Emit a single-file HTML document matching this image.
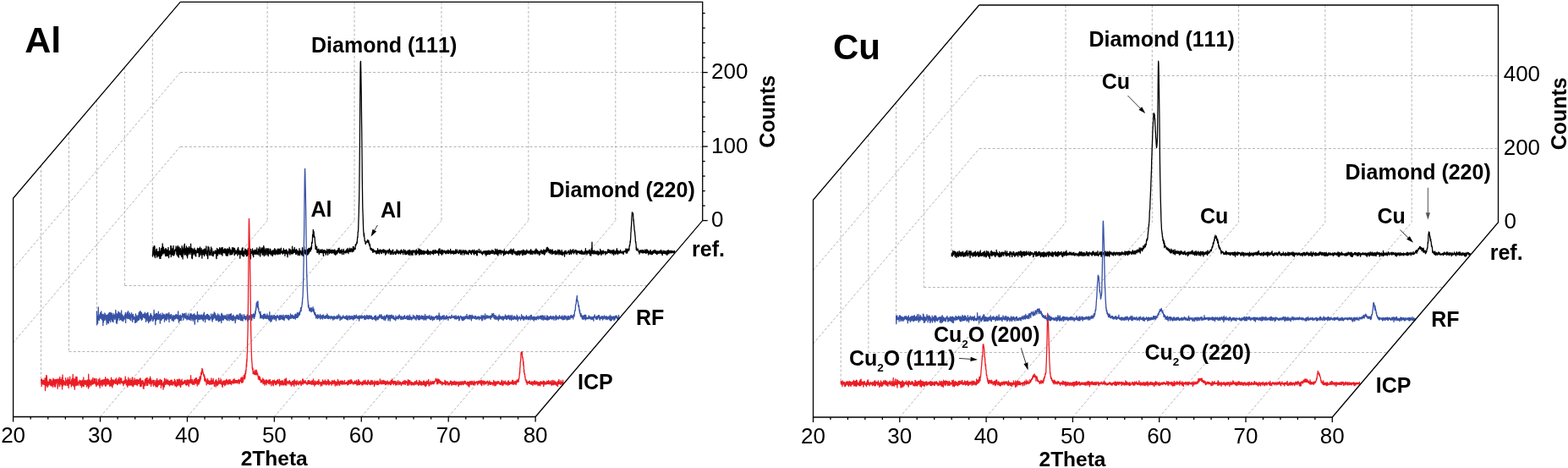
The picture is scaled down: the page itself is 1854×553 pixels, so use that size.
<!DOCTYPE html>
<html><head><meta charset="utf-8"><style>html,body{margin:0;padding:0;background:#fff}svg{display:block}</style></head>
<body><svg width="1854" height="553" viewBox="0 0 1854 553">
<style>.g{stroke:#b4b4b4;stroke-width:1;stroke-dasharray:3 2.3;fill:none} .t{stroke:#000;stroke-width:1.3} text{font-family:"Liberation Sans",Arial,sans-serif;fill:#000;font-kerning:none}</style>
<rect width="100%" height="100%" fill="#fff"/>
<line x1="316.12" y1="2.4" x2="316.12" y2="260.6" class="g"/>
<line x1="118.52" y1="492.5" x2="316.12" y2="260.6" class="g"/>
<line x1="419.04" y1="2.4" x2="419.04" y2="260.6" class="g"/>
<line x1="221.44" y1="492.5" x2="419.04" y2="260.6" class="g"/>
<line x1="521.96" y1="2.4" x2="521.96" y2="260.6" class="g"/>
<line x1="324.36" y1="492.5" x2="521.96" y2="260.6" class="g"/>
<line x1="624.88" y1="2.4" x2="624.88" y2="260.6" class="g"/>
<line x1="427.28" y1="492.5" x2="624.88" y2="260.6" class="g"/>
<line x1="727.8" y1="2.4" x2="727.8" y2="260.6" class="g"/>
<line x1="530.2" y1="492.5" x2="727.8" y2="260.6" class="g"/>
<line x1="213.2" y1="173.5" x2="830.72" y2="173.5" class="g"/>
<line x1="15.6" y1="405" x2="213.2" y2="173.1" class="g"/>
<line x1="213.2" y1="85.5" x2="830.72" y2="85.5" class="g"/>
<line x1="15.6" y1="317.5" x2="213.2" y2="85.6" class="g"/>
<line x1="48.53" y1="195.65" x2="48.53" y2="453.85" class="g"/>
<line x1="81.47" y1="157" x2="81.47" y2="415.2" class="g"/>
<line x1="81.47" y1="415.5" x2="698.99" y2="415.5" class="g"/>
<line x1="114.4" y1="118.35" x2="114.4" y2="376.55" class="g"/>
<line x1="147.33" y1="79.7" x2="147.33" y2="337.9" class="g"/>
<line x1="147.33" y1="337.5" x2="764.85" y2="337.5" class="g"/>
<line x1="180.27" y1="41.05" x2="180.27" y2="299.25" class="g"/>
<line x1="1260" y1="6" x2="1260" y2="262.7" class="g"/>
<line x1="1063.8" y1="493" x2="1260" y2="262.7" class="g"/>
<line x1="1362.3" y1="6" x2="1362.3" y2="262.7" class="g"/>
<line x1="1166.1" y1="493" x2="1362.3" y2="262.7" class="g"/>
<line x1="1464.6" y1="6" x2="1464.6" y2="262.7" class="g"/>
<line x1="1268.4" y1="493" x2="1464.6" y2="262.7" class="g"/>
<line x1="1566.9" y1="6" x2="1566.9" y2="262.7" class="g"/>
<line x1="1370.7" y1="493" x2="1566.9" y2="262.7" class="g"/>
<line x1="1669.2" y1="6" x2="1669.2" y2="262.7" class="g"/>
<line x1="1473" y1="493" x2="1669.2" y2="262.7" class="g"/>
<line x1="1157.7" y1="175.5" x2="1771.5" y2="175.5" class="g"/>
<line x1="961.5" y1="406.2" x2="1157.7" y2="175.9" class="g"/>
<line x1="1157.7" y1="89.5" x2="1771.5" y2="89.5" class="g"/>
<line x1="961.5" y1="319.4" x2="1157.7" y2="89.1" class="g"/>
<line x1="994.2" y1="197.92" x2="994.2" y2="454.62" class="g"/>
<line x1="1026.9" y1="159.53" x2="1026.9" y2="416.23" class="g"/>
<line x1="1026.9" y1="416.5" x2="1640.7" y2="416.5" class="g"/>
<line x1="1059.6" y1="121.15" x2="1059.6" y2="377.85" class="g"/>
<line x1="1092.3" y1="82.77" x2="1092.3" y2="339.47" class="g"/>
<line x1="1092.3" y1="339.5" x2="1706.1" y2="339.5" class="g"/>
<line x1="1125" y1="44.38" x2="1125" y2="301.08" class="g"/>
<path d="M180.3,300.8 180.5,303.0 180.7,298.5 180.9,295.7 181.1,292.7 181.3,297.0 181.5,299.8 181.7,300.7 181.9,294.3 182.1,290.7 182.3,296.3 182.5,302.6 182.7,301.4 182.9,290.8 183.1,296.6 183.4,304.6 183.6,297.8 183.8,302.2 184.0,300.1 184.2,299.5 184.4,300.4 184.6,295.2 184.8,297.7 185.0,299.9 185.2,295.8 185.4,294.1 185.6,304.2 185.8,298.5 186.0,301.5 186.2,298.1 186.4,302.7 186.6,297.4 186.9,297.6 187.1,298.7 187.3,301.7 187.5,299.1 187.7,301.9 187.9,302.9 188.1,296.6 188.3,301.9 188.5,292.7 188.7,294.6 188.9,305.5 189.1,296.4 189.3,301.9 189.5,297.3 189.7,297.3 189.9,305.4 190.1,298.4 190.4,298.5 190.6,293.6 190.8,302.2 191.0,294.5 191.2,301.9 191.4,298.8 191.6,300.8 191.8,291.7 192.0,295.2 192.2,287.8 192.4,294.9 192.6,294.1 192.8,294.2 193.0,299.9 193.2,297.7 193.4,292.2 193.6,299.0 193.9,296.7 194.1,297.6 194.3,295.1 194.5,298.9 194.7,298.1 194.9,296.5 195.1,297.1 195.3,300.9 195.5,294.0 195.7,302.5 195.9,302.2 196.1,302.5 196.3,293.7 196.5,298.9 196.7,301.2 196.9,301.9 197.1,295.9 197.4,301.6 197.6,302.4 197.8,295.1 198.0,302.1 198.2,298.8 198.4,297.5 198.6,299.2 198.8,297.7 199.0,292.3 199.2,299.5 199.4,302.3 199.6,304.5 199.8,298.3 200.0,298.8 200.2,296.5 200.4,299.3 200.6,299.3 200.9,300.2 201.1,299.5 201.3,296.9 201.5,298.9 201.7,297.1 201.9,290.3 202.1,295.7 202.3,303.4 202.5,291.0 202.7,296.2 202.9,301.0 203.1,294.1 203.3,297.5 203.5,299.8 203.7,299.9 203.9,301.2 204.1,297.3 204.3,293.5 204.6,298.7 204.8,295.9 205.0,290.5 205.2,302.0 205.4,296.5 205.6,298.6 205.8,301.4 206.0,301.3 206.2,297.6 206.4,295.9 206.6,299.5 206.8,297.3 207.0,294.9 207.2,296.4 207.4,294.3 207.6,295.8 207.8,295.7 208.1,290.8 208.3,295.2 208.5,297.0 208.7,294.9 208.9,300.9 209.1,298.7 209.3,294.6 209.5,295.2 209.7,291.9 209.9,297.5 210.1,302.8 210.3,290.5 210.5,293.6 210.7,301.3 210.9,292.5 211.1,297.4 211.3,304.1 211.6,299.0 211.8,299.3 212.0,291.8 212.2,300.3 212.4,298.4 212.6,298.5 212.8,298.9 213.0,300.8 213.2,296.8 213.4,293.7 213.6,295.3 213.8,300.8 214.0,301.6 214.2,297.1 214.4,300.0 214.6,299.8 214.8,303.5 215.1,290.6 215.3,294.3 215.5,301.0 215.7,294.3 215.9,292.8 216.1,306.0 216.3,299.5 216.5,298.9 216.7,295.3 216.9,298.0 217.1,298.3 217.3,297.7 217.5,291.0 217.7,290.0 217.9,299.4 218.1,300.8 218.3,288.1 218.6,301.0 218.8,299.5 219.0,297.4 219.2,295.8 219.4,293.9 219.6,296.2 219.8,300.6 220.0,295.8 220.2,296.7 220.4,291.0 220.6,297.6 220.8,302.2 221.0,301.2 221.2,292.5 221.4,299.4 221.6,304.8 221.8,299.5 222.1,297.6 222.3,293.4 222.5,301.0 222.7,295.3 222.9,294.8 223.1,300.0 223.3,298.2 223.5,291.5 223.7,291.6 223.9,294.6 224.1,296.4 224.3,293.7 224.5,298.1 224.7,297.9 224.9,300.5 225.1,297.5 225.3,297.8 225.6,288.1 225.8,298.2 226.0,293.2 226.2,293.1 226.4,298.2 226.6,293.6 226.8,304.9 227.0,297.2 227.2,294.6 227.4,305.7 227.6,301.5 227.8,294.0 228.0,298.4 228.2,301.3 228.4,298.8 228.6,299.4 228.8,295.1 229.1,296.0 229.3,298.5 229.5,299.8 229.7,297.7 229.9,293.1 230.1,296.4 230.3,295.4 230.5,298.1 230.7,301.9 230.9,300.0 231.1,295.4 231.3,297.2 231.5,300.6 231.7,302.9 231.9,297.2 232.1,298.7 232.3,298.7 232.6,298.7 232.8,296.6 233.0,296.6 233.2,294.4 233.4,294.5 233.6,293.2 233.8,294.9 234.0,298.7 234.2,297.7 234.4,295.9 234.6,298.6 234.8,295.8 235.0,293.8 235.2,300.2 235.4,303.4 235.6,293.7 235.8,297.5 236.0,295.3 236.3,301.9 236.5,291.9 236.7,295.2 236.9,298.0 237.1,298.7 237.3,297.2 237.5,298.1 237.7,298.5 237.9,301.2 238.1,293.5 238.3,297.7 238.5,297.4 238.7,297.3 238.9,305.2 239.1,295.9 239.3,298.6 239.5,298.5 239.8,297.3 240.0,300.7 240.2,294.9 240.4,299.8 240.6,300.5 240.8,300.3 241.0,297.1 241.2,295.2 241.4,299.5 241.6,302.4 241.8,294.2 242.0,301.0 242.2,293.8 242.4,297.8 242.6,299.8 242.8,299.6 243.0,296.1 243.3,294.8 243.5,298.2 243.7,294.6 243.9,291.0 244.1,298.2 244.3,301.2 244.5,300.9 244.7,302.0 244.9,299.6 245.1,299.9 245.3,301.7 245.5,295.9 245.7,305.7 245.9,301.7 246.1,291.3 246.3,294.3 246.5,296.0 246.8,296.2 247.0,292.1 247.2,295.9 247.4,297.4 247.6,301.4 247.8,297.8 248.0,299.9 248.2,299.8 248.4,299.8 248.6,297.8 248.8,298.6 249.0,294.9 249.2,301.7 249.4,298.1 249.6,291.9 249.8,297.5 250.0,293.9 250.3,294.1 250.5,293.6 250.7,295.4 250.9,301.8 251.1,298.4 251.3,298.7 251.5,302.3 251.7,299.0 251.9,301.4 252.1,302.7 252.3,297.0 252.5,297.8 252.7,299.7 252.9,300.5 253.1,299.3 253.3,298.8 253.5,298.9 253.8,297.8 254.0,298.9 254.2,296.4 254.4,296.0 254.6,296.5 254.8,299.6 255.0,299.5 255.2,296.3 255.4,298.2 255.6,297.7 255.8,305.0 256.0,305.7 256.2,296.6 256.4,296.6 256.6,293.5 256.8,295.5 257.0,297.0 257.3,297.6 257.5,301.9 257.7,295.0 257.9,299.4 258.1,296.1 258.3,297.0 258.5,296.9 258.7,295.0 258.9,299.1 259.1,298.8 259.3,300.1 259.5,298.7 259.7,292.7 259.9,298.7 260.1,294.2 260.3,295.2 260.5,295.5 260.8,295.3 261.0,300.6 261.2,296.6 261.4,293.0 261.6,299.7 261.8,297.8 262.0,299.6 262.2,296.7 262.4,300.7 262.6,293.0 262.8,298.7 263.0,302.1 263.2,292.5 263.4,294.8 263.6,296.2 263.8,296.1 264.0,298.7 264.2,298.3 264.5,295.6 264.7,295.0 264.9,295.0 265.1,297.0 265.3,298.9 265.5,298.2 265.7,294.5 265.9,293.6 266.1,298.6 266.3,299.0 266.5,294.1 266.7,295.6 266.9,295.7 267.1,301.4 267.3,298.7 267.5,299.1 267.7,297.0 268.0,302.4 268.2,294.1 268.4,296.8 268.6,296.4 268.8,301.0 269.0,297.7 269.2,293.9 269.4,302.0 269.6,296.8 269.8,295.7 270.0,299.6 270.2,295.4 270.4,298.6 270.6,294.3 270.8,296.2 271.0,297.0 271.2,292.1 271.5,295.3 271.7,294.0 271.9,301.0 272.1,299.4 272.3,295.4 272.5,295.2 272.7,297.8 272.9,295.5 273.1,300.6 273.3,297.1 273.5,300.8 273.7,296.7 273.9,299.0 274.1,299.4 274.3,297.5 274.5,292.7 274.7,300.4 275.0,299.3 275.2,294.8 275.4,298.8 275.6,292.9 275.8,297.1 276.0,297.4 276.2,296.7 276.4,293.0 276.6,295.9 276.8,296.3 277.0,297.0 277.2,301.8 277.4,300.0 277.6,293.7 277.8,295.5 278.0,296.3 278.2,296.0 278.5,299.1 278.7,296.7 278.9,300.1 279.1,296.7 279.3,299.6 279.5,298.2 279.7,296.5 279.9,298.5 280.1,296.0 280.3,296.5 280.5,296.7 280.7,294.2 280.9,301.6 281.1,301.8 281.3,296.1 281.5,295.2 281.7,292.4 282.0,295.7 282.2,295.5 282.4,300.0 282.6,295.7 282.8,295.9 283.0,300.4 283.2,300.0 283.4,298.0 283.6,296.9 283.8,305.3 284.0,297.5 284.2,297.1 284.4,298.1 284.6,297.0 284.8,296.5 285.0,300.3 285.2,296.6 285.5,298.4 285.7,300.2 285.9,297.1 286.1,293.9 286.3,301.4 286.5,302.0 286.7,301.9 286.9,292.6 287.1,298.4 287.3,297.8 287.5,299.7 287.7,300.1 287.9,302.9 288.1,297.2 288.3,297.0 288.5,302.7 288.7,300.4 289.0,299.6 289.2,297.7 289.4,297.1 289.6,294.8 289.8,294.2 290.0,295.0 290.2,294.3 290.4,300.7 290.6,299.1 290.8,294.8 291.0,297.0 291.2,297.6 291.4,302.7 291.6,302.4 291.8,295.8 292.0,296.9 292.2,298.4 292.4,298.8 292.7,302.1 292.9,296.8 293.1,295.1 293.3,293.5 293.5,297.6 293.7,298.2 293.9,300.5 294.1,294.6 294.3,293.4 294.5,299.3 294.7,297.0 294.9,297.5 295.1,299.2 295.3,304.0 295.5,298.6 295.7,296.2 295.9,301.3 296.2,299.8 296.4,305.9 296.6,294.5 296.8,296.5 297.0,297.6 297.2,298.4 297.4,299.3 297.6,297.9 297.8,298.5 298.0,298.3 298.2,297.8 298.4,297.4 298.6,293.9 298.8,301.3 299.0,297.1 299.2,299.3 299.4,300.5 299.7,303.6 299.9,296.2 300.1,300.2 300.3,299.6 300.5,296.6 300.7,300.4 300.9,297.7 301.1,297.9 301.3,295.7 301.5,295.2 301.7,299.9 301.9,295.5 302.1,298.0 302.3,297.5 302.5,298.3 302.7,295.9 302.9,300.8 303.2,297.1 303.4,294.9 303.6,298.4 303.8,292.8 304.0,299.6 304.2,297.2 304.4,299.0 304.6,299.3 304.8,300.5 305.0,299.1 305.2,297.8 305.4,299.7 305.6,295.6 305.8,294.1 306.0,301.5 306.2,295.7 306.4,297.3 306.7,297.2 306.9,291.8 307.1,294.8 307.3,297.0 307.5,297.3 307.7,303.0 307.9,295.8 308.1,299.6 308.3,297.3 308.5,297.5 308.7,295.4 308.9,292.8 309.1,295.4 309.3,294.6 309.5,298.3 309.7,296.6 309.9,295.9 310.2,301.2 310.4,292.8 310.6,299.5 310.8,300.8 311.0,293.8 311.2,292.7 311.4,299.4 311.6,299.2 311.8,290.3 312.0,297.5 312.2,302.5 312.4,299.2 312.6,293.0 312.8,296.1 313.0,295.9 313.2,294.8 313.4,296.1 313.7,298.5 313.9,301.6 314.1,296.6 314.3,300.4 314.5,297.9 314.7,293.6 314.9,296.5 315.1,297.6 315.3,297.6 315.5,295.9 315.7,295.6 315.9,300.9 316.1,297.3 316.3,293.7 316.5,295.9 316.7,299.6 316.9,299.4 317.2,302.6 317.4,299.6 317.6,293.9 317.8,297.9 318.0,299.8 318.2,299.1 318.4,298.0 318.6,298.0 318.8,298.6 319.0,299.6 319.2,296.3 319.4,294.1 319.6,299.1 319.8,299.0 320.0,295.0 320.2,301.2 320.4,299.2 320.6,298.6 320.9,297.4 321.1,298.4 321.3,299.8 321.5,297.0 321.7,300.5 321.9,301.8 322.1,302.5 322.3,296.0 322.5,301.8 322.7,296.7 322.9,296.2 323.1,295.9 323.3,298.2 323.5,299.0 323.7,297.6 323.9,299.2 324.1,300.7 324.4,294.9 324.6,299.8 324.8,293.6 325.0,296.6 325.2,298.8 325.4,296.7 325.6,294.9 325.8,301.0 326.0,299.9 326.2,300.1 326.4,297.3 326.6,296.8 326.8,297.7 327.0,299.4 327.2,299.0 327.4,295.1 327.6,295.2 327.9,297.5 328.1,300.8 328.3,296.3 328.5,297.1 328.7,297.2 328.9,293.9 329.1,295.9 329.3,300.0 329.5,300.0 329.7,294.6 329.9,297.3 330.1,295.8 330.3,298.0 330.5,299.9 330.7,297.0 330.9,294.1 331.1,296.9 331.4,300.2 331.6,298.4 331.8,298.7 332.0,297.2 332.2,295.3 332.4,293.1 332.6,297.1 332.8,298.6 333.0,297.4 333.2,297.5 333.4,298.5 333.6,297.5 333.8,297.6 334.0,300.2 334.2,296.3 334.4,298.4 334.6,299.8 334.9,296.4 335.1,298.7 335.3,293.6 335.5,296.4 335.7,297.4 335.9,299.2 336.1,298.5 336.3,295.6 336.5,299.1 336.7,295.9 336.9,302.3 337.1,297.2 337.3,295.8 337.5,296.9 337.7,297.6 337.9,295.3 338.1,299.5 338.4,299.8 338.6,297.4 338.8,294.9 339.0,296.6 339.2,298.1 339.4,297.0 339.6,296.7 339.8,300.3 340.0,303.8 340.2,299.8 340.4,301.0 340.6,298.9 340.8,300.2 341.0,299.4 341.2,296.7 341.4,297.4 341.6,297.6 341.9,294.0 342.1,298.7 342.3,298.4 342.5,294.9 342.7,300.1 342.9,301.1 343.1,294.7 343.3,296.9 343.5,296.2 343.7,296.2 343.9,295.6 344.1,298.6 344.3,297.7 344.5,299.9 344.7,297.2 344.9,297.1 345.1,298.5 345.4,296.0 345.6,291.1 345.8,300.1 346.0,295.8 346.2,295.4 346.4,295.2 346.6,299.3 346.8,294.9 347.0,296.1 347.2,297.8 347.4,298.3 347.6,296.9 347.8,295.4 348.0,295.6 348.2,292.5 348.4,298.1 348.6,296.1 348.8,298.3 349.1,295.7 349.3,297.1 349.5,298.7 349.7,300.3 349.9,299.0 350.1,296.9 350.3,294.3 350.5,295.9 350.7,300.0 350.9,298.4 351.1,297.3 351.3,297.6 351.5,297.3 351.7,295.9 351.9,297.1 352.1,298.9 352.3,301.7 352.6,298.3 352.8,301.2 353.0,298.0 353.2,297.0 353.4,300.5 353.6,297.9 353.8,298.4 354.0,293.7 354.2,296.9 354.4,301.8 354.6,296.9 354.8,296.9 355.0,298.3 355.2,298.5 355.4,296.6 355.6,296.3 355.8,296.9 356.1,300.0 356.3,298.5 356.5,301.1 356.7,301.0 356.9,299.0 357.1,300.1 357.3,298.6 357.5,292.7 357.7,296.9 357.9,299.8 358.1,302.4 358.3,299.6 358.5,300.9 358.7,302.3 358.9,296.3 359.1,298.9 359.3,296.9 359.6,291.5 359.8,297.3 360.0,297.6 360.2,297.2 360.4,298.4 360.6,299.5 360.8,298.2 361.0,295.5 361.2,298.5 361.4,300.6 361.6,300.3 361.8,300.0 362.0,297.6 362.2,296.6 362.4,296.7 362.6,295.1 362.8,297.9 363.1,295.8 363.3,296.8 363.5,296.0 363.7,301.2 363.9,294.7 364.1,300.6 364.3,299.5 364.5,295.8 364.7,297.8 364.9,293.5 365.1,296.4 365.3,299.1 365.5,296.5 365.7,297.9 365.9,293.6 366.1,293.2 366.3,294.9 366.6,296.9 366.8,295.8 367.0,293.5 367.2,296.7 367.4,296.7 367.6,292.5 367.8,291.7 368.0,293.0 368.2,291.5 368.4,294.3 368.6,286.5 368.8,287.1 369.0,287.5 369.2,286.5 369.4,284.4 369.6,277.1 369.8,277.6 370.1,279.3 370.3,271.4 370.5,272.3 370.7,276.8 370.9,280.0 371.1,273.6 371.3,277.8 371.5,278.2 371.7,280.1 371.9,279.5 372.1,280.5 372.3,283.2 372.5,285.8 372.7,288.1 372.9,288.2 373.1,294.4 373.3,289.7 373.6,293.9 373.8,292.8 374.0,294.1 374.2,293.3 374.4,293.1 374.6,291.5 374.8,296.7 375.0,298.3 375.2,296.2 375.4,297.8 375.6,295.0 375.8,298.5 376.0,296.7 376.2,295.3 376.4,295.3 376.6,296.7 376.8,294.2 377.0,294.6 377.3,300.4 377.5,296.5 377.7,296.9 377.9,297.8 378.1,298.4 378.3,297.2 378.5,296.5 378.7,296.9 378.9,294.8 379.1,295.4 379.3,298.7 379.5,298.7 379.7,295.7 379.9,298.7 380.1,297.2 380.3,296.5 380.5,295.5 380.8,296.4 381.0,294.6 381.2,298.4 381.4,296.3 381.6,298.9 381.8,297.3 382.0,297.2 382.2,299.2 382.4,302.4 382.6,295.6 382.8,296.8 383.0,297.2 383.2,298.9 383.4,298.2 383.6,296.6 383.8,297.5 384.0,295.4 384.3,297.4 384.5,298.9 384.7,296.5 384.9,298.8 385.1,297.2 385.3,301.0 385.5,298.2 385.7,296.6 385.9,298.8 386.1,297.6 386.3,296.5 386.5,297.5 386.7,294.3 386.9,298.1 387.1,298.0 387.3,297.9 387.5,301.3 387.8,300.5 388.0,296.7 388.2,298.3 388.4,295.0 388.6,297.7 388.8,297.9 389.0,295.7 389.2,297.0 389.4,294.6 389.6,299.6 389.8,296.7 390.0,296.4 390.2,296.5 390.4,295.4 390.6,295.6 390.8,297.4 391.0,298.7 391.3,295.9 391.5,297.5 391.7,295.8 391.9,295.1 392.1,297.2 392.3,299.3 392.5,298.0 392.7,296.1 392.9,297.9 393.1,295.3 393.3,297.5 393.5,297.2 393.7,298.6 393.9,297.7 394.1,295.5 394.3,298.2 394.5,298.0 394.8,299.0 395.0,296.0 395.2,300.2 395.4,298.6 395.6,296.0 395.8,294.9 396.0,298.1 396.2,295.8 396.4,301.2 396.6,296.3 396.8,296.8 397.0,299.8 397.2,300.9 397.4,298.5 397.6,297.0 397.8,296.8 398.0,297.3 398.3,296.2 398.5,296.1 398.7,299.9 398.9,298.0 399.1,298.3 399.3,295.6 399.5,298.2 399.7,295.7 399.9,297.2 400.1,293.4 400.3,297.7 400.5,297.5 400.7,297.6 400.9,297.2 401.1,293.2 401.3,298.4 401.5,299.0 401.8,297.7 402.0,296.1 402.2,299.1 402.4,296.0 402.6,296.0 402.8,297.6 403.0,297.9 403.2,298.8 403.4,297.8 403.6,298.7 403.8,295.2 404.0,294.6 404.2,297.9 404.4,297.3 404.6,300.6 404.8,298.4 405.0,296.9 405.2,296.8 405.5,296.9 405.7,295.8 405.9,297.2 406.1,297.8 406.3,294.5 406.5,300.6 406.7,299.2 406.9,298.5 407.1,298.4 407.3,298.4 407.5,297.6 407.7,298.4 407.9,297.2 408.1,296.4 408.3,297.1 408.5,296.9 408.7,298.6 409.0,299.1 409.2,297.4 409.4,295.5 409.6,296.3 409.8,295.0 410.0,295.2 410.2,295.1 410.4,298.3 410.6,294.7 410.8,295.3 411.0,293.3 411.2,295.7 411.4,296.0 411.6,296.8 411.8,296.5 412.0,299.6 412.2,296.9 412.5,296.4 412.7,294.8 412.9,297.4 413.1,296.2 413.3,293.2 413.5,297.0 413.7,294.9 413.9,297.0 414.1,296.4 414.3,295.5 414.5,294.6 414.7,296.9 414.9,297.6 415.1,293.3 415.3,295.5 415.5,294.4 415.7,294.2 416.0,294.2 416.2,296.1 416.4,295.9 416.6,297.6 416.8,295.3 417.0,295.9 417.2,295.0 417.4,291.5 417.6,293.6 417.8,294.5 418.0,297.0 418.2,292.7 418.4,291.8 418.6,295.1 418.8,293.1 419.0,293.9 419.2,293.6 419.5,293.8 419.7,294.7 419.9,293.2 420.1,294.4 420.3,289.0 420.5,289.8 420.7,290.1 420.9,289.9 421.1,289.3 421.3,288.2 421.5,287.7 421.7,287.9 421.9,286.0 422.1,287.7 422.3,286.1 422.5,282.8 422.7,279.9 423.0,280.6 423.2,273.8 423.4,274.4 423.6,273.3 423.8,266.7 424.0,259.6 424.2,253.9 424.4,245.6 424.6,237.4 424.8,226.5 425.0,209.4 425.2,190.3 425.4,167.4 425.6,139.1 425.8,109.6 426.0,88.0 426.2,73.6 426.5,72.3 426.7,80.8 426.9,91.9 427.1,102.9 427.3,114.6 427.5,136.3 427.7,150.7 427.9,169.9 428.1,188.2 428.3,210.2 428.5,224.3 428.7,238.4 428.9,248.9 429.1,252.8 429.3,258.9 429.5,265.9 429.7,272.3 430.0,274.9 430.2,278.9 430.4,275.7 430.6,276.7 430.8,280.9 431.0,281.1 431.2,284.8 431.4,284.6 431.6,284.4 431.8,284.6 432.0,286.3 432.2,288.4 432.4,288.3 432.6,286.4 432.8,286.9 433.0,286.1 433.2,286.7 433.4,285.6 433.7,285.6 433.9,285.0 434.1,285.1 434.3,285.9 434.5,285.1 434.7,283.5 434.9,285.3 435.1,286.1 435.3,286.8 435.5,285.1 435.7,285.5 435.9,284.2 436.1,287.3 436.3,286.1 436.5,289.2 436.7,288.6 436.9,290.3 437.2,288.7 437.4,288.4 437.6,291.3 437.8,292.5 438.0,294.4 438.2,292.9 438.4,294.3 438.6,293.5 438.8,295.2 439.0,295.7 439.2,295.0 439.4,294.3 439.6,293.6 439.8,295.4 440.0,295.4 440.2,296.2 440.4,296.1 440.7,298.2 440.9,294.7 441.1,295.3 441.3,294.4 441.5,297.2 441.7,296.3 441.9,297.9 442.1,296.1 442.3,297.1 442.5,295.8 442.7,296.8 442.9,296.0 443.1,297.3 443.3,296.4 443.5,297.1 443.7,297.4 443.9,296.8 444.2,296.4 444.4,299.1 444.6,298.9 444.8,296.7 445.0,297.0 445.2,300.0 445.4,299.7 445.6,298.4 445.8,296.6 446.0,296.7 446.2,295.6 446.4,295.5 446.6,293.7 446.8,299.3 447.0,297.1 447.2,295.6 447.4,299.0 447.7,299.1 447.9,297.1 448.1,295.8 448.3,295.5 448.5,300.0 448.7,299.2 448.9,297.4 449.1,298.1 449.3,297.1 449.5,297.2 449.7,294.9 449.9,297.7 450.1,297.1 450.3,297.3 450.5,295.8 450.7,299.1 450.9,296.9 451.2,298.6 451.4,299.5 451.6,295.8 451.8,296.7 452.0,295.5 452.2,297.0 452.4,296.5 452.6,297.4 452.8,296.8 453.0,298.1 453.2,294.9 453.4,298.8 453.6,294.9 453.8,297.8 454.0,296.2 454.2,297.5 454.4,296.9 454.7,295.4 454.9,297.3 455.1,298.9 455.3,297.2 455.5,296.8 455.7,301.1 455.9,296.1 456.1,296.0 456.3,300.2 456.5,297.9 456.7,296.3 456.9,299.3 457.1,298.1 457.3,298.1 457.5,296.9 457.7,296.1 457.9,297.6 458.2,297.6 458.4,296.2 458.6,296.8 458.8,297.8 459.0,295.6 459.2,299.7 459.4,297.5 459.6,298.3 459.8,298.4 460.0,297.3 460.2,297.7 460.4,294.1 460.6,296.6 460.8,297.2 461.0,295.3 461.2,296.2 461.4,300.4 461.6,297.4 461.9,296.5 462.1,298.6 462.3,297.1 462.5,298.4 462.7,297.1 462.9,300.0 463.1,300.7 463.3,298.6 463.5,297.5 463.7,295.8 463.9,298.1 464.1,298.7 464.3,296.3 464.5,297.6 464.7,295.1 464.9,297.9 465.1,300.7 465.4,298.9 465.6,299.2 465.8,299.9 466.0,298.9 466.2,298.8 466.4,298.2 466.6,298.5 466.8,297.2 467.0,297.2 467.2,297.5 467.4,297.6 467.6,300.5 467.8,300.3 468.0,299.1 468.2,297.5 468.4,299.9 468.6,298.4 468.9,297.6 469.1,294.9 469.3,297.4 469.5,298.5 469.7,296.3 469.9,297.5 470.1,298.2 470.3,296.1 470.5,299.2 470.7,297.5 470.9,297.7 471.1,296.5 471.3,299.6 471.5,299.9 471.7,298.5 471.9,298.3 472.1,297.8 472.4,298.4 472.6,297.2 472.8,296.9 473.0,297.6 473.2,299.4 473.4,296.2 473.6,300.1 473.8,298.3 474.0,296.7 474.2,298.9 474.4,295.8 474.6,295.1 474.8,295.6 475.0,297.2 475.2,296.4 475.4,298.7 475.6,297.5 475.9,297.2 476.1,297.8 476.3,297.6 476.5,298.2 476.7,300.8 476.9,297.4 477.1,297.5 477.3,294.9 477.5,296.9 477.7,297.8 477.9,296.6 478.1,297.0 478.3,297.9 478.5,298.4 478.7,300.1 478.9,297.7 479.1,295.5 479.4,300.7 479.6,299.3 479.8,296.8 480.0,297.7 480.2,297.3 480.4,300.6 480.6,298.8 480.8,297.2 481.0,297.1 481.2,297.5 481.4,299.2 481.6,297.2 481.8,299.8 482.0,299.3 482.2,299.6 482.4,295.8 482.6,298.6 482.9,297.9 483.1,301.2 483.3,296.4 483.5,297.2 483.7,300.3 483.9,300.3 484.1,295.5 484.3,299.3 484.5,295.2 484.7,298.6 484.9,301.6 485.1,296.3 485.3,297.2 485.5,296.9 485.7,298.7 485.9,298.3 486.1,296.5 486.4,299.1 486.6,300.9 486.8,296.6 487.0,298.8 487.2,296.2 487.4,298.7 487.6,298.6 487.8,298.3 488.0,301.4 488.2,296.2 488.4,298.9 488.6,298.3 488.8,295.8 489.0,297.8 489.2,296.7 489.4,297.4 489.6,296.8 489.9,297.6 490.1,296.2 490.3,298.3 490.5,297.3 490.7,299.1 490.9,296.2 491.1,301.1 491.3,297.7 491.5,297.4 491.7,297.4 491.9,297.9 492.1,296.0 492.3,294.9 492.5,298.9 492.7,300.8 492.9,299.6 493.1,299.2 493.3,298.2 493.6,298.0 493.8,296.4 494.0,298.6 494.2,298.0 494.4,297.8 494.6,299.2 494.8,298.5 495.0,293.9 495.2,298.1 495.4,299.4 495.6,301.2 495.8,296.4 496.0,298.4 496.2,298.9 496.4,294.3 496.6,295.8 496.8,300.5 497.1,298.5 497.3,296.5 497.5,296.8 497.7,299.6 497.9,295.3 498.1,295.3 498.3,299.6 498.5,300.6 498.7,300.1 498.9,297.0 499.1,296.4 499.3,297.7 499.5,298.9 499.7,298.1 499.9,297.2 500.1,299.8 500.3,300.5 500.6,298.2 500.8,296.2 501.0,297.7 501.2,297.7 501.4,299.0 501.6,296.7 501.8,300.5 502.0,298.1 502.2,298.9 502.4,298.3 502.6,299.4 502.8,297.0 503.0,298.1 503.2,298.9 503.4,297.3 503.6,298.2 503.8,298.8 504.1,298.9 504.3,296.9 504.5,299.5 504.7,298.4 504.9,298.4 505.1,297.6 505.3,298.3 505.5,294.8 505.7,300.7 505.9,297.1 506.1,298.1 506.3,296.4 506.5,300.5 506.7,296.2 506.9,300.1 507.1,297.0 507.3,297.3 507.6,298.0 507.8,299.1 508.0,299.2 508.2,297.9 508.4,299.1 508.6,300.9 508.8,300.7 509.0,296.8 509.2,296.8 509.4,297.3 509.6,298.0 509.8,297.5 510.0,297.3 510.2,297.7 510.4,299.2 510.6,299.1 510.8,299.7 511.1,297.8 511.3,299.5 511.5,298.3 511.7,296.1 511.9,298.6 512.1,296.6 512.3,295.7 512.5,300.7 512.7,300.1 512.9,297.3 513.1,299.1 513.3,297.2 513.5,297.1 513.7,298.8 513.9,296.8 514.1,295.5 514.3,296.6 514.6,299.3 514.8,298.2 515.0,298.8 515.2,295.7 515.4,298.3 515.6,299.0 515.8,297.9 516.0,297.2 516.2,298.5 516.4,297.9 516.6,298.0 516.8,297.0 517.0,296.6 517.2,297.6 517.4,298.6 517.6,297.4 517.8,299.3 518.1,296.4 518.3,297.5 518.5,297.6 518.7,301.6 518.9,294.5 519.1,295.8 519.3,296.1 519.5,297.8 519.7,297.0 519.9,293.7 520.1,299.0 520.3,296.9 520.5,297.0 520.7,297.8 520.9,297.5 521.1,299.4 521.3,297.0 521.5,299.9 521.8,295.2 522.0,296.7 522.2,299.1 522.4,301.1 522.6,297.8 522.8,297.1 523.0,299.4 523.2,295.5 523.4,297.5 523.6,298.6 523.8,300.0 524.0,298.0 524.2,298.2 524.4,296.9 524.6,296.3 524.8,297.8 525.0,297.2 525.3,295.8 525.5,297.0 525.7,298.3 525.9,296.9 526.1,298.7 526.3,297.2 526.5,297.8 526.7,299.5 526.9,297.0 527.1,297.8 527.3,296.8 527.5,299.9 527.7,296.3 527.9,296.2 528.1,298.4 528.3,298.1 528.5,297.8 528.8,297.9 529.0,296.6 529.2,299.0 529.4,299.6 529.6,298.3 529.8,295.1 530.0,298.5 530.2,299.5 530.4,299.3 530.6,297.7 530.8,296.3 531.0,299.1 531.2,297.7 531.4,297.6 531.6,297.3 531.8,297.8 532.0,296.4 532.3,297.0 532.5,298.8 532.7,294.4 532.9,300.0 533.1,299.9 533.3,296.4 533.5,297.7 533.7,298.4 533.9,297.7 534.1,296.9 534.3,298.6 534.5,298.9 534.7,299.5 534.9,299.3 535.1,299.2 535.3,296.3 535.5,297.6 535.8,297.2 536.0,298.8 536.2,296.5 536.4,300.3 536.6,297.3 536.8,297.0 537.0,298.8 537.2,299.5 537.4,297.2 537.6,299.1 537.8,299.3 538.0,298.0 538.2,299.6 538.4,298.2 538.6,295.0 538.8,298.6 539.0,296.7 539.3,299.6 539.5,297.9 539.7,298.4 539.9,298.2 540.1,296.9 540.3,294.8 540.5,298.2 540.7,296.1 540.9,297.5 541.1,296.9 541.3,298.7 541.5,299.1 541.7,298.3 541.9,299.1 542.1,298.0 542.3,299.5 542.5,298.0 542.8,297.7 543.0,295.3 543.2,295.5 543.4,297.2 543.6,298.7 543.8,297.1 544.0,296.8 544.2,298.3 544.4,299.3 544.6,300.6 544.8,298.1 545.0,295.2 545.2,298.3 545.4,297.4 545.6,297.5 545.8,297.3 546.0,296.9 546.3,301.0 546.5,298.2 546.7,297.4 546.9,298.2 547.1,296.2 547.3,298.6 547.5,296.7 547.7,295.4 547.9,298.4 548.1,297.9 548.3,298.4 548.5,296.9 548.7,301.2 548.9,300.2 549.1,298.4 549.3,296.7 549.5,297.1 549.7,299.2 550.0,295.6 550.2,297.8 550.4,298.9 550.6,297.2 550.8,296.1 551.0,298.1 551.2,300.2 551.4,298.8 551.6,297.9 551.8,296.6 552.0,299.5 552.2,297.6 552.4,299.7 552.6,297.8 552.8,299.9 553.0,298.7 553.2,300.2 553.5,299.4 553.7,300.3 553.9,300.9 554.1,296.2 554.3,296.2 554.5,297.2 554.7,298.5 554.9,295.8 555.1,298.4 555.3,297.3 555.5,296.3 555.7,297.6 555.9,295.8 556.1,298.1 556.3,298.2 556.5,297.8 556.7,299.6 557.0,299.5 557.2,296.8 557.4,300.5 557.6,296.3 557.8,297.6 558.0,296.2 558.2,296.8 558.4,297.1 558.6,295.4 558.8,298.1 559.0,298.1 559.2,296.3 559.4,298.9 559.6,296.3 559.8,297.0 560.0,298.7 560.2,299.8 560.5,300.9 560.7,295.2 560.9,300.2 561.1,299.7 561.3,296.7 561.5,297.3 561.7,297.6 561.9,297.9 562.1,298.6 562.3,299.4 562.5,299.1 562.7,297.1 562.9,296.4 563.1,296.3 563.3,298.1 563.5,301.3 563.7,297.2 564.0,298.2 564.2,301.9 564.4,296.0 564.6,297.7 564.8,298.0 565.0,297.7 565.2,297.8 565.4,297.6 565.6,297.8 565.8,298.0 566.0,297.1 566.2,297.5 566.4,294.4 566.6,297.8 566.8,298.7 567.0,298.8 567.2,297.4 567.5,297.8 567.7,297.6 567.9,298.2 568.1,298.2 568.3,296.8 568.5,295.9 568.7,297.4 568.9,298.1 569.1,299.6 569.3,299.7 569.5,297.9 569.7,298.3 569.9,298.1 570.1,299.6 570.3,298.2 570.5,300.9 570.7,299.7 571.0,299.2 571.2,297.2 571.4,298.9 571.6,299.4 571.8,297.6 572.0,298.2 572.2,296.6 572.4,297.6 572.6,297.7 572.8,298.3 573.0,297.1 573.2,299.2 573.4,300.3 573.6,296.7 573.8,298.7 574.0,298.0 574.2,297.1 574.5,296.6 574.7,302.3 574.9,299.6 575.1,296.3 575.3,300.6 575.5,297.4 575.7,298.6 575.9,299.4 576.1,298.3 576.3,300.6 576.5,297.5 576.7,296.4 576.9,300.2 577.1,299.1 577.3,296.3 577.5,297.5 577.7,298.5 577.9,296.0 578.2,300.5 578.4,298.5 578.6,297.9 578.8,298.5 579.0,296.9 579.2,300.5 579.4,298.0 579.6,299.3 579.8,296.3 580.0,296.5 580.2,299.2 580.4,299.7 580.6,298.2 580.8,299.4 581.0,298.9 581.2,297.4 581.4,298.7 581.7,295.4 581.9,298.0 582.1,298.8 582.3,299.7 582.5,298.8 582.7,296.4 582.9,297.3 583.1,296.0 583.3,296.2 583.5,297.3 583.7,299.1 583.9,298.3 584.1,298.0 584.3,300.5 584.5,297.6 584.7,299.6 584.9,298.2 585.2,298.9 585.4,297.2 585.6,294.2 585.8,299.8 586.0,298.1 586.2,295.1 586.4,299.4 586.6,298.4 586.8,298.3 587.0,297.6 587.2,300.4 587.4,297.7 587.6,297.2 587.8,294.4 588.0,298.2 588.2,298.9 588.4,297.9 588.7,301.9 588.9,297.6 589.1,295.8 589.3,298.1 589.5,298.1 589.7,298.5 589.9,297.8 590.1,299.9 590.3,295.8 590.5,298.8 590.7,298.8 590.9,295.6 591.1,298.0 591.3,298.7 591.5,295.6 591.7,297.7 591.9,296.7 592.2,298.9 592.4,300.6 592.6,297.8 592.8,296.0 593.0,298.7 593.2,297.5 593.4,297.0 593.6,297.7 593.8,297.9 594.0,296.9 594.2,297.7 594.4,298.8 594.6,296.5 594.8,296.8 595.0,297.5 595.2,297.0 595.4,301.9 595.7,297.6 595.9,298.0 596.1,300.9 596.3,295.0 596.5,297.5 596.7,298.7 596.9,298.6 597.1,297.7 597.3,298.1 597.5,300.4 597.7,298.6 597.9,297.4 598.1,297.2 598.3,296.7 598.5,299.6 598.7,299.0 598.9,297.5 599.2,298.9 599.4,297.7 599.6,299.2 599.8,297.1 600.0,297.9 600.2,297.1 600.4,298.0 600.6,299.2 600.8,299.8 601.0,297.9 601.2,298.9 601.4,300.2 601.6,298.8 601.8,296.8 602.0,296.2 602.2,296.9 602.4,296.0 602.7,298.5 602.9,298.2 603.1,299.4 603.3,299.1 603.5,295.7 603.7,297.3 603.9,297.0 604.1,294.2 604.3,295.2 604.5,299.2 604.7,296.5 604.9,299.1 605.1,296.5 605.3,300.7 605.5,299.4 605.7,299.3 605.9,295.1 606.1,300.6 606.4,296.3 606.6,296.4 606.8,297.8 607.0,296.7 607.2,294.2 607.4,297.6 607.6,298.3 607.8,296.0 608.0,296.8 608.2,299.7 608.4,297.7 608.6,297.6 608.8,299.6 609.0,299.4 609.2,298.9 609.4,299.7 609.6,297.2 609.9,297.5 610.1,301.2 610.3,298.6 610.5,297.8 610.7,300.0 610.9,298.4 611.1,297.6 611.3,300.5 611.5,298.5 611.7,301.5 611.9,296.9 612.1,299.1 612.3,300.1 612.5,300.7 612.7,300.4 612.9,296.1 613.1,299.3 613.4,298.9 613.6,298.6 613.8,300.2 614.0,296.9 614.2,301.7 614.4,296.7 614.6,299.2 614.8,298.0 615.0,297.7 615.2,296.8 615.4,299.9 615.6,297.2 615.8,298.2 616.0,298.3 616.2,298.5 616.4,296.4 616.6,297.4 616.9,296.2 617.1,296.8 617.3,301.0 617.5,298.2 617.7,296.6 617.9,299.4 618.1,300.6 618.3,301.5 618.5,295.2 618.7,299.5 618.9,297.9 619.1,299.7 619.3,297.5 619.5,295.6 619.7,300.3 619.9,298.2 620.1,299.2 620.4,300.9 620.6,299.4 620.8,298.1 621.0,296.3 621.2,296.3 621.4,298.1 621.6,300.5 621.8,297.1 622.0,298.1 622.2,298.2 622.4,299.8 622.6,298.3 622.8,295.2 623.0,295.9 623.2,296.2 623.4,297.1 623.6,298.7 623.9,298.1 624.1,297.9 624.3,297.5 624.5,298.6 624.7,299.4 624.9,296.4 625.1,298.7 625.3,296.8 625.5,298.4 625.7,297.1 625.9,297.4 626.1,297.0 626.3,297.1 626.5,299.5 626.7,300.1 626.9,298.2 627.1,295.6 627.4,299.3 627.6,299.5 627.8,294.7 628.0,300.4 628.2,299.0 628.4,298.7 628.6,299.1 628.8,299.1 629.0,296.5 629.2,297.8 629.4,297.9 629.6,300.5 629.8,296.9 630.0,297.9 630.2,297.9 630.4,296.9 630.6,297.7 630.9,298.1 631.1,297.5 631.3,299.1 631.5,299.4 631.7,300.1 631.9,296.7 632.1,299.0 632.3,297.8 632.5,296.5 632.7,295.4 632.9,298.6 633.1,297.9 633.3,298.0 633.5,300.0 633.7,298.8 633.9,294.0 634.1,298.2 634.3,295.5 634.6,297.0 634.8,295.5 635.0,296.2 635.2,297.7 635.4,299.9 635.6,296.0 635.8,297.0 636.0,297.3 636.2,296.8 636.4,299.2 636.6,297.9 636.8,298.0 637.0,300.2 637.2,299.9 637.4,298.2 637.6,301.4 637.8,297.0 638.1,296.9 638.3,298.1 638.5,297.7 638.7,300.7 638.9,297.8 639.1,296.9 639.3,297.3 639.5,296.7 639.7,298.1 639.9,295.1 640.1,297.4 640.3,296.9 640.5,296.5 640.7,299.2 640.9,299.6 641.1,296.9 641.3,299.9 641.6,298.9 641.8,296.5 642.0,299.6 642.2,299.4 642.4,299.7 642.6,299.5 642.8,295.0 643.0,296.9 643.2,296.2 643.4,300.4 643.6,301.1 643.8,299.2 644.0,295.7 644.2,295.7 644.4,300.1 644.6,299.3 644.8,296.1 645.1,296.3 645.3,295.9 645.5,295.1 645.7,297.6 645.9,295.5 646.1,295.9 646.3,293.0 646.5,295.1 646.7,297.9 646.9,293.1 647.1,292.1 647.3,293.3 647.5,295.2 647.7,296.1 647.9,293.1 648.1,295.3 648.3,294.5 648.6,293.8 648.8,295.4 649.0,298.6 649.2,294.9 649.4,297.4 649.6,298.3 649.8,296.3 650.0,296.5 650.2,296.8 650.4,295.8 650.6,299.8 650.8,296.7 651.0,294.7 651.2,297.5 651.4,298.1 651.6,297.9 651.8,295.9 652.1,297.9 652.3,298.9 652.5,300.4 652.7,295.8 652.9,295.9 653.1,297.9 653.3,294.9 653.5,298.6 653.7,297.0 653.9,299.9 654.1,299.5 654.3,298.0 654.5,297.4 654.7,297.2 654.9,299.4 655.1,298.8 655.3,298.3 655.6,298.5 655.8,298.4 656.0,296.8 656.2,296.3 656.4,300.8 656.6,296.1 656.8,297.8 657.0,297.6 657.2,297.6 657.4,296.7 657.6,297.0 657.8,300.4 658.0,296.8 658.2,299.8 658.4,297.5 658.6,297.8 658.8,300.4 659.1,298.1 659.3,298.4 659.5,299.1 659.7,295.2 659.9,297.8 660.1,298.7 660.3,295.6 660.5,298.1 660.7,298.3 660.9,301.0 661.1,297.2 661.3,296.6 661.5,295.3 661.7,299.6 661.9,296.6 662.1,296.1 662.3,297.1 662.5,298.1 662.8,300.6 663.0,297.9 663.2,298.9 663.4,300.7 663.6,297.3 663.8,298.3 664.0,298.5 664.2,295.3 664.4,298.9 664.6,301.1 664.8,301.4 665.0,297.4 665.2,298.5 665.4,299.2 665.6,301.2 665.8,299.4 666.0,299.8 666.3,298.3 666.5,299.4 666.7,299.4 666.9,298.2 667.1,299.3 667.3,297.7 667.5,303.1 667.7,300.0 667.9,296.4 668.1,297.9 668.3,299.8 668.5,298.4 668.7,299.1 668.9,298.7 669.1,296.1 669.3,298.7 669.5,297.9 669.8,299.4 670.0,299.3 670.2,300.4 670.4,299.2 670.6,298.8 670.8,298.6 671.0,298.1 671.2,298.1 671.4,297.2 671.6,298.5 671.8,296.3 672.0,297.3 672.2,296.2 672.4,298.3 672.6,296.4 672.8,298.0 673.0,300.6 673.3,298.2 673.5,298.4 673.7,300.3 673.9,299.6 674.1,299.1 674.3,294.8 674.5,297.7 674.7,295.5 674.9,296.8 675.1,296.6 675.3,297.0 675.5,300.3 675.7,296.4 675.9,299.7 676.1,297.5 676.3,298.3 676.5,295.8 676.8,296.4 677.0,295.5 677.2,297.5 677.4,298.1 677.6,297.1 677.8,294.7 678.0,297.4 678.2,298.1 678.4,299.9 678.6,299.2 678.8,298.3 679.0,297.2 679.2,297.3 679.4,298.3 679.6,297.9 679.8,295.9 680.0,295.5 680.3,296.4 680.5,296.0 680.7,296.4 680.9,295.5 681.1,299.9 681.3,298.9 681.5,297.8 681.7,297.6 681.9,296.2 682.1,300.8 682.3,297.9 682.5,297.8 682.7,299.1 682.9,298.4 683.1,296.7 683.3,297.5 683.5,298.3 683.8,297.8 684.0,298.4 684.2,296.8 684.4,298.3 684.6,296.7 684.8,298.9 685.0,298.2 685.2,299.7 685.4,298.4 685.6,296.9 685.8,299.6 686.0,298.6 686.2,298.0 686.4,298.6 686.6,297.0 686.8,299.9 687.0,296.9 687.3,296.2 687.5,295.7 687.7,298.2 687.9,299.3 688.1,300.4 688.3,297.1 688.5,296.9 688.7,297.7 688.9,297.6 689.1,297.1 689.3,298.6 689.5,300.2 689.7,300.1 689.9,299.3 690.1,299.4 690.3,300.4 690.5,298.7 690.7,299.6 691.0,297.1 691.2,298.2 691.4,297.0 691.6,300.0 691.8,299.7 692.0,300.4 692.2,297.7 692.4,293.7 692.6,297.8 692.8,298.7 693.0,297.8 693.2,298.2 693.4,296.7 693.6,298.1 693.8,299.4 694.0,300.8 694.2,297.6 694.5,296.7 694.7,297.9 694.9,299.4 695.1,298.6 695.3,298.6 695.5,297.3 695.7,298.2 695.9,296.4 696.1,298.4 696.3,299.1 696.5,295.5 696.7,299.5 696.9,299.3 697.1,295.1 697.3,297.7 697.5,295.5 697.7,301.7 698.0,296.3 698.2,298.1 698.4,297.9 698.6,297.4 698.8,302.0 699.0,299.4 699.2,297.4 699.4,293.4 699.6,299.2 699.8,294.7 700.0,286.2 700.2,296.6 700.4,299.5 700.6,297.3 700.8,299.4 701.0,299.8 701.2,296.2 701.5,299.1 701.7,298.8 701.9,297.1 702.1,299.3 702.3,300.0 702.5,297.7 702.7,297.7 702.9,295.9 703.1,299.7 703.3,297.0 703.5,297.1 703.7,298.8 703.9,298.3 704.1,298.1 704.3,299.6 704.5,300.1 704.7,297.1 705.0,299.7 705.2,299.6 705.4,297.0 705.6,298.9 705.8,298.7 706.0,300.1 706.2,299.9 706.4,300.1 706.6,300.1 706.8,296.4 707.0,299.6 707.2,301.5 707.4,299.8 707.6,297.2 707.8,299.8 708.0,298.3 708.2,299.6 708.5,300.7 708.7,299.0 708.9,299.6 709.1,297.9 709.3,297.2 709.5,298.3 709.7,294.4 709.9,299.7 710.1,296.3 710.3,297.5 710.5,296.2 710.7,297.4 710.9,301.4 711.1,298.7 711.3,296.7 711.5,298.1 711.7,300.1 712.0,299.0 712.2,297.7 712.4,296.5 712.6,299.1 712.8,298.0 713.0,299.6 713.2,300.0 713.4,299.0 713.6,296.2 713.8,297.2 714.0,298.5 714.2,298.2 714.4,297.5 714.6,298.4 714.8,298.8 715.0,298.6 715.2,297.3 715.5,298.8 715.7,297.1 715.9,301.0 716.1,299.3 716.3,298.9 716.5,297.4 716.7,299.5 716.9,299.0 717.1,297.8 717.3,298.3 717.5,299.2 717.7,298.7 717.9,299.7 718.1,297.1 718.3,297.6 718.5,297.0 718.7,295.0 718.9,296.4 719.2,297.5 719.4,298.4 719.6,295.0 719.8,297.8 720.0,298.5 720.2,296.3 720.4,297.5 720.6,298.4 720.8,297.4 721.0,295.3 721.2,297.9 721.4,297.5 721.6,299.3 721.8,298.6 722.0,296.7 722.2,298.1 722.4,297.7 722.7,296.4 722.9,298.5 723.1,295.7 723.3,298.8 723.5,299.0 723.7,299.1 723.9,300.1 724.1,297.1 724.3,297.9 724.5,296.0 724.7,299.0 724.9,296.9 725.1,296.0 725.3,298.3 725.5,298.2 725.7,301.4 725.9,295.2 726.2,298.1 726.4,296.9 726.6,298.7 726.8,297.5 727.0,299.6 727.2,297.0 727.4,297.8 727.6,298.5 727.8,297.3 728.0,300.4 728.2,297.7 728.4,298.6 728.6,296.0 728.8,296.8 729.0,298.2 729.2,298.3 729.4,293.7 729.7,299.4 729.9,295.3 730.1,296.5 730.3,296.8 730.5,300.6 730.7,296.7 730.9,298.7 731.1,299.2 731.3,297.0 731.5,298.9 731.7,297.0 731.9,299.2 732.1,297.0 732.3,297.1 732.5,299.2 732.7,299.2 732.9,298.8 733.2,298.6 733.4,298.7 733.6,295.3 733.8,297.2 734.0,298.3 734.2,298.3 734.4,298.9 734.6,297.3 734.8,298.1 735.0,298.6 735.2,298.9 735.4,298.1 735.6,299.2 735.8,297.6 736.0,299.0 736.2,297.0 736.4,298.1 736.7,297.1 736.9,298.5 737.1,300.5 737.3,299.5 737.5,298.0 737.7,297.1 737.9,297.1 738.1,296.8 738.3,296.5 738.5,296.9 738.7,296.8 738.9,297.7 739.1,296.6 739.3,297.3 739.5,297.4 739.7,296.9 739.9,293.8 740.2,299.0 740.4,297.9 740.6,297.4 740.8,296.4 741.0,296.7 741.2,294.4 741.4,299.1 741.6,294.1 741.8,298.3 742.0,297.1 742.2,295.8 742.4,295.8 742.6,295.9 742.8,295.7 743.0,294.8 743.2,294.0 743.4,293.8 743.7,296.2 743.9,295.2 744.1,291.2 744.3,290.0 744.5,290.8 744.7,289.3 744.9,288.8 745.1,284.8 745.3,286.4 745.5,283.7 745.7,281.3 745.9,275.2 746.1,273.4 746.3,268.9 746.5,267.1 746.7,264.0 746.9,257.3 747.2,253.9 747.4,250.9 747.6,250.9 747.8,253.2 748.0,251.7 748.2,252.3 748.4,252.6 748.6,252.0 748.8,257.6 749.0,261.0 749.2,259.5 749.4,263.0 749.6,266.5 749.8,266.9 750.0,269.9 750.2,272.9 750.4,272.8 750.6,274.1 750.9,278.9 751.1,278.8 751.3,284.3 751.5,286.4 751.7,285.4 751.9,288.2 752.1,288.5 752.3,295.0 752.5,291.8 752.7,293.3 752.9,294.3 753.1,296.1 753.3,295.5 753.5,294.5 753.7,294.4 753.9,294.9 754.1,294.1 754.4,294.3 754.6,295.7 754.8,296.8 755.0,297.3 755.2,297.0 755.4,298.0 755.6,298.0 755.8,296.9 756.0,300.2 756.2,298.6 756.4,297.7 756.6,296.7 756.8,295.6 757.0,296.6 757.2,297.4 757.4,298.1 757.6,295.9 757.9,296.4 758.1,298.5 758.3,297.7 758.5,297.0 758.7,296.2 758.9,298.0 759.1,295.3 759.3,295.9 759.5,298.3 759.7,298.0 759.9,299.0 760.1,298.8 760.3,297.2 760.5,295.7 760.7,295.6 760.9,297.4 761.1,298.3 761.4,298.7 761.6,297.1 761.8,298.4 762.0,296.7 762.2,298.0 762.4,297.2 762.6,298.5 762.8,294.8 763.0,296.1 763.2,297.7 763.4,299.1 763.6,297.0 763.8,296.8 764.0,299.3 764.2,297.8 764.4,295.0 764.6,297.6 764.9,298.4 765.1,297.0 765.3,295.1 765.5,298.6 765.7,298.5 765.9,298.1 766.1,297.8 766.3,296.2 766.5,297.2 766.7,301.0 766.9,297.3 767.1,297.4 767.3,297.0 767.5,297.5 767.7,298.0 767.9,297.2 768.1,298.9 768.4,300.2 768.6,298.3 768.8,299.5 769.0,295.5 769.2,298.1 769.4,295.8 769.6,299.9 769.8,299.7 770.0,297.4 770.2,300.4 770.4,298.9 770.6,300.7 770.8,297.3 771.0,300.4 771.2,298.2 771.4,300.4 771.6,297.4 771.9,296.6 772.1,298.0 772.3,299.4 772.5,297.6 772.7,296.7 772.9,297.0 773.1,296.2 773.3,295.5 773.5,297.8 773.7,298.5 773.9,298.9 774.1,298.0 774.3,298.4 774.5,298.9 774.7,297.7 774.9,295.3 775.1,299.2 775.4,298.7 775.6,298.6 775.8,299.5 776.0,296.7 776.2,298.3 776.4,297.2 776.6,300.4 776.8,297.4 777.0,298.3 777.2,300.2 777.4,297.0 777.6,296.9 777.8,297.8 778.0,297.4 778.2,299.5 778.4,296.8 778.6,298.5 778.8,297.4 779.1,297.3 779.3,297.5 779.5,299.2 779.7,297.8 779.9,297.9 780.1,296.5 780.3,299.2 780.5,296.8 780.7,297.5 780.9,298.0 781.1,295.5 781.3,297.0 781.5,298.9 781.7,297.7 781.9,299.1 782.1,299.8 782.3,298.8 782.6,298.8 782.8,295.8 783.0,297.0 783.2,301.6 783.4,298.4 783.6,299.1 783.8,298.3 784.0,297.9 784.2,298.1 784.4,297.6 784.6,299.3 784.8,296.2 785.0,298.4 785.2,296.5 785.4,298.3 785.6,297.6 785.8,299.5 786.1,296.6 786.3,297.8 786.5,298.7 786.7,297.7 786.9,297.5 787.1,300.3 787.3,299.3 787.5,299.6 787.7,297.0 787.9,297.9 788.1,299.0 788.3,299.2 788.5,298.2 788.7,301.4 788.9,298.4 789.1,296.0 789.3,300.1 789.6,299.9 789.8,299.7 790.0,297.6 790.2,299.2 790.4,295.6 790.6,298.5 790.8,298.9 791.0,299.8 791.2,297.3 791.4,296.7 791.6,298.0 791.8,296.4 792.0,296.5 792.2,297.7 792.4,298.1 792.6,298.9 792.8,297.8 793.1,298.7 793.3,296.1 793.5,297.1 793.7,298.4 793.9,298.7 794.1,297.6 794.3,296.7 794.5,297.8 794.7,296.7 794.9,298.8 795.1,297.8 795.3,297.3 795.5,297.9 795.7,297.6 795.9,296.7 796.1,298.2 796.3,296.8 796.6,298.9 796.8,297.5 797.0,298.7 797.2,298.7 797.4,297.3 797.6,296.4 797.8,298.3" fill="none" stroke="#000000" stroke-width="1.3" stroke-linejoin="round"/>
<path d="M114.4,367.4 114.6,383.9 114.8,373.2 115.0,376.8 115.2,376.4 115.4,375.5 115.6,382.0 115.8,375.6 116.0,377.8 116.3,362.9 116.5,373.9 116.7,376.0 116.9,375.8 117.1,377.1 117.3,378.5 117.5,376.1 117.7,373.0 117.9,375.6 118.1,371.4 118.3,375.5 118.5,374.7 118.7,369.3 118.9,372.8 119.1,376.5 119.3,375.4 119.5,372.9 119.8,367.9 120.0,375.7 120.2,375.6 120.4,371.2 120.6,377.9 120.8,375.8 121.0,371.7 121.2,372.7 121.4,374.4 121.6,372.4 121.8,384.7 122.0,371.2 122.2,378.1 122.4,380.6 122.6,373.8 122.8,372.3 123.0,376.3 123.3,378.5 123.5,374.7 123.7,374.9 123.9,369.9 124.1,372.2 124.3,374.1 124.5,370.9 124.7,375.5 124.9,378.0 125.1,372.7 125.3,372.8 125.5,375.5 125.7,377.5 125.9,374.0 126.1,383.4 126.3,372.4 126.5,373.1 126.8,380.4 127.0,374.6 127.2,378.1 127.4,372.2 127.6,381.7 127.8,377.9 128.0,372.3 128.2,370.8 128.4,382.1 128.6,376.5 128.8,373.7 129.0,376.9 129.2,369.3 129.4,378.8 129.6,373.6 129.8,378.3 130.0,370.0 130.2,374.8 130.5,376.0 130.7,380.6 130.9,369.1 131.1,372.2 131.3,372.2 131.5,370.9 131.7,373.6 131.9,376.9 132.1,377.5 132.3,377.5 132.5,370.2 132.7,379.7 132.9,376.8 133.1,375.9 133.3,374.0 133.5,372.9 133.7,379.0 134.0,380.6 134.2,374.8 134.4,370.7 134.6,372.3 134.8,374.1 135.0,375.8 135.2,373.8 135.4,375.6 135.6,372.1 135.8,377.4 136.0,374.3 136.2,375.2 136.4,373.0 136.6,374.0 136.8,366.3 137.0,369.8 137.2,369.9 137.5,381.5 137.7,375.9 137.9,376.8 138.1,373.0 138.3,382.3 138.5,370.9 138.7,371.3 138.9,379.1 139.1,378.0 139.3,377.4 139.5,374.7 139.7,372.7 139.9,368.1 140.1,375.4 140.3,372.3 140.5,374.3 140.7,369.1 141.0,372.4 141.2,370.3 141.4,378.3 141.6,375.4 141.8,377.4 142.0,369.9 142.2,372.7 142.4,375.8 142.6,376.3 142.8,373.2 143.0,377.1 143.2,377.8 143.4,373.3 143.6,366.9 143.8,375.6 144.0,376.6 144.2,378.6 144.5,379.1 144.7,373.1 144.9,372.1 145.1,374.8 145.3,373.7 145.5,374.4 145.7,374.4 145.9,379.7 146.1,376.3 146.3,374.4 146.5,377.3 146.7,376.3 146.9,377.4 147.1,375.9 147.3,372.1 147.5,376.1 147.7,375.3 148.0,372.2 148.2,372.8 148.4,369.4 148.6,381.4 148.8,372.1 149.0,376.3 149.2,374.4 149.4,372.1 149.6,371.4 149.8,371.5 150.0,374.3 150.2,369.7 150.4,375.7 150.6,375.3 150.8,372.3 151.0,376.6 151.2,368.0 151.5,371.6 151.7,368.0 151.9,374.9 152.1,376.0 152.3,374.3 152.5,372.5 152.7,376.6 152.9,373.6 153.1,374.9 153.3,369.8 153.5,376.9 153.7,371.5 153.9,376.8 154.1,377.8 154.3,377.0 154.5,378.5 154.7,374.4 155.0,371.6 155.2,374.3 155.4,372.9 155.6,369.7 155.8,374.0 156.0,374.2 156.2,375.7 156.4,379.8 156.6,372.5 156.8,380.3 157.0,372.8 157.2,374.9 157.4,371.3 157.6,375.0 157.8,377.4 158.0,373.7 158.2,376.6 158.4,375.4 158.7,374.7 158.9,375.3 159.1,375.4 159.3,377.4 159.5,375.4 159.7,381.4 159.9,375.3 160.1,378.5 160.3,371.4 160.5,370.9 160.7,380.8 160.9,374.4 161.1,375.2 161.3,378.0 161.5,373.2 161.7,376.3 161.9,380.2 162.2,375.7 162.4,375.3 162.6,374.5 162.8,378.6 163.0,373.0 163.2,372.6 163.4,378.3 163.6,376.8 163.8,375.1 164.0,376.6 164.2,369.5 164.4,374.2 164.6,377.9 164.8,377.2 165.0,375.0 165.2,367.9 165.4,375.4 165.7,374.5 165.9,373.3 166.1,375.0 166.3,367.9 166.5,376.4 166.7,372.6 166.9,374.4 167.1,373.0 167.3,378.4 167.5,369.5 167.7,375.2 167.9,374.7 168.1,377.6 168.3,377.0 168.5,373.1 168.7,371.9 168.9,372.6 169.2,371.2 169.4,372.7 169.6,374.8 169.8,372.3 170.0,373.1 170.2,375.1 170.4,372.7 170.6,371.0 170.8,374.2 171.0,375.9 171.2,372.7 171.4,369.2 171.6,375.5 171.8,375.1 172.0,375.3 172.2,371.2 172.4,380.3 172.7,373.8 172.9,371.3 173.1,377.3 173.3,370.5 173.5,373.3 173.7,376.5 173.9,374.2 174.1,379.4 174.3,376.5 174.5,369.5 174.7,377.5 174.9,369.4 175.1,375.1 175.3,371.9 175.5,374.7 175.7,381.5 175.9,376.6 176.2,374.3 176.4,378.3 176.6,378.8 176.8,373.8 177.0,376.8 177.2,379.8 177.4,376.9 177.6,372.3 177.8,376.2 178.0,372.1 178.2,370.4 178.4,374.8 178.6,378.2 178.8,378.7 179.0,375.0 179.2,372.3 179.4,374.1 179.7,373.3 179.9,376.1 180.1,374.0 180.3,376.3 180.5,375.8 180.7,378.6 180.9,379.5 181.1,376.3 181.3,378.1 181.5,377.7 181.7,372.9 181.9,375.2 182.1,366.4 182.3,372.2 182.5,376.7 182.7,372.6 182.9,373.8 183.2,376.8 183.4,371.7 183.6,377.1 183.8,383.7 184.0,372.6 184.2,376.7 184.4,370.6 184.6,376.8 184.8,378.3 185.0,370.4 185.2,378.0 185.4,374.3 185.6,370.7 185.8,374.5 186.0,375.1 186.2,374.6 186.4,372.5 186.6,377.2 186.9,373.1 187.1,373.2 187.3,368.2 187.5,375.8 187.7,377.5 187.9,372.8 188.1,376.0 188.3,374.0 188.5,374.5 188.7,371.6 188.9,376.7 189.1,375.1 189.3,382.1 189.5,377.4 189.7,370.6 189.9,376.8 190.1,376.9 190.4,378.3 190.6,373.2 190.8,374.4 191.0,378.2 191.2,373.0 191.4,374.2 191.6,372.7 191.8,376.7 192.0,370.0 192.2,373.7 192.4,375.2 192.6,376.3 192.8,375.6 193.0,372.5 193.2,375.6 193.4,371.9 193.6,373.3 193.9,371.1 194.1,372.6 194.3,375.1 194.5,380.2 194.7,374.1 194.9,372.7 195.1,374.4 195.3,373.4 195.5,376.2 195.7,376.0 195.9,377.5 196.1,371.1 196.3,374.4 196.5,376.3 196.7,378.6 196.9,375.3 197.1,370.9 197.4,373.7 197.6,376.9 197.8,371.0 198.0,370.9 198.2,372.2 198.4,372.8 198.6,371.7 198.8,373.4 199.0,372.8 199.2,377.1 199.4,370.8 199.6,374.3 199.8,369.3 200.0,380.5 200.2,373.0 200.4,372.2 200.6,375.9 200.9,373.7 201.1,372.9 201.3,373.3 201.5,376.4 201.7,375.3 201.9,372.1 202.1,371.4 202.3,374.7 202.5,374.7 202.7,374.4 202.9,372.1 203.1,377.8 203.3,378.5 203.5,374.6 203.7,377.9 203.9,376.5 204.1,374.7 204.4,373.6 204.6,377.8 204.8,372.7 205.0,379.7 205.2,373.4 205.4,379.2 205.6,378.4 205.8,373.2 206.0,376.0 206.2,377.0 206.4,376.1 206.6,373.7 206.8,375.1 207.0,375.0 207.2,372.1 207.4,376.9 207.6,376.2 207.9,376.3 208.1,371.8 208.3,372.2 208.5,371.5 208.7,375.0 208.9,375.3 209.1,372.7 209.3,376.0 209.5,372.7 209.7,373.0 209.9,376.8 210.1,375.1 210.3,375.2 210.5,370.3 210.7,368.0 210.9,375.2 211.1,374.9 211.4,381.0 211.6,374.4 211.8,374.9 212.0,377.8 212.2,372.8 212.4,379.0 212.6,375.5 212.8,374.6 213.0,378.2 213.2,372.7 213.4,372.1 213.6,378.6 213.8,378.6 214.0,373.3 214.2,375.0 214.4,378.1 214.6,375.7 214.8,375.2 215.1,375.3 215.3,372.8 215.5,373.9 215.7,370.3 215.9,371.4 216.1,373.2 216.3,372.1 216.5,371.5 216.7,373.1 216.9,378.1 217.1,372.7 217.3,374.7 217.5,370.7 217.7,374.7 217.9,373.6 218.1,374.1 218.3,370.6 218.6,374.5 218.8,375.6 219.0,374.1 219.2,376.1 219.4,374.5 219.6,374.9 219.8,374.2 220.0,370.0 220.2,376.0 220.4,374.9 220.6,375.5 220.8,373.2 221.0,378.0 221.2,376.7 221.4,375.0 221.6,373.5 221.8,375.1 222.1,376.2 222.3,377.2 222.5,373.7 222.7,371.2 222.9,374.1 223.1,374.5 223.3,373.8 223.5,377.3 223.7,375.7 223.9,375.6 224.1,374.2 224.3,375.0 224.5,378.0 224.7,372.1 224.9,370.6 225.1,375.6 225.3,373.9 225.6,374.3 225.8,372.9 226.0,378.7 226.2,370.8 226.4,376.2 226.6,371.7 226.8,374.8 227.0,375.9 227.2,375.3 227.4,372.7 227.6,377.1 227.8,375.9 228.0,376.2 228.2,379.3 228.4,371.7 228.6,373.5 228.8,375.0 229.1,372.0 229.3,377.4 229.5,375.1 229.7,370.6 229.9,372.5 230.1,380.5 230.3,383.3 230.5,377.6 230.7,372.3 230.9,376.2 231.1,375.5 231.3,373.4 231.5,377.2 231.7,374.4 231.9,373.0 232.1,373.8 232.3,374.0 232.6,376.5 232.8,373.7 233.0,376.1 233.2,371.7 233.4,368.5 233.6,376.8 233.8,380.4 234.0,376.0 234.2,374.0 234.4,372.3 234.6,372.3 234.8,376.9 235.0,376.9 235.2,371.8 235.4,377.7 235.6,372.3 235.8,375.5 236.1,373.1 236.3,373.2 236.5,373.0 236.7,373.0 236.9,377.4 237.1,374.2 237.3,374.9 237.5,374.2 237.7,372.0 237.9,375.6 238.1,376.7 238.3,376.7 238.5,375.7 238.7,373.1 238.9,377.0 239.1,372.2 239.3,374.3 239.6,375.5 239.8,378.2 240.0,374.4 240.2,373.3 240.4,379.3 240.6,372.0 240.8,370.9 241.0,374.1 241.2,373.8 241.4,369.1 241.6,372.0 241.8,377.1 242.0,375.0 242.2,375.4 242.4,375.3 242.6,380.7 242.8,373.1 243.0,376.6 243.3,374.6 243.5,375.3 243.7,372.9 243.9,375.7 244.1,376.9 244.3,373.7 244.5,371.6 244.7,375.7 244.9,371.7 245.1,374.4 245.3,376.3 245.5,371.3 245.7,376.9 245.9,372.6 246.1,376.2 246.3,373.9 246.5,378.0 246.8,377.0 247.0,372.4 247.2,374.5 247.4,374.9 247.6,376.1 247.8,373.9 248.0,378.3 248.2,377.7 248.4,375.4 248.6,377.0 248.8,376.7 249.0,375.2 249.2,375.3 249.4,375.5 249.6,371.0 249.8,372.6 250.0,372.1 250.3,375.0 250.5,376.2 250.7,378.5 250.9,375.8 251.1,380.0 251.3,376.4 251.5,373.2 251.7,371.1 251.9,372.8 252.1,377.1 252.3,373.8 252.5,376.8 252.7,373.0 252.9,375.2 253.1,373.0 253.3,368.9 253.5,372.8 253.8,369.5 254.0,374.5 254.2,375.8 254.4,371.9 254.6,370.9 254.8,376.3 255.0,374.8 255.2,378.4 255.4,375.4 255.6,372.9 255.8,375.2 256.0,376.3 256.2,378.3 256.4,374.1 256.6,373.1 256.8,373.6 257.0,374.4 257.3,378.0 257.5,370.9 257.7,375.1 257.9,375.3 258.1,373.3 258.3,380.0 258.5,375.2 258.7,375.3 258.9,374.1 259.1,371.9 259.3,373.9 259.5,379.3 259.7,375.8 259.9,374.5 260.1,374.7 260.3,377.9 260.5,378.9 260.8,373.7 261.0,374.2 261.2,375.1 261.4,379.0 261.6,370.9 261.8,381.6 262.0,375.8 262.2,370.2 262.4,375.4 262.6,374.5 262.8,377.7 263.0,371.9 263.2,378.0 263.4,374.4 263.6,374.7 263.8,377.4 264.0,373.0 264.3,378.2 264.5,376.6 264.7,375.0 264.9,375.9 265.1,373.9 265.3,372.9 265.5,375.7 265.7,376.3 265.9,376.2 266.1,375.8 266.3,373.2 266.5,375.5 266.7,374.1 266.9,375.2 267.1,376.9 267.3,373.1 267.5,377.4 267.8,375.0 268.0,371.7 268.2,377.5 268.4,375.1 268.6,378.6 268.8,376.2 269.0,378.4 269.2,375.9 269.4,376.2 269.6,374.8 269.8,371.5 270.0,374.3 270.2,373.5 270.4,375.1 270.6,375.6 270.8,376.8 271.0,379.0 271.3,374.9 271.5,371.4 271.7,373.9 271.9,376.2 272.1,371.3 272.3,376.0 272.5,376.4 272.7,377.7 272.9,377.2 273.1,375.6 273.3,370.6 273.5,375.4 273.7,377.3 273.9,376.4 274.1,375.5 274.3,378.8 274.5,374.8 274.7,373.5 275.0,374.3 275.2,373.7 275.4,377.8 275.6,378.7 275.8,372.2 276.0,372.6 276.2,378.4 276.4,374.6 276.6,374.9 276.8,373.8 277.0,374.6 277.2,376.2 277.4,374.6 277.6,374.7 277.8,375.1 278.0,379.1 278.2,381.6 278.5,376.8 278.7,378.6 278.9,374.4 279.1,373.4 279.3,374.4 279.5,375.7 279.7,374.8 279.9,372.5 280.1,376.6 280.3,373.0 280.5,373.4 280.7,374.4 280.9,371.8 281.1,376.6 281.3,373.0 281.5,377.0 281.7,376.6 282.0,377.3 282.2,374.1 282.4,377.1 282.6,374.9 282.8,377.5 283.0,372.7 283.2,371.1 283.4,374.5 283.6,371.5 283.8,373.8 284.0,370.3 284.2,374.8 284.4,378.4 284.6,371.8 284.8,375.3 285.0,377.2 285.2,376.3 285.5,378.5 285.7,375.4 285.9,377.3 286.1,371.9 286.3,373.5 286.5,378.5 286.7,378.2 286.9,376.2 287.1,379.1 287.3,375.3 287.5,375.0 287.7,376.6 287.9,376.1 288.1,373.9 288.3,371.9 288.5,371.8 288.7,374.9 289.0,373.2 289.2,376.5 289.4,374.0 289.6,377.0 289.8,373.6 290.0,377.6 290.2,377.0 290.4,374.9 290.6,373.8 290.8,378.0 291.0,376.1 291.2,374.7 291.4,374.5 291.6,376.6 291.8,374.7 292.0,375.5 292.2,371.9 292.5,373.6 292.7,377.7 292.9,379.5 293.1,374.7 293.3,372.5 293.5,374.6 293.7,373.1 293.9,375.9 294.1,377.7 294.3,373.3 294.5,374.7 294.7,373.4 294.9,377.8 295.1,374.5 295.3,376.0 295.5,373.0 295.7,375.9 296.0,375.9 296.2,375.9 296.4,372.2 296.6,374.7 296.8,376.3 297.0,376.8 297.2,376.9 297.4,371.7 297.6,378.4 297.8,376.5 298.0,373.0 298.2,372.0 298.4,375.0 298.6,372.8 298.8,372.9 299.0,372.6 299.2,374.3 299.5,370.8 299.7,373.7 299.9,370.8 300.1,376.3 300.3,371.8 300.5,376.0 300.7,376.2 300.9,371.8 301.1,374.1 301.3,370.8 301.5,373.8 301.7,367.8 301.9,369.2 302.1,370.9 302.3,366.9 302.5,364.5 302.7,366.8 302.9,362.9 303.2,358.2 303.4,359.5 303.6,359.9 303.8,360.1 304.0,356.7 304.2,360.6 304.4,363.2 304.6,360.0 304.8,361.1 305.0,355.8 305.2,360.5 305.4,365.2 305.6,365.6 305.8,363.8 306.0,367.9 306.2,368.6 306.4,368.8 306.7,368.9 306.9,369.9 307.1,370.7 307.3,368.8 307.5,368.6 307.7,376.1 307.9,368.1 308.1,373.2 308.3,370.9 308.5,375.2 308.7,373.0 308.9,373.5 309.1,373.9 309.3,372.6 309.5,373.0 309.7,376.0 309.9,374.6 310.2,373.0 310.4,373.0 310.6,374.9 310.8,375.0 311.0,374.9 311.2,376.7 311.4,377.0 311.6,371.4 311.8,375.2 312.0,374.2 312.2,375.9 312.4,372.0 312.6,371.2 312.8,375.1 313.0,373.6 313.2,376.0 313.4,371.2 313.7,372.9 313.9,376.3 314.1,372.3 314.3,374.0 314.5,373.9 314.7,374.0 314.9,376.0 315.1,375.7 315.3,373.5 315.5,374.8 315.7,376.5 315.9,370.8 316.1,375.1 316.3,375.9 316.5,376.0 316.7,373.4 316.9,373.0 317.2,374.3 317.4,373.2 317.6,377.7 317.8,375.5 318.0,375.6 318.2,374.9 318.4,373.8 318.6,378.7 318.8,368.7 319.0,376.5 319.2,374.1 319.4,373.2 319.6,373.3 319.8,374.4 320.0,380.4 320.2,376.9 320.4,373.4 320.7,376.6 320.9,376.8 321.1,379.3 321.3,372.6 321.5,373.9 321.7,376.6 321.9,375.2 322.1,375.2 322.3,377.0 322.5,375.4 322.7,374.5 322.9,373.9 323.1,372.6 323.3,374.9 323.5,375.8 323.7,374.2 323.9,376.1 324.2,377.3 324.4,372.7 324.6,375.7 324.8,374.8 325.0,373.7 325.2,376.9 325.4,373.7 325.6,374.0 325.8,375.1 326.0,374.2 326.2,376.2 326.4,379.0 326.6,375.5 326.8,376.6 327.0,373.3 327.2,374.4 327.4,375.8 327.7,375.0 327.9,372.4 328.1,372.7 328.3,374.2 328.5,374.2 328.7,375.3 328.9,375.0 329.1,373.8 329.3,375.2 329.5,374.4 329.7,376.9 329.9,377.9 330.1,377.9 330.3,375.6 330.5,372.6 330.7,372.7 330.9,376.7 331.1,377.6 331.4,373.5 331.6,374.1 331.8,377.4 332.0,372.9 332.2,374.7 332.4,372.4 332.6,374.2 332.8,373.2 333.0,374.2 333.2,376.5 333.4,375.2 333.6,375.9 333.8,373.4 334.0,376.6 334.2,377.5 334.4,373.6 334.6,372.8 334.9,372.2 335.1,372.9 335.3,377.5 335.5,376.3 335.7,375.8 335.9,374.7 336.1,378.6 336.3,374.7 336.5,374.3 336.7,376.5 336.9,374.5 337.1,372.6 337.3,374.7 337.5,372.9 337.7,373.0 337.9,374.0 338.1,374.0 338.4,375.3 338.6,372.5 338.8,375.5 339.0,375.9 339.2,373.6 339.4,376.1 339.6,373.9 339.8,372.9 340.0,374.5 340.2,374.6 340.4,373.1 340.6,373.4 340.8,377.4 341.0,376.9 341.2,372.3 341.4,373.9 341.6,378.2 341.9,376.9 342.1,374.4 342.3,376.2 342.5,373.8 342.7,374.4 342.9,373.7 343.1,376.5 343.3,373.4 343.5,370.8 343.7,375.7 343.9,372.1 344.1,372.6 344.3,373.2 344.5,374.3 344.7,376.1 344.9,375.9 345.1,372.7 345.4,372.7 345.6,372.1 345.8,372.7 346.0,372.8 346.2,375.1 346.4,375.9 346.6,373.6 346.8,373.3 347.0,374.0 347.2,376.4 347.4,375.0 347.6,376.4 347.8,373.4 348.0,375.5 348.2,373.9 348.4,373.2 348.6,373.7 348.9,371.5 349.1,375.7 349.3,377.2 349.5,372.1 349.7,371.1 349.9,371.1 350.1,373.0 350.3,372.3 350.5,373.0 350.7,375.4 350.9,373.8 351.1,372.1 351.3,374.1 351.5,369.3 351.7,375.4 351.9,373.2 352.1,370.4 352.4,373.3 352.6,374.1 352.8,374.2 353.0,373.0 353.2,369.4 353.4,370.5 353.6,370.5 353.8,372.0 354.0,368.9 354.2,370.4 354.4,372.0 354.6,370.5 354.8,369.0 355.0,367.0 355.2,367.9 355.4,367.4 355.6,363.7 355.9,367.7 356.1,367.5 356.3,363.7 356.5,363.7 356.7,363.4 356.9,361.4 357.1,360.5 357.3,357.0 357.5,358.2 357.7,352.3 357.9,352.8 358.1,348.7 358.3,343.3 358.5,337.3 358.7,329.7 358.9,318.5 359.1,309.3 359.3,292.2 359.6,275.2 359.8,255.3 360.0,235.2 360.2,214.2 360.4,203.0 360.6,199.3 360.8,204.7 361.0,214.4 361.2,223.5 361.4,232.9 361.6,245.3 361.8,259.1 362.0,276.1 362.2,294.0 362.4,305.8 362.6,318.8 362.8,326.4 363.1,333.9 363.3,340.9 363.5,345.7 363.7,349.9 363.9,353.4 364.1,356.3 364.3,357.0 364.5,363.1 364.7,360.7 364.9,360.0 365.1,362.4 365.3,364.2 365.5,363.7 365.7,366.7 365.9,367.1 366.1,366.2 366.3,366.4 366.6,364.2 366.8,367.1 367.0,363.9 367.2,367.9 367.4,367.1 367.6,365.5 367.8,364.2 368.0,366.1 368.2,368.7 368.4,364.0 368.6,365.4 368.8,366.7 369.0,367.1 369.2,366.1 369.4,365.1 369.6,365.1 369.8,367.5 370.1,362.7 370.3,367.3 370.5,368.1 370.7,367.3 370.9,368.6 371.1,365.1 371.3,368.1 371.5,370.0 371.7,371.1 371.9,371.3 372.1,370.9 372.3,370.3 372.5,372.5 372.7,369.2 372.9,372.4 373.1,372.5 373.3,371.4 373.6,375.9 373.8,374.4 374.0,372.3 374.2,373.4 374.4,373.4 374.6,372.9 374.8,374.4 375.0,374.0 375.2,376.0 375.4,376.6 375.6,371.9 375.8,375.5 376.0,375.4 376.2,372.0 376.4,372.4 376.6,374.8 376.8,375.1 377.1,374.1 377.3,375.8 377.5,373.3 377.7,374.1 377.9,374.0 378.1,373.1 378.3,373.3 378.5,371.5 378.7,372.2 378.9,377.0 379.1,373.1 379.3,376.2 379.5,376.5 379.7,373.3 379.9,375.5 380.1,375.1 380.3,372.9 380.6,375.5 380.8,375.8 381.0,374.1 381.2,372.8 381.4,373.7 381.6,377.0 381.8,375.6 382.0,375.0 382.2,371.8 382.4,373.4 382.6,373.4 382.8,372.8 383.0,375.2 383.2,373.9 383.4,374.0 383.6,376.2 383.8,374.9 384.1,373.9 384.3,376.3 384.5,373.6 384.7,373.7 384.9,373.4 385.1,376.0 385.3,374.7 385.5,372.6 385.7,373.6 385.9,375.9 386.1,374.5 386.3,372.8 386.5,374.9 386.7,374.3 386.9,370.9 387.1,374.9 387.3,374.9 387.5,376.3 387.8,375.9 388.0,372.8 388.2,375.1 388.4,376.6 388.6,376.3 388.8,374.9 389.0,373.7 389.2,376.1 389.4,373.8 389.6,375.7 389.8,374.4 390.0,374.1 390.2,374.1 390.4,375.6 390.6,375.2 390.8,374.1 391.0,376.9 391.3,374.7 391.5,374.1 391.7,373.4 391.9,375.1 392.1,375.2 392.3,374.9 392.5,376.2 392.7,375.4 392.9,374.4 393.1,374.7 393.3,376.4 393.5,375.6 393.7,378.1 393.9,373.8 394.1,375.7 394.3,374.7 394.5,376.6 394.8,375.2 395.0,374.4 395.2,373.6 395.4,377.1 395.6,373.8 395.8,375.2 396.0,376.1 396.2,374.3 396.4,375.6 396.6,375.6 396.8,376.1 397.0,374.7 397.2,375.0 397.4,375.4 397.6,376.6 397.8,375.8 398.0,374.5 398.3,373.1 398.5,375.2 398.7,373.0 398.9,375.0 399.1,376.6 399.3,374.1 399.5,376.6 399.7,374.6 399.9,373.5 400.1,375.6 400.3,375.4 400.5,371.4 400.7,374.7 400.9,374.7 401.1,374.0 401.3,375.2 401.5,375.2 401.8,374.6 402.0,378.6 402.2,373.1 402.4,376.7 402.6,376.8 402.8,374.3 403.0,375.1 403.2,377.0 403.4,374.9 403.6,376.8 403.8,376.1 404.0,377.3 404.2,376.4 404.4,374.6 404.6,374.8 404.8,374.7 405.0,373.8 405.3,375.2 405.5,376.1 405.7,375.5 405.9,372.7 406.1,375.1 406.3,374.7 406.5,375.3 406.7,374.8 406.9,374.5 407.1,375.1 407.3,375.4 407.5,376.3 407.7,376.4 407.9,374.5 408.1,374.1 408.3,373.8 408.5,375.1 408.8,376.4 409.0,374.1 409.2,374.2 409.4,377.3 409.6,374.0 409.8,374.3 410.0,372.7 410.2,376.8 410.4,377.1 410.6,374.0 410.8,377.9 411.0,376.2 411.2,376.8 411.4,376.7 411.6,377.9 411.8,375.5 412.0,373.7 412.3,374.6 412.5,374.5 412.7,375.7 412.9,373.0 413.1,374.4 413.3,373.6 413.5,377.5 413.7,374.7 413.9,376.8 414.1,374.6 414.3,374.9 414.5,376.8 414.7,375.0 414.9,373.5 415.1,374.4 415.3,374.3 415.5,376.5 415.7,376.2 416.0,376.8 416.2,375.0 416.4,373.4 416.6,374.5 416.8,375.2 417.0,376.8 417.2,374.5 417.4,375.5 417.6,378.0 417.8,377.7 418.0,375.6 418.2,376.5 418.4,372.7 418.6,375.2 418.8,376.7 419.0,375.9 419.2,372.8 419.5,376.6 419.7,374.0 419.9,374.6 420.1,373.0 420.3,374.4 420.5,375.8 420.7,374.4 420.9,375.1 421.1,373.8 421.3,375.3 421.5,372.2 421.7,375.3 421.9,374.5 422.1,376.2 422.3,375.0 422.5,375.2 422.7,374.9 423.0,373.9 423.2,376.0 423.4,376.4 423.6,373.6 423.8,375.6 424.0,376.2 424.2,373.5 424.4,374.0 424.6,379.0 424.8,375.7 425.0,374.0 425.2,374.0 425.4,375.9 425.6,372.9 425.8,376.3 426.0,375.5 426.2,375.0 426.5,375.2 426.7,373.9 426.9,373.7 427.1,375.2 427.3,373.1 427.5,376.2 427.7,375.5 427.9,372.6 428.1,375.0 428.3,373.6 428.5,375.8 428.7,375.5 428.9,375.3 429.1,374.9 429.3,375.7 429.5,375.1 429.7,374.2 430.0,373.4 430.2,375.0 430.4,374.2 430.6,373.8 430.8,376.7 431.0,377.5 431.2,372.8 431.4,373.3 431.6,375.1 431.8,374.6 432.0,376.5 432.2,377.2 432.4,374.7 432.6,377.3 432.8,373.8 433.0,376.2 433.2,374.7 433.5,372.4 433.7,372.5 433.9,375.6 434.1,373.6 434.3,376.6 434.5,376.0 434.7,374.6 434.9,373.2 435.1,376.0 435.3,374.4 435.5,375.0 435.7,377.0 435.9,375.4 436.1,373.0 436.3,375.3 436.5,374.4 436.7,373.9 437.0,376.3 437.2,373.4 437.4,373.0 437.6,372.9 437.8,373.3 438.0,375.8 438.2,376.1 438.4,376.3 438.6,376.5 438.8,376.4 439.0,373.7 439.2,373.1 439.4,376.1 439.6,374.0 439.8,377.0 440.0,375.7 440.2,376.6 440.5,377.6 440.7,375.1 440.9,375.1 441.1,375.8 441.3,376.0 441.5,376.7 441.7,375.4 441.9,376.1 442.1,374.8 442.3,377.0 442.5,374.9 442.7,374.4 442.9,373.4 443.1,373.7 443.3,375.0 443.5,376.3 443.7,377.9 443.9,375.2 444.2,373.1 444.4,372.8 444.6,378.9 444.8,376.3 445.0,375.7 445.2,376.8 445.4,374.9 445.6,375.1 445.8,376.0 446.0,375.3 446.2,377.5 446.4,376.6 446.6,376.5 446.8,373.9 447.0,377.6 447.2,375.5 447.4,374.1 447.7,375.3 447.9,374.1 448.1,376.2 448.3,374.6 448.5,373.9 448.7,372.0 448.9,374.2 449.1,373.2 449.3,375.2 449.5,375.1 449.7,372.9 449.9,374.4 450.1,373.2 450.3,374.1 450.5,372.1 450.7,371.7 450.9,376.4 451.2,372.6 451.4,374.6 451.6,374.5 451.8,375.4 452.0,374.2 452.2,376.9 452.4,376.3 452.6,376.4 452.8,374.8 453.0,373.9 453.2,374.2 453.4,374.7 453.6,376.1 453.8,377.8 454.0,374.7 454.2,375.0 454.4,374.7 454.7,373.1 454.9,375.5 455.1,375.5 455.3,378.6 455.5,374.4 455.7,375.3 455.9,376.3 456.1,374.6 456.3,376.8 456.5,376.0 456.7,372.4 456.9,374.1 457.1,373.9 457.3,374.1 457.5,374.3 457.7,374.9 457.9,371.9 458.2,375.3 458.4,374.1 458.6,375.5 458.8,375.7 459.0,378.8 459.2,378.0 459.4,372.9 459.6,373.0 459.8,375.8 460.0,375.3 460.2,374.4 460.4,376.7 460.6,372.6 460.8,376.7 461.0,376.3 461.2,379.3 461.4,373.0 461.7,375.2 461.9,372.9 462.1,376.7 462.3,374.7 462.5,375.1 462.7,375.0 462.9,372.3 463.1,372.0 463.3,373.3 463.5,375.8 463.7,374.0 463.9,373.3 464.1,374.5 464.3,374.4 464.5,374.6 464.7,376.6 464.9,374.9 465.2,372.9 465.4,376.7 465.6,375.1 465.8,374.1 466.0,377.2 466.2,375.4 466.4,377.7 466.6,376.2 466.8,377.3 467.0,376.6 467.2,375.9 467.4,375.7 467.6,375.5 467.8,378.8 468.0,373.0 468.2,375.7 468.4,376.9 468.7,376.2 468.9,374.9 469.1,376.7 469.3,375.9 469.5,375.9 469.7,374.5 469.9,376.4 470.1,374.6 470.3,374.8 470.5,375.5 470.7,373.5 470.9,375.3 471.1,377.0 471.3,374.8 471.5,375.1 471.7,375.3 471.9,375.0 472.1,371.9 472.4,374.9 472.6,374.6 472.8,375.7 473.0,373.4 473.2,375.4 473.4,376.4 473.6,377.1 473.8,374.5 474.0,374.2 474.2,377.6 474.4,376.3 474.6,374.3 474.8,373.8 475.0,377.2 475.2,375.9 475.4,374.1 475.6,376.0 475.9,375.9 476.1,376.1 476.3,377.1 476.5,375.2 476.7,374.8 476.9,377.3 477.1,375.1 477.3,373.7 477.5,375.0 477.7,374.0 477.9,376.1 478.1,373.3 478.3,376.4 478.5,372.6 478.7,375.9 478.9,376.3 479.1,376.6 479.4,375.9 479.6,376.0 479.8,376.3 480.0,375.8 480.2,374.3 480.4,374.0 480.6,375.8 480.8,373.5 481.0,376.7 481.2,376.8 481.4,376.9 481.6,374.4 481.8,377.5 482.0,377.3 482.2,373.4 482.4,372.8 482.6,373.4 482.9,377.5 483.1,375.3 483.3,374.1 483.5,375.2 483.7,377.6 483.9,375.8 484.1,377.7 484.3,377.1 484.5,372.2 484.7,374.3 484.9,377.4 485.1,377.5 485.3,374.6 485.5,376.2 485.7,374.5 485.9,376.2 486.1,375.6 486.4,374.9 486.6,376.8 486.8,378.1 487.0,377.0 487.2,376.3 487.4,375.6 487.6,375.4 487.8,375.4 488.0,374.6 488.2,376.6 488.4,373.3 488.6,372.5 488.8,374.8 489.0,375.1 489.2,373.5 489.4,374.4 489.6,375.1 489.9,375.5 490.1,376.4 490.3,377.0 490.5,374.4 490.7,373.6 490.9,376.9 491.1,375.4 491.3,375.0 491.5,375.9 491.7,376.4 491.9,375.9 492.1,378.1 492.3,375.4 492.5,375.7 492.7,372.3 492.9,374.0 493.1,375.8 493.4,375.3 493.6,372.9 493.8,373.0 494.0,375.1 494.2,375.5 494.4,377.4 494.6,375.8 494.8,375.6 495.0,376.4 495.2,372.9 495.4,378.0 495.6,375.5 495.8,374.7 496.0,374.7 496.2,372.9 496.4,377.3 496.6,376.4 496.9,375.2 497.1,375.1 497.3,375.9 497.5,376.4 497.7,373.8 497.9,376.8 498.1,376.2 498.3,373.3 498.5,372.9 498.7,374.1 498.9,376.6 499.1,376.5 499.3,376.6 499.5,377.0 499.7,375.9 499.9,373.5 500.1,375.0 500.3,376.4 500.6,376.4 500.8,377.0 501.0,373.6 501.2,378.2 501.4,374.9 501.6,377.4 501.8,376.8 502.0,377.5 502.2,374.0 502.4,375.5 502.6,371.4 502.8,376.8 503.0,376.9 503.2,374.5 503.4,374.6 503.6,375.8 503.8,378.2 504.1,373.3 504.3,374.6 504.5,374.8 504.7,376.2 504.9,374.5 505.1,376.2 505.3,375.3 505.5,375.7 505.7,373.6 505.9,376.1 506.1,375.9 506.3,373.8 506.5,375.1 506.7,375.4 506.9,375.7 507.1,374.0 507.3,376.3 507.6,374.7 507.8,372.5 508.0,374.8 508.2,376.5 508.4,377.1 508.6,375.2 508.8,377.2 509.0,377.7 509.2,376.5 509.4,377.0 509.6,374.2 509.8,377.5 510.0,373.2 510.2,376.5 510.4,375.2 510.6,374.4 510.8,375.1 511.1,374.4 511.3,376.8 511.5,378.6 511.7,375.7 511.9,377.8 512.1,376.2 512.3,374.1 512.5,375.7 512.7,376.3 512.9,377.1 513.1,375.8 513.3,375.7 513.5,377.7 513.7,375.0 513.9,377.0 514.1,375.1 514.3,376.1 514.6,374.1 514.8,374.3 515.0,375.4 515.2,375.6 515.4,374.8 515.6,373.5 515.8,373.9 516.0,375.2 516.2,375.0 516.4,373.2 516.6,377.7 516.8,374.7 517.0,376.7 517.2,373.5 517.4,376.1 517.6,375.5 517.8,376.9 518.1,375.4 518.3,374.3 518.5,373.0 518.7,377.2 518.9,376.0 519.1,369.8 519.3,374.0 519.5,375.4 519.7,374.6 519.9,379.1 520.1,373.1 520.3,375.1 520.5,377.4 520.7,373.7 520.9,376.2 521.1,376.8 521.3,374.6 521.6,374.8 521.8,376.0 522.0,375.5 522.2,377.2 522.4,377.4 522.6,374.0 522.8,373.5 523.0,374.7 523.2,374.8 523.4,375.9 523.6,375.5 523.8,376.7 524.0,372.8 524.2,376.1 524.4,374.8 524.6,375.3 524.8,377.3 525.1,372.6 525.3,375.8 525.5,376.4 525.7,375.2 525.9,376.6 526.1,375.3 526.3,376.7 526.5,374.6 526.7,375.2 526.9,377.3 527.1,373.9 527.3,375.1 527.5,376.9 527.7,374.8 527.9,374.7 528.1,372.7 528.3,376.6 528.6,374.1 528.8,375.5 529.0,374.5 529.2,375.7 529.4,375.4 529.6,374.6 529.8,377.0 530.0,378.3 530.2,375.3 530.4,375.9 530.6,375.2 530.8,374.4 531.0,375.6 531.2,373.6 531.4,375.4 531.6,375.2 531.8,374.1 532.0,374.5 532.3,375.4 532.5,375.1 532.7,376.4 532.9,376.2 533.1,375.2 533.3,374.2 533.5,375.9 533.7,374.1 533.9,372.6 534.1,372.2 534.3,375.3 534.5,373.8 534.7,374.4 534.9,374.2 535.1,374.1 535.3,374.5 535.5,374.1 535.8,375.0 536.0,375.6 536.2,374.9 536.4,374.6 536.6,373.6 536.8,374.8 537.0,374.2 537.2,373.3 537.4,376.6 537.6,375.6 537.8,374.5 538.0,375.2 538.2,376.7 538.4,373.9 538.6,375.4 538.8,376.7 539.0,372.6 539.3,377.1 539.5,375.3 539.7,376.2 539.9,375.1 540.1,374.5 540.3,376.4 540.5,375.4 540.7,375.5 540.9,376.7 541.1,373.7 541.3,375.0 541.5,375.7 541.7,376.2 541.9,375.8 542.1,375.1 542.3,376.0 542.5,373.5 542.8,378.9 543.0,378.3 543.2,375.6 543.4,377.9 543.6,375.4 543.8,376.2 544.0,374.5 544.2,374.7 544.4,373.5 544.6,374.0 544.8,373.5 545.0,374.6 545.2,373.8 545.4,374.6 545.6,376.1 545.8,377.1 546.0,377.0 546.3,374.6 546.5,378.7 546.7,375.0 546.9,376.4 547.1,374.3 547.3,375.0 547.5,376.3 547.7,375.3 547.9,378.5 548.1,374.9 548.3,374.7 548.5,377.9 548.7,374.1 548.9,375.5 549.1,375.1 549.3,377.3 549.5,374.5 549.8,374.5 550.0,375.3 550.2,376.7 550.4,374.2 550.6,373.5 550.8,374.7 551.0,373.9 551.2,376.1 551.4,375.1 551.6,374.7 551.8,375.1 552.0,371.3 552.2,374.7 552.4,376.0 552.6,374.1 552.8,376.8 553.0,374.7 553.3,374.2 553.5,375.9 553.7,375.7 553.9,376.6 554.1,375.1 554.3,376.2 554.5,372.8 554.7,374.3 554.9,375.6 555.1,377.2 555.3,372.4 555.5,373.4 555.7,374.6 555.9,375.0 556.1,375.0 556.3,375.9 556.5,372.6 556.8,374.9 557.0,377.2 557.2,376.1 557.4,378.8 557.6,374.3 557.8,374.2 558.0,372.7 558.2,372.3 558.4,376.3 558.6,374.6 558.8,373.8 559.0,374.1 559.2,375.9 559.4,374.1 559.6,374.5 559.8,373.3 560.0,375.3 560.2,375.6 560.5,376.0 560.7,375.7 560.9,376.3 561.1,375.7 561.3,374.5 561.5,374.6 561.7,373.4 561.9,373.7 562.1,374.4 562.3,376.9 562.5,374.5 562.7,373.6 562.9,377.1 563.1,376.8 563.3,376.6 563.5,376.7 563.7,375.7 564.0,376.6 564.2,374.7 564.4,376.9 564.6,375.5 564.8,376.0 565.0,376.6 565.2,373.8 565.4,375.3 565.6,374.5 565.8,375.8 566.0,374.3 566.2,374.4 566.4,375.5 566.6,377.8 566.8,374.1 567.0,374.3 567.2,375.0 567.5,374.9 567.7,375.1 567.9,375.1 568.1,376.7 568.3,375.4 568.5,374.8 568.7,376.2 568.9,376.6 569.1,372.7 569.3,374.4 569.5,375.7 569.7,375.9 569.9,378.9 570.1,377.2 570.3,375.6 570.5,373.5 570.7,378.1 571.0,376.2 571.2,372.6 571.4,374.4 571.6,374.7 571.8,373.6 572.0,375.4 572.2,375.5 572.4,374.3 572.6,374.1 572.8,376.7 573.0,373.1 573.2,377.7 573.4,376.2 573.6,371.0 573.8,376.0 574.0,374.3 574.2,376.7 574.5,375.7 574.7,376.2 574.9,375.7 575.1,374.3 575.3,372.7 575.5,374.0 575.7,373.1 575.9,375.9 576.1,373.1 576.3,374.5 576.5,373.3 576.7,375.7 576.9,375.5 577.1,373.2 577.3,374.2 577.5,374.9 577.7,375.8 578.0,375.2 578.2,374.3 578.4,373.7 578.6,375.4 578.8,374.9 579.0,373.9 579.2,375.8 579.4,373.3 579.6,374.0 579.8,374.2 580.0,377.3 580.2,375.9 580.4,374.6 580.6,373.7 580.8,374.6 581.0,372.4 581.2,372.3 581.5,373.1 581.7,375.2 581.9,370.4 582.1,372.5 582.3,371.7 582.5,374.0 582.7,372.6 582.9,371.5 583.1,372.5 583.3,371.6 583.5,373.4 583.7,370.3 583.9,375.9 584.1,374.2 584.3,372.3 584.5,374.0 584.7,374.5 585.0,376.6 585.2,372.8 585.4,377.1 585.6,373.9 585.8,374.2 586.0,373.5 586.2,372.9 586.4,375.8 586.6,376.1 586.8,375.5 587.0,377.5 587.2,374.1 587.4,375.7 587.6,374.9 587.8,376.8 588.0,375.2 588.2,376.1 588.4,375.4 588.7,376.9 588.9,373.9 589.1,376.3 589.3,378.9 589.5,374.4 589.7,375.7 589.9,376.6 590.1,372.0 590.3,375.5 590.5,377.2 590.7,376.2 590.9,374.9 591.1,375.7 591.3,373.7 591.5,373.9 591.7,376.5 591.9,375.4 592.2,374.5 592.4,376.0 592.6,376.0 592.8,374.2 593.0,374.8 593.2,377.4 593.4,376.2 593.6,376.0 593.8,375.6 594.0,376.4 594.2,373.6 594.4,376.8 594.6,376.9 594.8,375.2 595.0,378.5 595.2,376.9 595.4,374.6 595.7,377.3 595.9,376.6 596.1,373.9 596.3,374.8 596.5,375.3 596.7,375.2 596.9,376.4 597.1,375.0 597.3,375.7 597.5,372.0 597.7,374.7 597.9,375.9 598.1,375.5 598.3,375.4 598.5,377.3 598.7,376.6 598.9,373.3 599.2,377.4 599.4,376.2 599.6,374.0 599.8,373.4 600.0,376.8 600.2,373.4 600.4,375.9 600.6,373.2 600.8,374.8 601.0,375.9 601.2,374.4 601.4,374.7 601.6,376.5 601.8,372.5 602.0,375.9 602.2,373.8 602.4,376.1 602.7,377.9 602.9,377.0 603.1,375.6 603.3,374.5 603.5,373.0 603.7,375.3 603.9,375.8 604.1,377.1 604.3,375.5 604.5,375.0 604.7,378.5 604.9,373.6 605.1,373.9 605.3,372.3 605.5,376.7 605.7,375.4 605.9,375.4 606.2,377.3 606.4,376.6 606.6,376.8 606.8,374.8 607.0,374.9 607.2,373.6 607.4,376.0 607.6,377.3 607.8,374.8 608.0,374.9 608.2,374.5 608.4,373.7 608.6,376.3 608.8,374.4 609.0,376.8 609.2,375.2 609.4,374.5 609.7,375.6 609.9,375.1 610.1,377.4 610.3,376.3 610.5,375.2 610.7,377.1 610.9,376.6 611.1,372.1 611.3,375.1 611.5,376.6 611.7,376.9 611.9,373.6 612.1,379.3 612.3,376.0 612.5,374.7 612.7,376.3 612.9,374.9 613.2,377.0 613.4,375.6 613.6,375.5 613.8,375.6 614.0,375.4 614.2,375.5 614.4,374.0 614.6,375.9 614.8,376.4 615.0,376.0 615.2,376.0 615.4,377.7 615.6,378.2 615.8,377.5 616.0,375.2 616.2,376.5 616.4,376.2 616.6,371.7 616.9,374.1 617.1,375.9 617.3,376.5 617.5,373.8 617.7,376.7 617.9,373.9 618.1,374.8 618.3,373.7 618.5,376.6 618.7,374.4 618.9,378.1 619.1,375.9 619.3,374.1 619.5,374.7 619.7,378.1 619.9,374.7 620.1,375.0 620.4,375.7 620.6,376.6 620.8,376.0 621.0,376.4 621.2,374.3 621.4,375.0 621.6,374.1 621.8,374.7 622.0,377.3 622.2,375.4 622.4,372.7 622.6,377.1 622.8,375.2 623.0,376.7 623.2,376.8 623.4,375.3 623.6,374.4 623.9,374.6 624.1,375.0 624.3,374.3 624.5,377.8 624.7,374.5 624.9,375.1 625.1,375.9 625.3,375.6 625.5,376.8 625.7,374.0 625.9,376.6 626.1,377.6 626.3,375.6 626.5,376.4 626.7,375.7 626.9,373.6 627.1,375.8 627.4,375.5 627.6,372.5 627.8,377.5 628.0,375.1 628.2,374.0 628.4,373.6 628.6,372.6 628.8,376.5 629.0,374.8 629.2,375.8 629.4,376.2 629.6,376.6 629.8,377.6 630.0,375.1 630.2,374.6 630.4,377.1 630.6,374.6 630.9,376.4 631.1,377.0 631.3,379.2 631.5,374.1 631.7,374.6 631.9,376.0 632.1,376.1 632.3,377.4 632.5,374.9 632.7,375.7 632.9,374.8 633.1,375.4 633.3,377.5 633.5,377.7 633.7,375.0 633.9,377.9 634.1,375.2 634.4,374.4 634.6,377.3 634.8,374.7 635.0,375.5 635.2,374.8 635.4,376.4 635.6,375.6 635.8,375.0 636.0,373.1 636.2,374.5 636.4,374.8 636.6,377.3 636.8,375.1 637.0,376.5 637.2,375.6 637.4,375.2 637.6,374.2 637.9,374.7 638.1,375.3 638.3,375.6 638.5,373.7 638.7,376.7 638.9,375.4 639.1,373.6 639.3,375.8 639.5,374.3 639.7,374.3 639.9,372.8 640.1,373.9 640.3,377.7 640.5,375.5 640.7,375.1 640.9,374.4 641.1,375.0 641.4,372.9 641.6,374.0 641.8,377.1 642.0,376.4 642.2,378.3 642.4,373.2 642.6,375.8 642.8,375.7 643.0,377.7 643.2,376.2 643.4,375.0 643.6,376.2 643.8,376.1 644.0,376.4 644.2,372.9 644.4,376.4 644.6,377.6 644.8,376.3 645.1,376.1 645.3,375.8 645.5,376.0 645.7,377.2 645.9,375.9 646.1,375.2 646.3,377.6 646.5,373.0 646.7,373.4 646.9,378.2 647.1,376.2 647.3,374.3 647.5,373.9 647.7,373.3 647.9,378.2 648.1,377.2 648.3,376.4 648.6,375.0 648.8,377.1 649.0,375.1 649.2,375.1 649.4,374.7 649.6,377.4 649.8,375.4 650.0,375.6 650.2,376.2 650.4,373.9 650.6,376.1 650.8,373.6 651.0,376.4 651.2,373.3 651.4,373.4 651.6,376.7 651.8,375.1 652.1,375.1 652.3,377.0 652.5,374.5 652.7,374.8 652.9,376.8 653.1,375.4 653.3,374.3 653.5,375.8 653.7,376.5 653.9,373.3 654.1,376.8 654.3,375.0 654.5,374.0 654.7,374.5 654.9,378.1 655.1,376.0 655.3,375.6 655.6,375.8 655.8,374.7 656.0,374.8 656.2,375.3 656.4,375.1 656.6,374.1 656.8,373.8 657.0,378.1 657.2,372.5 657.4,376.2 657.6,374.4 657.8,377.7 658.0,376.2 658.2,377.1 658.4,373.9 658.6,374.2 658.8,375.5 659.1,375.7 659.3,375.0 659.5,376.7 659.7,376.2 659.9,376.5 660.1,374.3 660.3,375.4 660.5,377.2 660.7,375.0 660.9,374.7 661.1,373.6 661.3,376.2 661.5,374.8 661.7,372.7 661.9,375.8 662.1,375.9 662.3,374.7 662.6,376.1 662.8,375.4 663.0,376.1 663.2,376.4 663.4,374.2 663.6,375.9 663.8,376.8 664.0,375.8 664.2,375.6 664.4,375.1 664.6,374.2 664.8,373.0 665.0,377.1 665.2,375.7 665.4,377.9 665.6,375.1 665.8,374.7 666.1,376.3 666.3,376.5 666.5,376.8 666.7,377.5 666.9,374.6 667.1,372.8 667.3,376.9 667.5,373.1 667.7,375.6 667.9,377.3 668.1,374.7 668.3,374.4 668.5,374.8 668.7,375.8 668.9,373.1 669.1,375.8 669.3,374.5 669.6,374.5 669.8,376.7 670.0,377.9 670.2,377.8 670.4,376.0 670.6,374.9 670.8,377.8 671.0,376.4 671.2,373.3 671.4,377.7 671.6,374.7 671.8,374.8 672.0,374.1 672.2,377.3 672.4,374.6 672.6,377.1 672.8,373.4 673.0,376.5 673.3,374.7 673.5,376.3 673.7,375.0 673.9,377.2 674.1,374.7 674.3,374.4 674.5,375.2 674.7,372.9 674.9,374.6 675.1,374.1 675.3,374.3 675.5,372.5 675.7,375.7 675.9,375.3 676.1,375.1 676.3,374.1 676.5,374.3 676.8,373.3 677.0,374.1 677.2,375.0 677.4,374.4 677.6,373.6 677.8,377.0 678.0,371.9 678.2,374.3 678.4,373.9 678.6,372.7 678.8,373.5 679.0,373.9 679.2,371.8 679.4,368.7 679.6,367.7 679.8,366.4 680.0,367.4 680.3,365.9 680.5,361.9 680.7,359.8 680.9,359.8 681.1,359.5 681.3,358.1 681.5,353.8 681.7,356.0 681.9,352.9 682.1,351.8 682.3,349.3 682.5,354.7 682.7,355.5 682.9,354.8 683.1,355.8 683.3,356.3 683.5,357.6 683.8,360.5 684.0,362.5 684.2,361.1 684.4,362.6 684.6,360.9 684.8,366.6 685.0,364.8 685.2,368.2 685.4,369.5 685.6,366.7 685.8,370.1 686.0,371.2 686.2,370.9 686.4,373.3 686.6,373.1 686.8,374.2 687.0,370.5 687.3,373.1 687.5,373.0 687.7,372.4 687.9,374.3 688.1,374.6 688.3,376.6 688.5,373.8 688.7,374.3 688.9,375.1 689.1,373.2 689.3,377.5 689.5,374.2 689.7,376.7 689.9,376.2 690.1,375.2 690.3,373.0 690.5,376.7 690.8,376.5 691.0,376.7 691.2,372.3 691.4,374.4 691.6,374.4 691.8,372.2 692.0,374.9 692.2,378.1 692.4,375.7 692.6,376.7 692.8,372.5 693.0,377.2 693.2,374.6 693.4,376.0 693.6,375.7 693.8,375.3 694.0,375.4 694.3,376.3 694.5,376.9 694.7,376.1 694.9,376.7 695.1,376.5 695.3,375.1 695.5,375.4 695.7,374.6 695.9,375.8 696.1,372.8 696.3,376.3 696.5,376.7 696.7,373.9 696.9,376.3 697.1,375.2 697.3,374.1 697.5,375.6 697.8,375.9 698.0,374.1 698.2,375.0 698.4,376.1 698.6,377.0 698.8,375.9 699.0,377.7 699.2,376.6 699.4,377.0 699.6,375.0 699.8,374.4 700.0,376.4 700.2,376.0 700.4,376.9 700.6,377.3 700.8,376.1 701.0,374.6 701.2,374.8 701.5,374.7 701.7,375.8 701.9,379.2 702.1,374.2 702.3,373.6 702.5,374.2 702.7,374.2 702.9,374.0 703.1,371.8 703.3,375.0 703.5,373.4 703.7,374.3 703.9,374.6 704.1,375.7 704.3,375.9 704.5,377.0 704.7,374.7 705.0,375.9 705.2,377.0 705.4,376.5 705.6,377.1 705.8,373.3 706.0,375.8 706.2,375.3 706.4,377.1 706.6,377.0 706.8,374.0 707.0,375.8 707.2,375.2 707.4,373.0 707.6,372.6 707.8,374.5 708.0,374.8 708.2,375.2 708.5,375.8 708.7,372.7 708.9,377.1 709.1,375.6 709.3,378.1 709.5,377.2 709.7,374.9 709.9,374.9 710.1,375.0 710.3,375.9 710.5,376.5 710.7,376.2 710.9,376.0 711.1,374.0 711.3,373.6 711.5,374.9 711.7,376.2 712.0,376.8 712.2,375.1 712.4,375.8 712.6,378.0 712.8,373.6 713.0,375.5 713.2,375.9 713.4,376.7 713.6,376.7 713.8,374.3 714.0,376.8 714.2,375.4 714.4,374.7 714.6,373.0 714.8,374.7 715.0,375.6 715.2,376.1 715.5,374.3 715.7,374.1 715.9,376.0 716.1,374.7 716.3,375.7 716.5,377.7 716.7,376.9 716.9,374.4 717.1,373.5 717.3,374.6 717.5,375.8 717.7,376.5 717.9,374.8 718.1,375.1 718.3,377.7 718.5,374.6 718.7,376.5 719.0,374.6 719.2,374.8 719.4,374.6 719.6,374.1 719.8,374.5 720.0,376.9 720.2,376.9 720.4,374.1 720.6,374.9 720.8,377.6 721.0,378.2 721.2,374.3 721.4,372.5 721.6,374.4 721.8,375.8 722.0,375.2 722.2,379.2 722.5,376.9 722.7,374.2 722.9,374.3 723.1,378.4 723.3,373.9 723.5,374.8 723.7,374.2 723.9,375.8 724.1,375.6 724.3,377.0 724.5,375.1 724.7,374.3 724.9,376.8 725.1,375.0 725.3,376.3 725.5,374.0 725.7,374.2 726.0,378.7 726.2,374.9 726.4,374.1 726.6,376.3 726.8,375.8 727.0,375.7 727.2,377.1 727.4,375.7 727.6,373.4 727.8,374.9 728.0,373.4 728.2,374.2 728.4,373.9 728.6,375.4 728.8,374.5 729.0,372.8 729.2,373.6 729.4,375.1 729.7,376.5 729.9,376.7 730.1,375.2 730.3,375.0 730.5,378.0 730.7,375.2 730.9,375.1 731.1,375.1 731.3,376.3 731.5,372.4 731.7,374.3 731.9,377.4" fill="none" stroke="#3852a6" stroke-width="1.3" stroke-linejoin="round"/>
<path d="M48.5,450.1 48.7,448.3 48.9,450.2 49.2,456.4 49.4,448.0 49.6,449.8 49.8,453.5 50.0,449.3 50.2,450.1 50.4,450.3 50.6,451.3 50.8,449.4 51.0,454.2 51.2,452.1 51.4,453.2 51.6,449.2 51.8,451.3 52.0,452.6 52.2,454.4 52.4,452.4 52.7,451.4 52.9,452.5 53.1,446.6 53.3,447.7 53.5,461.6 53.7,458.5 53.9,452.1 54.1,453.0 54.3,450.7 54.5,450.7 54.7,443.6 54.9,455.6 55.1,452.9 55.3,443.9 55.5,449.1 55.7,449.0 55.9,453.4 56.1,457.5 56.4,450.9 56.6,451.1 56.8,456.0 57.0,454.0 57.2,451.7 57.4,454.9 57.6,451.8 57.8,451.1 58.0,451.4 58.2,453.3 58.4,449.3 58.6,448.2 58.8,450.3 59.0,454.5 59.2,448.8 59.4,453.3 59.6,448.3 59.9,455.4 60.1,448.2 60.3,451.5 60.5,456.0 60.7,452.6 60.9,451.3 61.1,450.5 61.3,455.0 61.5,455.5 61.7,450.8 61.9,453.2 62.1,450.7 62.3,448.8 62.5,457.4 62.7,450.6 62.9,447.1 63.1,452.6 63.4,454.4 63.6,448.8 63.8,450.6 64.0,448.3 64.2,452.7 64.4,456.7 64.6,451.9 64.8,453.1 65.0,448.8 65.2,450.8 65.4,457.2 65.6,455.7 65.8,448.4 66.0,449.1 66.2,453.7 66.4,451.5 66.6,449.9 66.9,449.9 67.1,448.4 67.3,450.6 67.5,451.8 67.7,452.4 67.9,447.8 68.1,459.3 68.3,452.0 68.5,451.4 68.7,456.5 68.9,450.3 69.1,453.8 69.3,448.5 69.5,452.0 69.7,449.2 69.9,447.3 70.1,450.2 70.4,454.5 70.6,456.7 70.8,445.5 71.0,451.9 71.2,453.9 71.4,451.0 71.6,452.2 71.8,448.6 72.0,451.4 72.2,451.5 72.4,453.9 72.6,449.9 72.8,455.0 73.0,449.3 73.2,446.3 73.4,456.7 73.6,459.9 73.9,449.4 74.1,442.9 74.3,454.9 74.5,455.8 74.7,449.5 74.9,454.4 75.1,453.2 75.3,452.7 75.5,449.7 75.7,452.9 75.9,450.6 76.1,452.1 76.3,454.4 76.5,452.6 76.7,454.7 76.9,451.5 77.1,455.3 77.4,455.2 77.6,446.7 77.8,451.7 78.0,451.7 78.2,449.8 78.4,452.9 78.6,452.3 78.8,450.1 79.0,450.6 79.2,455.4 79.4,448.8 79.6,453.5 79.8,455.0 80.0,454.5 80.2,452.8 80.4,446.2 80.6,455.4 80.9,451.0 81.1,458.6 81.3,451.5 81.5,448.6 81.7,452.3 81.9,453.6 82.1,450.8 82.3,449.3 82.5,449.4 82.7,445.1 82.9,450.8 83.1,453.5 83.3,452.0 83.5,451.8 83.7,451.2 83.9,451.7 84.1,451.0 84.3,457.0 84.6,448.9 84.8,453.4 85.0,455.4 85.2,449.5 85.4,447.3 85.6,450.0 85.8,451.0 86.0,454.6 86.2,442.3 86.4,448.7 86.6,455.2 86.8,454.1 87.0,451.3 87.2,456.6 87.4,451.0 87.6,453.0 87.8,447.6 88.1,448.5 88.3,460.3 88.5,451.4 88.7,456.8 88.9,448.0 89.1,451.0 89.3,449.8 89.5,455.0 89.7,445.7 89.9,445.1 90.1,455.0 90.3,450.4 90.5,453.7 90.7,451.6 90.9,455.6 91.1,445.6 91.3,454.6 91.6,452.5 91.8,450.0 92.0,453.6 92.2,452.3 92.4,453.3 92.6,452.0 92.8,455.3 93.0,453.0 93.2,452.2 93.4,452.6 93.6,451.4 93.8,452.5 94.0,449.2 94.2,452.6 94.4,452.0 94.6,453.7 94.8,453.2 95.1,455.6 95.3,450.0 95.5,455.2 95.7,453.9 95.9,450.5 96.1,450.3 96.3,452.8 96.5,457.9 96.7,450.3 96.9,450.8 97.1,456.0 97.3,449.2 97.5,453.8 97.7,455.1 97.9,451.3 98.1,452.1 98.3,450.9 98.6,456.6 98.8,445.9 99.0,453.5 99.2,456.4 99.4,449.7 99.6,452.7 99.8,450.6 100.0,452.7 100.2,451.8 100.4,450.8 100.6,453.9 100.8,449.5 101.0,453.0 101.2,454.3 101.4,451.4 101.6,450.2 101.8,452.3 102.1,454.3 102.3,449.7 102.5,457.0 102.7,454.8 102.9,451.5 103.1,455.8 103.3,451.5 103.5,451.8 103.7,448.9 103.9,454.4 104.1,453.5 104.3,450.6 104.5,459.1 104.7,442.1 104.9,453.7 105.1,453.8 105.3,449.0 105.6,451.7 105.8,457.0 106.0,449.7 106.2,449.0 106.4,453.0 106.6,452.5 106.8,450.1 107.0,454.4 107.2,450.3 107.4,451.0 107.6,453.7 107.8,455.8 108.0,452.3 108.2,454.3 108.4,448.6 108.6,451.2 108.8,449.2 109.1,451.2 109.3,450.9 109.5,454.0 109.7,449.6 109.9,446.3 110.1,452.5 110.3,453.4 110.5,452.1 110.7,453.0 110.9,453.7 111.1,451.2 111.3,452.5 111.5,447.3 111.7,451.6 111.9,450.7 112.1,448.8 112.3,452.5 112.5,447.4 112.8,453.5 113.0,454.0 113.2,452.7 113.4,452.0 113.6,455.8 113.8,451.7 114.0,456.6 114.2,447.5 114.4,451.8 114.6,453.5 114.8,454.3 115.0,452.8 115.2,452.3 115.4,454.7 115.6,454.3 115.8,452.2 116.0,453.2 116.3,448.9 116.5,448.3 116.7,451.6 116.9,450.2 117.1,455.6 117.3,449.8 117.5,451.7 117.7,450.2 117.9,447.0 118.1,458.3 118.3,450.9 118.5,454.9 118.7,449.9 118.9,455.5 119.1,453.1 119.3,451.0 119.5,449.9 119.8,451.4 120.0,453.9 120.2,453.2 120.4,449.1 120.6,451.7 120.8,456.5 121.0,449.2 121.2,450.4 121.4,449.1 121.6,452.6 121.8,449.2 122.0,454.7 122.2,450.0 122.4,453.0 122.6,449.7 122.8,448.7 123.0,453.7 123.3,451.8 123.5,451.5 123.7,448.3 123.9,449.7 124.1,455.2 124.3,450.3 124.5,449.5 124.7,445.6 124.9,456.5 125.1,453.2 125.3,447.8 125.5,455.5 125.7,455.1 125.9,450.2 126.1,448.8 126.3,453.6 126.5,450.2 126.8,451.3 127.0,447.3 127.2,451.7 127.4,448.9 127.6,454.2 127.8,452.2 128.0,451.9 128.2,448.5 128.4,450.0 128.6,453.8 128.8,449.8 129.0,449.5 129.2,452.0 129.4,452.4 129.6,452.2 129.8,456.5 130.0,451.1 130.3,451.0 130.5,454.1 130.7,449.6 130.9,455.5 131.1,453.2 131.3,453.0 131.5,446.1 131.7,456.1 131.9,450.1 132.1,449.1 132.3,450.6 132.5,448.4 132.7,454.5 132.9,458.0 133.1,449.5 133.3,455.0 133.5,452.6 133.8,454.9 134.0,448.8 134.2,449.3 134.4,453.7 134.6,449.2 134.8,451.3 135.0,452.1 135.2,451.5 135.4,452.3 135.6,450.0 135.8,450.8 136.0,452.6 136.2,448.9 136.4,453.3 136.6,450.9 136.8,450.5 137.0,447.6 137.3,453.1 137.5,446.9 137.7,451.2 137.9,452.2 138.1,453.5 138.3,450.1 138.5,451.6 138.7,454.7 138.9,454.8 139.1,453.2 139.3,453.6 139.5,448.7 139.7,448.0 139.9,449.4 140.1,450.7 140.3,452.9 140.5,451.6 140.7,449.3 141.0,446.0 141.2,449.2 141.4,452.5 141.6,451.6 141.8,453.0 142.0,453.8 142.2,452.2 142.4,451.2 142.6,446.8 142.8,451.6 143.0,448.1 143.2,447.0 143.4,451.5 143.6,447.4 143.8,449.8 144.0,452.8 144.2,451.0 144.5,451.6 144.7,452.3 144.9,452.3 145.1,451.3 145.3,450.6 145.5,454.1 145.7,451.8 145.9,455.8 146.1,451.0 146.3,450.1 146.5,451.3 146.7,451.0 146.9,450.1 147.1,453.5 147.3,452.4 147.5,450.4 147.7,449.1 148.0,450.7 148.2,445.0 148.4,452.0 148.6,449.1 148.8,448.4 149.0,452.1 149.2,453.9 149.4,454.8 149.6,451.3 149.8,448.8 150.0,451.0 150.2,451.3 150.4,452.7 150.6,450.3 150.8,457.3 151.0,451.1 151.2,451.7 151.5,455.3 151.7,446.1 151.9,455.3 152.1,454.5 152.3,454.8 152.5,448.9 152.7,454.0 152.9,450.0 153.1,450.3 153.3,451.0 153.5,455.1 153.7,453.3 153.9,447.4 154.1,455.1 154.3,453.9 154.5,452.2 154.7,449.7 155.0,451.1 155.2,449.8 155.4,454.5 155.6,449.3 155.8,450.3 156.0,455.8 156.2,447.8 156.4,445.9 156.6,453.8 156.8,451.6 157.0,448.2 157.2,455.5 157.4,456.9 157.6,455.1 157.8,453.2 158.0,453.3 158.2,450.2 158.5,451.0 158.7,454.9 158.9,450.3 159.1,447.0 159.3,448.7 159.5,449.3 159.7,451.7 159.9,449.3 160.1,454.2 160.3,449.8 160.5,452.0 160.7,448.9 160.9,450.6 161.1,454.5 161.3,451.4 161.5,448.6 161.7,454.7 162.0,453.2 162.2,453.7 162.4,455.6 162.6,449.3 162.8,448.4 163.0,449.8 163.2,451.1 163.4,451.9 163.6,451.1 163.8,453.6 164.0,449.5 164.2,449.1 164.4,449.4 164.6,453.1 164.8,451.6 165.0,452.2 165.2,447.3 165.5,451.3 165.7,456.5 165.9,450.8 166.1,447.0 166.3,450.1 166.5,449.6 166.7,451.7 166.9,456.7 167.1,456.3 167.3,454.9 167.5,452.1 167.7,451.0 167.9,450.1 168.1,452.7 168.3,449.4 168.5,452.5 168.7,453.6 168.9,449.7 169.2,454.1 169.4,458.6 169.6,454.4 169.8,451.5 170.0,459.4 170.2,452.7 170.4,452.6 170.6,455.3 170.8,455.5 171.0,452.9 171.2,453.1 171.4,448.7 171.6,450.9 171.8,455.7 172.0,453.9 172.2,450.0 172.4,447.1 172.7,450.8 172.9,451.0 173.1,447.1 173.3,451.9 173.5,452.6 173.7,455.3 173.9,453.1 174.1,446.4 174.3,455.3 174.5,451.7 174.7,455.3 174.9,451.5 175.1,449.6 175.3,452.4 175.5,450.0 175.7,450.0 175.9,450.7 176.2,447.6 176.4,449.9 176.6,452.5 176.8,453.4 177.0,453.9 177.2,450.6 177.4,452.6 177.6,445.1 177.8,447.3 178.0,452.3 178.2,452.6 178.4,447.7 178.6,456.4 178.8,452.9 179.0,449.5 179.2,454.0 179.4,452.9 179.7,452.7 179.9,450.2 180.1,451.5 180.3,450.8 180.5,450.4 180.7,451.7 180.9,449.1 181.1,453.6 181.3,455.3 181.5,456.1 181.7,455.7 181.9,453.1 182.1,449.3 182.3,451.4 182.5,453.3 182.7,454.4 182.9,453.1 183.2,452.7 183.4,453.2 183.6,455.3 183.8,453.0 184.0,449.4 184.2,457.0 184.4,452.4 184.6,456.9 184.8,451.4 185.0,453.6 185.2,456.8 185.4,451.6 185.6,447.5 185.8,451.6 186.0,449.0 186.2,452.0 186.4,457.0 186.7,450.7 186.9,452.8 187.1,455.3 187.3,449.9 187.5,451.1 187.7,453.2 187.9,449.8 188.1,453.9 188.3,450.2 188.5,454.1 188.7,450.6 188.9,454.4 189.1,448.3 189.3,451.2 189.5,448.4 189.7,453.8 189.9,453.0 190.2,449.8 190.4,458.4 190.6,454.3 190.8,449.4 191.0,450.7 191.2,449.5 191.4,452.6 191.6,450.5 191.8,453.6 192.0,455.1 192.2,455.8 192.4,453.2 192.6,453.1 192.8,453.3 193.0,460.2 193.2,456.5 193.4,453.0 193.7,451.2 193.9,453.2 194.1,453.9 194.3,457.3 194.5,447.1 194.7,454.4 194.9,447.9 195.1,448.1 195.3,451.2 195.5,453.2 195.7,451.5 195.9,454.5 196.1,451.2 196.3,451.9 196.5,450.6 196.7,449.6 196.9,447.8 197.1,452.8 197.4,449.4 197.6,453.7 197.8,453.9 198.0,453.3 198.2,454.2 198.4,449.5 198.6,449.7 198.8,448.9 199.0,452.0 199.2,451.2 199.4,453.2 199.6,454.5 199.8,450.8 200.0,451.2 200.2,454.4 200.4,450.5 200.6,455.9 200.9,452.3 201.1,453.3 201.3,453.1 201.5,454.3 201.7,449.7 201.9,450.5 202.1,449.1 202.3,451.5 202.5,454.8 202.7,452.7 202.9,454.6 203.1,450.8 203.3,449.1 203.5,451.1 203.7,453.3 203.9,452.7 204.1,451.4 204.4,455.2 204.6,451.5 204.8,451.5 205.0,453.1 205.2,452.9 205.4,451.5 205.6,453.7 205.8,453.8 206.0,450.1 206.2,451.4 206.4,448.1 206.6,454.1 206.8,455.9 207.0,449.8 207.2,449.7 207.4,453.6 207.6,455.2 207.9,452.0 208.1,455.9 208.3,452.7 208.5,456.9 208.7,452.5 208.9,456.7 209.1,452.4 209.3,448.5 209.5,452.6 209.7,450.2 209.9,453.4 210.1,454.0 210.3,455.4 210.5,449.7 210.7,452.1 210.9,448.3 211.1,454.6 211.4,452.4 211.6,451.8 211.8,448.8 212.0,447.9 212.2,453.5 212.4,454.6 212.6,455.9 212.8,449.0 213.0,452.2 213.2,453.5 213.4,452.1 213.6,457.7 213.8,455.8 214.0,449.9 214.2,451.1 214.4,451.6 214.6,454.2 214.9,450.7 215.1,448.1 215.3,454.7 215.5,451.9 215.7,452.9 215.9,451.2 216.1,451.9 216.3,452.3 216.5,453.9 216.7,452.0 216.9,453.4 217.1,452.3 217.3,452.2 217.5,450.5 217.7,453.3 217.9,452.7 218.1,449.5 218.4,452.4 218.6,452.5 218.8,450.0 219.0,451.3 219.2,451.8 219.4,451.5 219.6,454.7 219.8,450.8 220.0,449.1 220.2,450.7 220.4,455.3 220.6,451.3 220.8,454.0 221.0,452.4 221.2,451.6 221.4,454.5 221.6,449.0 221.9,452.0 222.1,450.2 222.3,450.5 222.5,449.0 222.7,449.3 222.9,455.1 223.1,451.8 223.3,456.6 223.5,452.9 223.7,450.3 223.9,449.9 224.1,449.2 224.3,452.7 224.5,451.1 224.7,451.8 224.9,449.2 225.1,448.4 225.3,452.7 225.6,443.7 225.8,451.9 226.0,452.6 226.2,450.6 226.4,450.2 226.6,450.7 226.8,453.2 227.0,448.7 227.2,451.8 227.4,448.5 227.6,448.9 227.8,454.6 228.0,453.9 228.2,453.9 228.4,451.1 228.6,451.6 228.8,451.3 229.1,453.5 229.3,450.7 229.5,448.7 229.7,454.6 229.9,452.0 230.1,451.2 230.3,451.9 230.5,452.1 230.7,447.8 230.9,448.9 231.1,449.7 231.3,453.1 231.5,446.7 231.7,450.9 231.9,452.8 232.1,452.4 232.3,452.7 232.6,447.0 232.8,451.0 233.0,451.1 233.2,456.0 233.4,449.5 233.6,453.5 233.8,453.5 234.0,449.9 234.2,453.0 234.4,449.0 234.6,448.5 234.8,454.3 235.0,450.8 235.2,453.5 235.4,450.2 235.6,447.9 235.8,452.3 236.1,445.0 236.3,449.4 236.5,450.7 236.7,447.3 236.9,445.2 237.1,448.7 237.3,445.5 237.5,447.1 237.7,440.3 237.9,442.0 238.1,442.3 238.3,438.6 238.5,442.5 238.7,440.8 238.9,435.5 239.1,438.2 239.3,436.0 239.6,436.9 239.8,439.2 240.0,439.6 240.2,439.9 240.4,441.7 240.6,442.0 240.8,443.0 241.0,444.7 241.2,442.7 241.4,442.6 241.6,443.0 241.8,449.7 242.0,444.8 242.2,447.4 242.4,450.8 242.6,448.2 242.8,447.2 243.1,447.9 243.3,448.2 243.5,448.2 243.7,448.5 243.9,450.6 244.1,455.0 244.3,452.4 244.5,450.2 244.7,451.8 244.9,449.6 245.1,449.7 245.3,451.0 245.5,447.3 245.7,453.4 245.9,449.6 246.1,452.4 246.3,453.1 246.6,450.3 246.8,452.9 247.0,449.6 247.2,454.0 247.4,451.5 247.6,453.4 247.8,452.1 248.0,452.6 248.2,454.1 248.4,450.5 248.6,454.1 248.8,453.8 249.0,450.0 249.2,449.6 249.4,450.4 249.6,451.0 249.8,447.0 250.1,454.2 250.3,453.2 250.5,453.7 250.7,450.1 250.9,451.1 251.1,449.4 251.3,449.7 251.5,452.4 251.7,453.5 251.9,453.8 252.1,447.2 252.3,449.8 252.5,450.5 252.7,452.5 252.9,452.2 253.1,452.6 253.3,452.5 253.5,456.5 253.8,452.0 254.0,452.7 254.2,451.2 254.4,451.3 254.6,450.0 254.8,451.8 255.0,450.2 255.2,457.1 255.4,454.0 255.6,448.4 255.8,454.2 256.0,452.4 256.2,450.4 256.4,453.5 256.6,450.4 256.8,454.7 257.0,455.6 257.3,454.4 257.5,455.1 257.7,451.9 257.9,452.4 258.1,451.2 258.3,453.9 258.5,446.8 258.7,452.1 258.9,451.9 259.1,450.8 259.3,452.3 259.5,453.1 259.7,451.7 259.9,449.9 260.1,450.5 260.3,450.1 260.5,452.9 260.8,453.4 261.0,448.0 261.2,452.3 261.4,450.9 261.6,450.3 261.8,449.1 262.0,454.5 262.2,452.8 262.4,452.7 262.6,452.4 262.8,456.6 263.0,452.0 263.2,457.5 263.4,451.2 263.6,450.8 263.8,450.5 264.0,454.0 264.3,450.0 264.5,453.4 264.7,454.1 264.9,453.7 265.1,453.4 265.3,451.4 265.5,450.2 265.7,455.8 265.9,452.8 266.1,450.0 266.3,451.4 266.5,450.8 266.7,454.6 266.9,449.9 267.1,454.7 267.3,451.4 267.5,449.2 267.8,448.1 268.0,450.7 268.2,450.1 268.4,452.8 268.6,452.4 268.8,449.4 269.0,451.8 269.2,451.8 269.4,454.3 269.6,451.5 269.8,450.4 270.0,453.2 270.2,452.5 270.4,448.8 270.6,451.2 270.8,452.2 271.0,453.7 271.3,452.7 271.5,452.2 271.7,449.0 271.9,452.7 272.1,448.3 272.3,453.5 272.5,452.2 272.7,450.1 272.9,451.9 273.1,453.2 273.3,451.7 273.5,450.7 273.7,454.5 273.9,452.1 274.1,451.6 274.3,452.3 274.5,450.2 274.8,452.4 275.0,452.1 275.2,451.3 275.4,450.3 275.6,452.0 275.8,448.6 276.0,453.2 276.2,448.9 276.4,452.8 276.6,451.7 276.8,450.7 277.0,447.6 277.2,449.7 277.4,452.1 277.6,449.0 277.8,451.6 278.0,452.7 278.3,450.5 278.5,451.1 278.7,449.5 278.9,452.2 279.1,450.4 279.3,449.7 279.5,450.8 279.7,451.3 279.9,452.3 280.1,449.4 280.3,450.8 280.5,449.8 280.7,451.8 280.9,450.9 281.1,452.9 281.3,450.7 281.5,449.3 281.8,450.8 282.0,449.0 282.2,450.2 282.4,448.3 282.6,451.2 282.8,453.5 283.0,449.8 283.2,450.6 283.4,452.3 283.6,449.1 283.8,449.6 284.0,449.4 284.2,450.5 284.4,449.8 284.6,449.4 284.8,446.7 285.0,450.5 285.2,449.7 285.5,448.9 285.7,452.3 285.9,452.2 286.1,445.4 286.3,452.0 286.5,447.6 286.7,450.3 286.9,449.8 287.1,451.8 287.3,449.5 287.5,446.3 287.7,449.9 287.9,446.2 288.1,446.0 288.3,443.5 288.5,446.7 288.7,443.6 289.0,444.5 289.2,445.5 289.4,447.9 289.6,441.4 289.8,446.4 290.0,443.0 290.2,440.5 290.4,438.0 290.6,441.4 290.8,438.3 291.0,437.9 291.2,433.1 291.4,428.7 291.6,433.3 291.8,424.3 292.0,427.5 292.2,418.5 292.5,415.5 292.7,402.8 292.9,396.6 293.1,386.7 293.3,369.9 293.5,352.4 293.7,328.9 293.9,306.6 294.1,282.1 294.3,262.6 294.5,258.4 294.7,263.6 294.9,274.4 295.1,282.3 295.3,290.1 295.5,303.5 295.7,319.1 296.0,335.9 296.2,355.3 296.4,371.5 296.6,384.7 296.8,396.1 297.0,404.7 297.2,412.7 297.4,418.5 297.6,423.8 297.8,427.5 298.0,428.6 298.2,432.7 298.4,435.9 298.6,437.2 298.8,436.8 299.0,435.0 299.2,441.7 299.5,438.5 299.7,440.9 299.9,439.3 300.1,440.2 300.3,439.3 300.5,440.8 300.7,442.4 300.9,442.5 301.1,440.2 301.3,440.2 301.5,437.1 301.7,437.6 301.9,442.5 302.1,439.5 302.3,442.3 302.5,442.8 302.7,439.1 303.0,439.3 303.2,441.6 303.4,437.2 303.6,442.8 303.8,442.6 304.0,439.6 304.2,441.1 304.4,442.6 304.6,442.9 304.8,441.9 305.0,444.4 305.2,444.5 305.4,447.5 305.6,448.2 305.8,444.7 306.0,448.0 306.2,445.8 306.5,444.7 306.7,448.8 306.9,447.8 307.1,445.2 307.3,447.9 307.5,446.1 307.7,447.2 307.9,448.6 308.1,450.2 308.3,451.4 308.5,451.9 308.7,449.4 308.9,449.7 309.1,451.0 309.3,449.3 309.5,451.7 309.7,449.0 310.0,450.7 310.2,450.9 310.4,450.9 310.6,451.1 310.8,447.0 311.0,453.7 311.2,450.7 311.4,449.1 311.6,450.0 311.8,451.8 312.0,448.5 312.2,453.0 312.4,453.3 312.6,450.6 312.8,453.5 313.0,455.1 313.2,450.0 313.4,450.3 313.7,450.2 313.9,452.2 314.1,451.4 314.3,453.1 314.5,448.8 314.7,450.2 314.9,450.4 315.1,454.6 315.3,450.3 315.5,449.2 315.7,449.5 315.9,450.3 316.1,451.6 316.3,452.1 316.5,450.8 316.7,451.2 316.9,451.3 317.2,452.2 317.4,449.1 317.6,453.4 317.8,451.6 318.0,452.6 318.2,450.1 318.4,449.4 318.6,449.8 318.8,450.4 319.0,454.1 319.2,448.4 319.4,450.9 319.6,452.0 319.8,451.7 320.0,452.3 320.2,450.9 320.4,451.2 320.7,452.4 320.9,455.9 321.1,451.9 321.3,451.1 321.5,451.0 321.7,452.2 321.9,451.0 322.1,450.1 322.3,452.6 322.5,449.5 322.7,454.8 322.9,453.8 323.1,453.2 323.3,455.8 323.5,453.5 323.7,449.8 323.9,450.0 324.2,451.7 324.4,449.2 324.6,451.5 324.8,452.7 325.0,451.5 325.2,452.0 325.4,450.7 325.6,454.3 325.8,450.3 326.0,452.7 326.2,450.6 326.4,454.6 326.6,452.5 326.8,451.8 327.0,450.6 327.2,453.8 327.4,449.4 327.7,451.2 327.9,452.9 328.1,450.1 328.3,451.8 328.5,450.1 328.7,448.3 328.9,450.8 329.1,452.8 329.3,452.7 329.5,451.1 329.7,451.7 329.9,453.3 330.1,453.1 330.3,451.0 330.5,448.2 330.7,456.1 330.9,450.9 331.2,452.4 331.4,450.9 331.6,450.5 331.8,451.9 332.0,453.6 332.2,454.2 332.4,454.9 332.6,450.1 332.8,452.3 333.0,452.8 333.2,452.4 333.4,454.2 333.6,451.6 333.8,449.8 334.0,450.2 334.2,454.5 334.4,450.0 334.7,453.2 334.9,455.1 335.1,454.0 335.3,453.5 335.5,452.1 335.7,453.7 335.9,454.4 336.1,452.5 336.3,449.0 336.5,453.1 336.7,451.4 336.9,452.0 337.1,447.9 337.3,455.0 337.5,450.4 337.7,454.1 337.9,453.0 338.2,452.3 338.4,447.0 338.6,453.3 338.8,455.1 339.0,450.0 339.2,453.4 339.4,452.5 339.6,452.1 339.8,452.0 340.0,452.3 340.2,451.7 340.4,451.5 340.6,450.7 340.8,452.8 341.0,453.3 341.2,453.8 341.4,451.2 341.6,452.3 341.9,451.3 342.1,451.3 342.3,449.4 342.5,451.8 342.7,451.0 342.9,454.0 343.1,453.8 343.3,452.6 343.5,454.0 343.7,451.1 343.9,454.2 344.1,452.0 344.3,456.0 344.5,453.8 344.7,452.7 344.9,452.6 345.1,455.0 345.4,451.9 345.6,450.6 345.8,451.1 346.0,453.2 346.2,453.1 346.4,454.0 346.6,451.1 346.8,449.8 347.0,452.9 347.2,454.8 347.4,451.9 347.6,451.0 347.8,456.4 348.0,451.9 348.2,448.7 348.4,450.8 348.6,451.3 348.9,451.5 349.1,450.5 349.3,453.7 349.5,453.5 349.7,451.5 349.9,453.2 350.1,451.7 350.3,455.2 350.5,450.9 350.7,450.8 350.9,452.1 351.1,451.8 351.3,449.6 351.5,453.9 351.7,453.6 351.9,453.8 352.1,452.8 352.4,453.8 352.6,452.1 352.8,453.2 353.0,454.4 353.2,454.7 353.4,450.3 353.6,452.3 353.8,452.6 354.0,452.1 354.2,452.3 354.4,451.0 354.6,451.3 354.8,453.1 355.0,453.4 355.2,453.8 355.4,454.1 355.6,450.0 355.9,453.6 356.1,455.4 356.3,453.5 356.5,453.4 356.7,451.6 356.9,453.6 357.1,451.3 357.3,451.6 357.5,450.2 357.7,448.8 357.9,447.7 358.1,450.1 358.3,454.0 358.5,452.8 358.7,451.8 358.9,449.0 359.1,451.2 359.4,450.3 359.6,452.5 359.8,451.2 360.0,451.1 360.2,452.9 360.4,451.0 360.6,450.5 360.8,452.3 361.0,450.6 361.2,449.6 361.4,452.2 361.6,452.2 361.8,452.7 362.0,453.2 362.2,451.9 362.4,452.9 362.6,452.7 362.9,453.4 363.1,454.6 363.3,453.7 363.5,451.7 363.7,454.1 363.9,453.2 364.1,449.6 364.3,450.4 364.5,453.3 364.7,451.2 364.9,453.3 365.1,449.6 365.3,453.1 365.5,452.1 365.7,450.1 365.9,453.5 366.1,450.1 366.4,453.5 366.6,451.9 366.8,452.6 367.0,452.3 367.2,451.9 367.4,452.3 367.6,453.8 367.8,450.9 368.0,451.1 368.2,450.2 368.4,450.1 368.6,454.3 368.8,450.3 369.0,450.2 369.2,453.1 369.4,450.6 369.6,449.9 369.8,453.1 370.1,454.4 370.3,452.8 370.5,447.9 370.7,451.8 370.9,454.1 371.1,452.6 371.3,453.8 371.5,452.9 371.7,452.1 371.9,456.2 372.1,451.7 372.3,450.0 372.5,452.6 372.7,452.8 372.9,450.6 373.1,454.2 373.3,454.2 373.6,454.4 373.8,452.5 374.0,451.6 374.2,452.4 374.4,451.4 374.6,450.9 374.8,451.5 375.0,453.5 375.2,452.6 375.4,450.3 375.6,453.9 375.8,452.7 376.0,452.9 376.2,452.6 376.4,454.0 376.6,454.4 376.8,448.3 377.1,450.8 377.3,453.4 377.5,452.4 377.7,451.2 377.9,452.8 378.1,451.3 378.3,453.2 378.5,452.9 378.7,452.4 378.9,452.9 379.1,456.1 379.3,452.2 379.5,451.9 379.7,451.5 379.9,453.8 380.1,451.8 380.3,451.9 380.6,455.0 380.8,455.7 381.0,451.5 381.2,453.8 381.4,450.7 381.6,448.9 381.8,453.2 382.0,453.3 382.2,452.2 382.4,451.2 382.6,454.0 382.8,450.3 383.0,450.7 383.2,451.2 383.4,453.1 383.6,450.8 383.8,450.9 384.1,454.1 384.3,449.0 384.5,452.7 384.7,451.7 384.9,453.1 385.1,451.6 385.3,450.4 385.5,453.5 385.7,454.8 385.9,453.0 386.1,454.3 386.3,453.5 386.5,452.5 386.7,452.4 386.9,450.3 387.1,453.9 387.3,451.7 387.6,453.1 387.8,450.2 388.0,448.4 388.2,451.8 388.4,449.7 388.6,453.2 388.8,454.8 389.0,454.3 389.2,454.8 389.4,453.8 389.6,452.6 389.8,450.5 390.0,451.2 390.2,451.5 390.4,452.9 390.6,453.4 390.8,452.2 391.1,452.1 391.3,451.9 391.5,451.8 391.7,452.5 391.9,455.3 392.1,454.0 392.3,453.6 392.5,449.6 392.7,452.9 392.9,451.3 393.1,450.0 393.3,451.8 393.5,452.9 393.7,452.8 393.9,453.9 394.1,451.8 394.3,450.5 394.6,451.4 394.8,451.1 395.0,451.2 395.2,449.2 395.4,453.3 395.6,452.1 395.8,451.2 396.0,450.4 396.2,456.1 396.4,453.1 396.6,452.6 396.8,453.9 397.0,451.0 397.2,452.0 397.4,452.9 397.6,454.8 397.8,454.4 398.0,453.8 398.3,451.5 398.5,454.2 398.7,455.5 398.9,454.5 399.1,453.2 399.3,449.7 399.5,448.5 399.7,453.1 399.9,450.9 400.1,450.1 400.3,450.3 400.5,452.5 400.7,454.3 400.9,453.1 401.1,455.2 401.3,452.0 401.5,451.1 401.8,455.3 402.0,452.4 402.2,451.9 402.4,450.4 402.6,450.2 402.8,451.1 403.0,453.4 403.2,452.9 403.4,450.4 403.6,453.3 403.8,452.4 404.0,449.9 404.2,452.1 404.4,454.4 404.6,452.7 404.8,451.3 405.0,452.6 405.3,450.5 405.5,450.3 405.7,453.3 405.9,453.1 406.1,452.5 406.3,454.2 406.5,451.7 406.7,452.6 406.9,451.1 407.1,453.3 407.3,453.7 407.5,449.5 407.7,453.7 407.9,453.3 408.1,453.5 408.3,452.8 408.5,453.8 408.8,452.4 409.0,453.4 409.2,453.0 409.4,451.8 409.6,451.3 409.8,451.6 410.0,453.5 410.2,451.7 410.4,452.5 410.6,452.5 410.8,455.0 411.0,451.3 411.2,452.5 411.4,449.7 411.6,451.4 411.8,454.1 412.0,454.5 412.3,450.6 412.5,453.7 412.7,451.3 412.9,452.8 413.1,449.1 413.3,452.2 413.5,450.0 413.7,450.3 413.9,453.1 414.1,452.9 414.3,450.0 414.5,452.3 414.7,453.7 414.9,450.5 415.1,448.3 415.3,452.4 415.5,450.1 415.8,452.6 416.0,450.2 416.2,452.7 416.4,450.2 416.6,451.5 416.8,452.6 417.0,451.9 417.2,453.1 417.4,454.0 417.6,453.9 417.8,452.3 418.0,453.9 418.2,451.6 418.4,451.4 418.6,451.5 418.8,453.1 419.0,452.2 419.3,452.3 419.5,450.2 419.7,453.5 419.9,452.9 420.1,452.6 420.3,452.5 420.5,453.4 420.7,453.2 420.9,450.7 421.1,453.2 421.3,450.8 421.5,449.1 421.7,450.3 421.9,455.0 422.1,451.1 422.3,451.5 422.5,451.4 422.8,454.8 423.0,451.1 423.2,453.9 423.4,450.3 423.6,450.6 423.8,448.4 424.0,452.9 424.2,454.6 424.4,450.6 424.6,450.9 424.8,452.9 425.0,450.2 425.2,451.2 425.4,454.3 425.6,452.8 425.8,453.0 426.0,452.4 426.2,452.0 426.5,453.3 426.7,452.6 426.9,451.4 427.1,452.4 427.3,452.7 427.5,452.8 427.7,452.4 427.9,455.2 428.1,452.0 428.3,453.9 428.5,452.1 428.7,454.5 428.9,450.9 429.1,451.9 429.3,454.4 429.5,451.9 429.7,453.5 430.0,449.6 430.2,451.6 430.4,453.5 430.6,451.9 430.8,452.3 431.0,450.4 431.2,451.7 431.4,451.5 431.6,454.0 431.8,451.1 432.0,449.1 432.2,451.3 432.4,452.4 432.6,452.0 432.8,453.7 433.0,452.0 433.2,453.9 433.5,452.2 433.7,452.9 433.9,453.6 434.1,451.4 434.3,454.6 434.5,452.3 434.7,454.3 434.9,449.5 435.1,449.3 435.3,451.0 435.5,449.4 435.7,451.4 435.9,451.5 436.1,452.9 436.3,453.7 436.5,452.1 436.7,453.1 437.0,453.0 437.2,451.2 437.4,452.5 437.6,454.7 437.8,452.6 438.0,453.5 438.2,452.7 438.4,454.0 438.6,450.5 438.8,449.4 439.0,454.0 439.2,451.3 439.4,451.4 439.6,453.9 439.8,452.2 440.0,450.1 440.2,451.0 440.5,449.8 440.7,454.1 440.9,453.4 441.1,451.9 441.3,451.8 441.5,452.3 441.7,452.9 441.9,452.9 442.1,453.3 442.3,451.6 442.5,456.5 442.7,449.9 442.9,453.1 443.1,454.5 443.3,451.5 443.5,454.5 443.7,451.8 444.0,452.9 444.2,451.4 444.4,451.1 444.6,450.4 444.8,453.1 445.0,452.8 445.2,452.4 445.4,454.5 445.6,451.5 445.8,452.1 446.0,454.4 446.2,450.5 446.4,450.3 446.6,454.3 446.8,451.5 447.0,450.5 447.2,451.1 447.5,453.8 447.7,454.5 447.9,452.5 448.1,453.1 448.3,452.4 448.5,452.5 448.7,451.6 448.9,453.2 449.1,452.6 449.3,447.9 449.5,452.6 449.7,451.2 449.9,452.0 450.1,452.0 450.3,453.8 450.5,451.6 450.7,452.5 451.0,451.1 451.2,449.3 451.4,452.1 451.6,451.2 451.8,453.9 452.0,452.2 452.2,450.0 452.4,452.5 452.6,453.4 452.8,452.1 453.0,452.7 453.2,452.8 453.4,453.0 453.6,449.4 453.8,453.7 454.0,453.0 454.2,453.2 454.4,450.5 454.7,452.8 454.9,450.4 455.1,452.2 455.3,452.4 455.5,454.6 455.7,450.5 455.9,451.6 456.1,451.8 456.3,452.6 456.5,453.0 456.7,454.3 456.9,451.0 457.1,452.0 457.3,452.9 457.5,453.3 457.7,452.2 457.9,452.5 458.2,449.9 458.4,451.2 458.6,453.3 458.8,454.1 459.0,452.8 459.2,453.8 459.4,452.3 459.6,451.8 459.8,451.4 460.0,451.8 460.2,452.7 460.4,451.5 460.6,453.7 460.8,452.5 461.0,451.2 461.2,452.0 461.4,454.3 461.7,454.1 461.9,454.8 462.1,449.7 462.3,454.7 462.5,452.6 462.7,449.6 462.9,450.7 463.1,450.4 463.3,453.2 463.5,451.3 463.7,447.8 463.9,452.4 464.1,451.8 464.3,452.9 464.5,452.5 464.7,451.8 464.9,450.3 465.2,453.8 465.4,454.5 465.6,452.3 465.8,452.1 466.0,450.3 466.2,451.3 466.4,453.3 466.6,451.5 466.8,450.7 467.0,452.0 467.2,452.9 467.4,451.4 467.6,452.9 467.8,455.2 468.0,450.4 468.2,454.4 468.4,452.9 468.7,452.9 468.9,452.9 469.1,452.8 469.3,454.6 469.5,451.6 469.7,452.4 469.9,452.3 470.1,450.8 470.3,450.8 470.5,450.4 470.7,449.6 470.9,451.7 471.1,454.7 471.3,452.1 471.5,452.4 471.7,452.3 471.9,453.3 472.2,453.8 472.4,451.2 472.6,451.0 472.8,454.1 473.0,451.6 473.2,452.7 473.4,453.0 473.6,451.4 473.8,452.5 474.0,453.2 474.2,452.4 474.4,455.4 474.6,453.3 474.8,453.1 475.0,454.5 475.2,452.2 475.4,452.0 475.7,453.4 475.9,452.7 476.1,451.4 476.3,450.9 476.5,453.6 476.7,451.9 476.9,450.9 477.1,452.5 477.3,453.6 477.5,453.6 477.7,453.0 477.9,454.0 478.1,449.5 478.3,453.3 478.5,451.9 478.7,452.2 478.9,451.5 479.2,453.1 479.4,454.4 479.6,450.0 479.8,452.6 480.0,452.3 480.2,452.2 480.4,450.6 480.6,451.3 480.8,450.7 481.0,451.2 481.2,452.3 481.4,452.1 481.6,453.6 481.8,455.4 482.0,452.8 482.2,454.1 482.4,448.6 482.6,450.1 482.9,450.7 483.1,453.3 483.3,449.4 483.5,455.0 483.7,454.3 483.9,453.6 484.1,453.9 484.3,452.3 484.5,452.2 484.7,449.6 484.9,451.0 485.1,450.6 485.3,451.9 485.5,452.7 485.7,453.5 485.9,454.7 486.1,453.8 486.4,453.1 486.6,451.3 486.8,455.0 487.0,454.5 487.2,452.1 487.4,454.1 487.6,452.0 487.8,453.1 488.0,453.6 488.2,454.5 488.4,452.6 488.6,453.6 488.8,453.4 489.0,453.4 489.2,452.2 489.4,452.3 489.6,455.1 489.9,452.7 490.1,451.9 490.3,450.9 490.5,451.3 490.7,452.2 490.9,454.2 491.1,453.7 491.3,451.1 491.5,453.6 491.7,451.0 491.9,450.6 492.1,454.1 492.3,451.8 492.5,452.7 492.7,449.4 492.9,451.3 493.1,453.2 493.4,451.9 493.6,453.9 493.8,452.8 494.0,452.2 494.2,452.3 494.4,452.1 494.6,453.9 494.8,455.3 495.0,453.0 495.2,453.8 495.4,453.5 495.6,449.3 495.8,450.7 496.0,452.8 496.2,454.6 496.4,454.4 496.6,452.0 496.9,450.9 497.1,453.0 497.3,452.3 497.5,452.1 497.7,450.9 497.9,455.3 498.1,452.2 498.3,451.9 498.5,451.1 498.7,451.9 498.9,454.1 499.1,453.4 499.3,454.8 499.5,452.2 499.7,452.2 499.9,451.7 500.1,453.9 500.4,454.2 500.6,450.2 500.8,452.2 501.0,449.9 501.2,451.8 501.4,454.7 501.6,451.3 501.8,450.7 502.0,453.2 502.2,455.4 502.4,451.5 502.6,452.7 502.8,452.1 503.0,456.5 503.2,451.8 503.4,456.6 503.6,453.8 503.9,451.1 504.1,455.2 504.3,455.2 504.5,453.1 504.7,450.1 504.9,450.2 505.1,453.4 505.3,451.0 505.5,451.6 505.7,452.1 505.9,452.0 506.1,453.6 506.3,451.3 506.5,450.9 506.7,448.5 506.9,451.1 507.1,456.1 507.4,454.3 507.6,452.0 507.8,452.4 508.0,455.2 508.2,452.7 508.4,453.0 508.6,452.6 508.8,452.6 509.0,451.1 509.2,450.3 509.4,451.4 509.6,454.2 509.8,453.8 510.0,453.4 510.2,452.4 510.4,453.0 510.6,453.0 510.8,453.8 511.1,450.9 511.3,451.1 511.5,450.7 511.7,452.3 511.9,451.6 512.1,453.4 512.3,453.7 512.5,452.9 512.7,450.9 512.9,452.2 513.1,453.5 513.3,451.2 513.5,450.9 513.7,450.8 513.9,452.0 514.1,450.9 514.3,451.2 514.6,450.8 514.8,450.3 515.0,449.2 515.2,447.1 515.4,448.0 515.6,448.9 515.8,450.2 516.0,449.8 516.2,449.6 516.4,448.2 516.6,453.8 516.8,449.3 517.0,452.8 517.2,449.8 517.4,447.9 517.6,451.3 517.8,453.7 518.1,447.9 518.3,448.6 518.5,450.1 518.7,448.8 518.9,452.2 519.1,449.4 519.3,448.7 519.5,450.6 519.7,451.3 519.9,449.8 520.1,450.1 520.3,453.2 520.5,450.1 520.7,451.0 520.9,451.9 521.1,450.4 521.3,450.9 521.6,451.3 521.8,453.1 522.0,451.1 522.2,454.0 522.4,452.7 522.6,454.9 522.8,455.0 523.0,451.8 523.2,452.5 523.4,452.4 523.6,451.6 523.8,452.0 524.0,453.8 524.2,452.4 524.4,452.5 524.6,453.3 524.8,452.7 525.1,453.0 525.3,453.5 525.5,453.0 525.7,452.2 525.9,449.5 526.1,453.7 526.3,451.8 526.5,454.6 526.7,450.2 526.9,453.1 527.1,452.3 527.3,450.6 527.5,451.1 527.7,454.7 527.9,451.7 528.1,452.8 528.3,451.6 528.6,452.3 528.8,451.4 529.0,452.1 529.2,452.8 529.4,450.8 529.6,454.8 529.8,453.2 530.0,453.9 530.2,452.8 530.4,453.2 530.6,452.8 530.8,453.3 531.0,453.3 531.2,455.0 531.4,452.6 531.6,452.1 531.8,453.4 532.1,453.5 532.3,453.5 532.5,450.1 532.7,452.3 532.9,452.0 533.1,453.0 533.3,453.3 533.5,453.9 533.7,450.3 533.9,455.1 534.1,452.1 534.3,452.6 534.5,452.9 534.7,454.9 534.9,454.4 535.1,451.1 535.3,453.6 535.6,451.3 535.8,451.5 536.0,451.7 536.2,451.4 536.4,454.3 536.6,453.3 536.8,451.6 537.0,454.4 537.2,450.2 537.4,453.4 537.6,452.7 537.8,454.1 538.0,452.0 538.2,453.6 538.4,452.9 538.6,454.2 538.8,450.8 539.1,455.0 539.3,451.9 539.5,452.2 539.7,451.9 539.9,454.1 540.1,451.1 540.3,451.1 540.5,452.4 540.7,452.1 540.9,452.8 541.1,451.6 541.3,453.8 541.5,451.8 541.7,452.0 541.9,454.7 542.1,456.5 542.3,452.8 542.5,452.8 542.8,450.8 543.0,452.5 543.2,453.3 543.4,454.6 543.6,452.7 543.8,453.4 544.0,454.2 544.2,452.8 544.4,451.0 544.6,452.5 544.8,454.1 545.0,452.1 545.2,454.2 545.4,454.9 545.6,451.9 545.8,453.4 546.0,451.0 546.3,452.1 546.5,453.8 546.7,452.3 546.9,450.7 547.1,452.9 547.3,454.2 547.5,453.6 547.7,453.8 547.9,454.3 548.1,454.5 548.3,452.0 548.5,451.0 548.7,453.2 548.9,451.5 549.1,451.2 549.3,450.1 549.5,452.9 549.8,453.1 550.0,452.0 550.2,452.5 550.4,452.2 550.6,450.7 550.8,453.2 551.0,452.3 551.2,454.1 551.4,452.8 551.6,453.6 551.8,453.7 552.0,452.9 552.2,453.3 552.4,452.1 552.6,451.4 552.8,454.8 553.0,451.2 553.3,455.9 553.5,452.3 553.7,451.6 553.9,453.6 554.1,452.9 554.3,453.7 554.5,451.3 554.7,457.2 554.9,454.0 555.1,455.4 555.3,452.3 555.5,450.7 555.7,450.9 555.9,451.6 556.1,452.3 556.3,453.8 556.5,450.8 556.8,451.7 557.0,453.8 557.2,454.5 557.4,453.5 557.6,451.0 557.8,450.8 558.0,450.3 558.2,453.7 558.4,453.2 558.6,450.6 558.8,452.3 559.0,451.5 559.2,454.6 559.4,453.2 559.6,452.6 559.8,453.2 560.0,453.2 560.3,455.0 560.5,450.2 560.7,452.4 560.9,454.7 561.1,451.0 561.3,452.6 561.5,451.5 561.7,452.9 561.9,453.7 562.1,453.7 562.3,452.1 562.5,451.5 562.7,451.9 562.9,451.6 563.1,450.8 563.3,452.2 563.5,451.1 563.8,451.0 564.0,452.2 564.2,452.7 564.4,453.2 564.6,454.3 564.8,454.9 565.0,450.7 565.2,452.6 565.4,453.4 565.6,450.3 565.8,451.2 566.0,452.5 566.2,451.1 566.4,452.9 566.6,452.0 566.8,449.9 567.0,451.0 567.3,452.9 567.5,451.6 567.7,450.8 567.9,452.7 568.1,453.2 568.3,449.8 568.5,453.0 568.7,454.5 568.9,452.3 569.1,449.2 569.3,451.6 569.5,451.1 569.7,455.6 569.9,453.3 570.1,450.7 570.3,453.0 570.5,450.5 570.7,451.8 571.0,451.9 571.2,450.0 571.4,453.2 571.6,453.1 571.8,452.3 572.0,452.1 572.2,454.9 572.4,450.7 572.6,452.2 572.8,452.7 573.0,451.5 573.2,453.0 573.4,450.7 573.6,452.3 573.8,451.4 574.0,453.8 574.2,452.8 574.5,451.9 574.7,453.8 574.9,453.4 575.1,452.5 575.3,450.8 575.5,451.4 575.7,451.2 575.9,452.0 576.1,451.2 576.3,450.2 576.5,452.2 576.7,451.8 576.9,451.6 577.1,455.4 577.3,452.6 577.5,451.8 577.7,451.4 578.0,453.0 578.2,451.0 578.4,453.4 578.6,452.7 578.8,450.0 579.0,454.4 579.2,452.6 579.4,452.6 579.6,452.6 579.8,453.3 580.0,451.6 580.2,454.0 580.4,454.4 580.6,451.8 580.8,454.2 581.0,452.0 581.2,452.5 581.5,453.5 581.7,453.0 581.9,452.6 582.1,451.9 582.3,453.4 582.5,452.8 582.7,454.6 582.9,453.0 583.1,455.3 583.3,452.6 583.5,453.2 583.7,449.5 583.9,450.7 584.1,452.8 584.3,451.2 584.5,452.2 584.7,454.2 585.0,456.0 585.2,450.9 585.4,452.0 585.6,455.4 585.8,451.7 586.0,451.2 586.2,453.5 586.4,451.4 586.6,455.0 586.8,452.9 587.0,452.5 587.2,451.5 587.4,452.1 587.6,452.3 587.8,451.8 588.0,453.6 588.2,450.5 588.5,453.0 588.7,451.5 588.9,452.6 589.1,452.9 589.3,451.8 589.5,451.9 589.7,450.6 589.9,451.0 590.1,453.3 590.3,451.9 590.5,452.4 590.7,453.7 590.9,454.1 591.1,452.2 591.3,453.3 591.5,454.5 591.7,452.7 592.0,452.2 592.2,452.4 592.4,454.3 592.6,453.4 592.8,450.6 593.0,453.7 593.2,453.0 593.4,449.2 593.6,452.0 593.8,453.2 594.0,455.4 594.2,452.1 594.4,454.6 594.6,452.6 594.8,453.8 595.0,455.0 595.2,450.2 595.5,452.7 595.7,451.3 595.9,451.5 596.1,453.6 596.3,452.4 596.5,453.0 596.7,451.1 596.9,451.9 597.1,453.1 597.3,450.1 597.5,451.8 597.7,451.9 597.9,453.6 598.1,452.0 598.3,454.6 598.5,451.9 598.7,453.9 598.9,452.2 599.2,452.9 599.4,452.3 599.6,452.0 599.8,452.6 600.0,452.6 600.2,454.7 600.4,455.3 600.6,450.7 600.8,451.6 601.0,454.6 601.2,449.7 601.4,453.5 601.6,451.8 601.8,451.8 602.0,452.5 602.2,451.5 602.4,454.4 602.7,452.5 602.9,452.8 603.1,452.3 603.3,452.8 603.5,453.4 603.7,453.4 603.9,451.1 604.1,453.6 604.3,452.1 604.5,452.0 604.7,452.5 604.9,451.8 605.1,451.5 605.3,453.2 605.5,451.7 605.7,449.5 605.9,453.8 606.2,452.7 606.4,453.4 606.6,449.5 606.8,454.3 607.0,452.2 607.2,450.8 607.4,453.3 607.6,452.2 607.8,453.0 608.0,454.0 608.2,452.2 608.4,451.1 608.6,452.6 608.8,451.5 609.0,450.9 609.2,450.3 609.4,453.5 609.7,450.8 609.9,452.7 610.1,454.6 610.3,452.6 610.5,450.5 610.7,450.8 610.9,452.8 611.1,449.0 611.3,450.8 611.5,451.1 611.7,451.4 611.9,450.0 612.1,451.2 612.3,448.9 612.5,450.0 612.7,448.6 612.9,449.4 613.2,451.2 613.4,447.3 613.6,448.0 613.8,446.8 614.0,444.2 614.2,443.8 614.4,439.6 614.6,440.9 614.8,434.3 615.0,434.4 615.2,428.6 615.4,426.8 615.6,427.3 615.8,424.4 616.0,417.8 616.2,416.3 616.4,416.5 616.7,418.0 616.9,418.2 617.1,415.3 617.3,415.6 617.5,420.3 617.7,422.7 617.9,422.3 618.1,422.4 618.3,424.1 618.5,426.1 618.7,431.0 618.9,427.0 619.1,432.4 619.3,431.6 619.5,439.4 619.7,436.8 619.9,440.8 620.2,442.4 620.4,441.3 620.6,442.8 620.8,446.0 621.0,445.3 621.2,448.6 621.4,448.8 621.6,449.3 621.8,449.5 622.0,449.2 622.2,451.9 622.4,449.0 622.6,449.6 622.8,450.9 623.0,452.5 623.2,454.5 623.4,451.7 623.7,452.4 623.9,451.2 624.1,452.9 624.3,451.7 624.5,451.9 624.7,451.7 624.9,451.5 625.1,451.6 625.3,450.3 625.5,453.0 625.7,450.9 625.9,451.8 626.1,452.5 626.3,453.4 626.5,450.1 626.7,451.8 626.9,452.9 627.1,452.0 627.4,452.2 627.6,453.1 627.8,454.1 628.0,452.0 628.2,452.5 628.4,452.6 628.6,450.9 628.8,454.1 629.0,453.7 629.2,452.1 629.4,451.1 629.6,451.5 629.8,451.4 630.0,455.5 630.2,451.7 630.4,451.8 630.6,451.5 630.9,453.4 631.1,451.8 631.3,451.0 631.5,450.2 631.7,452.2 631.9,454.3 632.1,452.5 632.3,451.4 632.5,451.8 632.7,449.9 632.9,452.7 633.1,454.0 633.3,453.5 633.5,451.7 633.7,453.6 633.9,454.1 634.1,453.6 634.4,450.8 634.6,452.3 634.8,453.0 635.0,451.4 635.2,451.6 635.4,454.0 635.6,451.5 635.8,452.3 636.0,455.6 636.2,454.4 636.4,452.3 636.6,451.9 636.8,453.1 637.0,454.0 637.2,452.2 637.4,455.2 637.6,451.8 637.9,452.8 638.1,452.7 638.3,453.6 638.5,451.5 638.7,455.9 638.9,453.8 639.1,451.8 639.3,453.7 639.5,450.6 639.7,452.1 639.9,453.8 640.1,451.1 640.3,452.7 640.5,451.8 640.7,453.6 640.9,453.5 641.1,451.7 641.4,452.5 641.6,453.7 641.8,453.9 642.0,451.7 642.2,450.2 642.4,453.8 642.6,451.7 642.8,456.7 643.0,454.6 643.2,451.7 643.4,450.5 643.6,452.6 643.8,451.9 644.0,452.3 644.2,451.3 644.4,454.2 644.6,451.7 644.9,453.2 645.1,453.2 645.3,452.7 645.5,452.9 645.7,453.8 645.9,453.0 646.1,454.0 646.3,450.6 646.5,451.7 646.7,453.3 646.9,450.4 647.1,450.9 647.3,452.0 647.5,453.5 647.7,452.3 647.9,451.9 648.1,450.7 648.4,452.9 648.6,453.4 648.8,449.5 649.0,450.7 649.2,452.2 649.4,454.0 649.6,452.0 649.8,451.2 650.0,451.6 650.2,451.6 650.4,452.6 650.6,451.1 650.8,453.5 651.0,453.3 651.2,453.4 651.4,453.6 651.6,450.0 651.9,455.1 652.1,452.4 652.3,454.1 652.5,454.5 652.7,452.6 652.9,454.9 653.1,452.9 653.3,449.5 653.5,452.8 653.7,452.1 653.9,453.9 654.1,452.1 654.3,454.8 654.5,452.5 654.7,452.9 654.9,449.7 655.1,452.8 655.3,453.2 655.6,453.5 655.8,454.4 656.0,451.7 656.2,450.7 656.4,453.3 656.6,451.8 656.8,453.3 657.0,452.2 657.2,452.1 657.4,454.8 657.6,453.9 657.8,451.4 658.0,455.4 658.2,452.8 658.4,453.3 658.6,454.1 658.8,452.7 659.1,452.3 659.3,452.1 659.5,456.5 659.7,450.4 659.9,453.5 660.1,451.4 660.3,453.0 660.5,453.6 660.7,452.9 660.9,448.3 661.1,450.6 661.3,453.3 661.5,452.5 661.7,451.3 661.9,452.0 662.1,452.7 662.3,453.0 662.6,454.3 662.8,451.7 663.0,451.2 663.2,449.7 663.4,453.6 663.6,451.9 663.8,452.9 664.0,451.1 664.2,452.9 664.4,453.7 664.6,455.2 664.8,451.8 665.0,452.6 665.2,451.2 665.4,453.6 665.6,449.2 665.8,453.8 666.1,452.1" fill="none" stroke="#ec1c24" stroke-width="1.3" stroke-linejoin="round"/>
<path d="M1125.0,302.9 1125.2,301.9 1125.4,299.4 1125.6,301.2 1125.8,299.2 1126.0,298.6 1126.2,302.9 1126.4,298.2 1126.6,301.3 1126.8,296.2 1127.0,298.8 1127.3,301.2 1127.5,299.8 1127.7,299.8 1127.9,299.6 1128.1,297.5 1128.3,299.2 1128.5,297.0 1128.7,299.0 1128.9,300.5 1129.1,303.0 1129.3,303.1 1129.5,299.8 1129.7,298.8 1129.9,297.4 1130.1,301.3 1130.3,300.0 1130.5,301.7 1130.7,301.0 1130.9,304.4 1131.1,298.8 1131.3,301.5 1131.5,300.3 1131.8,299.3 1132.0,299.5 1132.2,302.6 1132.4,297.3 1132.6,298.7 1132.8,299.2 1133.0,301.4 1133.2,303.2 1133.4,303.2 1133.6,300.6 1133.8,299.8 1134.0,301.5 1134.2,296.7 1134.4,299.6 1134.6,298.3 1134.8,298.5 1135.0,302.1 1135.2,298.3 1135.4,299.3 1135.6,302.5 1135.8,298.8 1136.0,298.2 1136.3,298.3 1136.5,298.2 1136.7,302.8 1136.9,300.6 1137.1,301.2 1137.3,300.1 1137.5,300.0 1137.7,298.1 1137.9,298.7 1138.1,301.7 1138.3,298.5 1138.5,297.2 1138.7,299.6 1138.9,302.9 1139.1,301.3 1139.3,300.5 1139.5,303.2 1139.7,300.4 1139.9,302.5 1140.1,298.7 1140.3,298.9 1140.5,300.3 1140.8,302.5 1141.0,299.6 1141.2,301.4 1141.4,301.4 1141.6,298.1 1141.8,301.6 1142.0,302.7 1142.2,298.7 1142.4,296.9 1142.6,297.2 1142.8,298.7 1143.0,296.3 1143.2,300.8 1143.4,296.1 1143.6,296.2 1143.8,300.8 1144.0,299.4 1144.2,302.5 1144.4,302.0 1144.6,299.1 1144.8,302.3 1145.1,299.7 1145.3,299.3 1145.5,299.9 1145.7,298.4 1145.9,296.5 1146.1,299.8 1146.3,298.3 1146.5,297.4 1146.7,300.9 1146.9,301.4 1147.1,304.6 1147.3,299.3 1147.5,298.2 1147.7,299.3 1147.9,296.3 1148.1,297.3 1148.3,298.6 1148.5,300.2 1148.7,301.7 1148.9,299.9 1149.1,299.2 1149.3,300.2 1149.6,300.7 1149.8,300.8 1150.0,298.8 1150.2,303.2 1150.4,300.7 1150.6,300.0 1150.8,298.8 1151.0,298.8 1151.2,300.5 1151.4,301.2 1151.6,302.2 1151.8,298.0 1152.0,299.0 1152.2,299.7 1152.4,301.4 1152.6,302.2 1152.8,297.9 1153.0,300.1 1153.2,299.2 1153.4,296.9 1153.6,302.9 1153.8,301.5 1154.1,299.4 1154.3,298.9 1154.5,302.0 1154.7,300.2 1154.9,301.2 1155.1,301.2 1155.3,299.4 1155.5,299.7 1155.7,298.0 1155.9,299.0 1156.1,297.3 1156.3,301.6 1156.5,299.3 1156.7,302.7 1156.9,303.2 1157.1,302.6 1157.3,298.8 1157.5,299.8 1157.7,303.1 1157.9,297.8 1158.1,298.4 1158.3,300.5 1158.6,300.6 1158.8,300.2 1159.0,302.4 1159.2,295.9 1159.4,301.0 1159.6,300.5 1159.8,300.7 1160.0,301.4 1160.2,301.8 1160.4,299.6 1160.6,302.3 1160.8,302.0 1161.0,301.6 1161.2,298.7 1161.4,302.0 1161.6,301.9 1161.8,299.6 1162.0,302.2 1162.2,300.7 1162.4,298.6 1162.6,299.4 1162.9,300.1 1163.1,297.5 1163.3,300.9 1163.5,301.3 1163.7,303.3 1163.9,300.1 1164.1,299.0 1164.3,301.4 1164.5,296.8 1164.7,298.4 1164.9,298.5 1165.1,302.3 1165.3,299.7 1165.5,299.5 1165.7,303.8 1165.9,300.2 1166.1,300.6 1166.3,303.3 1166.5,299.3 1166.7,296.5 1166.9,298.8 1167.1,301.7 1167.4,300.6 1167.6,298.1 1167.8,301.6 1168.0,299.5 1168.2,300.1 1168.4,299.8 1168.6,297.2 1168.8,302.9 1169.0,298.1 1169.2,299.7 1169.4,300.3 1169.6,303.1 1169.8,299.6 1170.0,300.9 1170.2,305.4 1170.4,302.6 1170.6,302.3 1170.8,301.9 1171.0,301.2 1171.2,301.6 1171.4,297.4 1171.6,298.3 1171.9,300.3 1172.1,297.7 1172.3,296.4 1172.5,299.3 1172.7,302.5 1172.9,299.5 1173.1,297.6 1173.3,301.9 1173.5,300.1 1173.7,298.5 1173.9,298.1 1174.1,298.6 1174.3,299.5 1174.5,300.4 1174.7,301.2 1174.9,298.4 1175.1,298.5 1175.3,301.0 1175.5,301.3 1175.7,297.9 1175.9,298.4 1176.1,301.5 1176.4,303.1 1176.6,299.9 1176.8,298.8 1177.0,298.5 1177.2,298.7 1177.4,302.9 1177.6,300.1 1177.8,300.8 1178.0,301.5 1178.2,295.5 1178.4,300.2 1178.6,299.7 1178.8,300.7 1179.0,299.0 1179.2,298.1 1179.4,300.7 1179.6,300.2 1179.8,301.0 1180.0,302.0 1180.2,300.5 1180.4,299.6 1180.7,300.1 1180.9,300.6 1181.1,303.5 1181.3,299.6 1181.5,299.9 1181.7,297.5 1181.9,301.3 1182.1,302.6 1182.3,303.5 1182.5,301.3 1182.7,300.4 1182.9,299.8 1183.1,302.9 1183.3,301.2 1183.5,298.4 1183.7,300.1 1183.9,300.8 1184.1,300.9 1184.3,302.9 1184.5,302.7 1184.7,301.1 1184.9,298.0 1185.2,298.2 1185.4,300.4 1185.6,299.1 1185.8,299.5 1186.0,298.2 1186.2,301.4 1186.4,299.7 1186.6,298.5 1186.8,302.3 1187.0,300.3 1187.2,299.8 1187.4,299.4 1187.6,299.3 1187.8,299.2 1188.0,298.4 1188.2,297.8 1188.4,299.5 1188.6,296.4 1188.8,301.0 1189.0,300.4 1189.2,299.6 1189.4,301.5 1189.7,302.6 1189.9,302.4 1190.1,298.1 1190.3,301.3 1190.5,302.4 1190.7,296.9 1190.9,299.5 1191.1,299.8 1191.3,301.8 1191.5,299.6 1191.7,301.0 1191.9,299.7 1192.1,300.2 1192.3,300.6 1192.5,299.8 1192.7,301.7 1192.9,300.9 1193.1,301.5 1193.3,299.5 1193.5,299.0 1193.7,298.8 1194.0,303.5 1194.2,297.2 1194.4,300.5 1194.6,300.4 1194.8,300.2 1195.0,300.3 1195.2,298.1 1195.4,300.0 1195.6,299.6 1195.8,298.6 1196.0,298.0 1196.2,301.9 1196.4,302.2 1196.6,303.4 1196.8,303.4 1197.0,299.6 1197.2,300.0 1197.4,300.2 1197.6,299.5 1197.8,299.6 1198.0,298.1 1198.2,297.3 1198.5,301.5 1198.7,297.7 1198.9,298.3 1199.1,301.4 1199.3,299.8 1199.5,300.9 1199.7,303.0 1199.9,300.1 1200.1,302.9 1200.3,300.1 1200.5,301.9 1200.7,300.6 1200.9,298.8 1201.1,299.9 1201.3,301.4 1201.5,299.7 1201.7,298.9 1201.9,298.5 1202.1,301.5 1202.3,298.3 1202.5,300.4 1202.7,301.1 1203.0,298.1 1203.2,299.1 1203.4,299.0 1203.6,299.9 1203.8,303.1 1204.0,299.3 1204.2,299.2 1204.4,300.2 1204.6,297.3 1204.8,299.9 1205.0,297.3 1205.2,298.2 1205.4,301.2 1205.6,301.5 1205.8,300.6 1206.0,300.1 1206.2,298.9 1206.4,301.0 1206.6,301.8 1206.8,296.6 1207.0,300.0 1207.2,299.6 1207.5,297.2 1207.7,299.9 1207.9,303.9 1208.1,299.2 1208.3,301.0 1208.5,298.4 1208.7,303.0 1208.9,299.7 1209.1,298.7 1209.3,297.7 1209.5,298.4 1209.7,298.4 1209.9,300.0 1210.1,300.0 1210.3,301.7 1210.5,298.4 1210.7,297.5 1210.9,299.0 1211.1,301.4 1211.3,302.3 1211.5,300.9 1211.8,297.4 1212.0,299.7 1212.2,301.6 1212.4,300.6 1212.6,298.7 1212.8,301.1 1213.0,300.8 1213.2,300.9 1213.4,301.5 1213.6,296.8 1213.8,301.3 1214.0,299.5 1214.2,298.1 1214.4,300.2 1214.6,300.7 1214.8,300.3 1215.0,299.9 1215.2,300.4 1215.4,300.7 1215.6,300.6 1215.8,299.8 1216.0,297.2 1216.3,300.7 1216.5,298.7 1216.7,300.3 1216.9,301.5 1217.1,301.9 1217.3,299.5 1217.5,302.1 1217.7,299.3 1217.9,300.6 1218.1,297.3 1218.3,301.6 1218.5,298.2 1218.7,297.8 1218.9,298.7 1219.1,300.9 1219.3,299.4 1219.5,299.8 1219.7,300.2 1219.9,298.6 1220.1,300.1 1220.3,299.7 1220.5,298.3 1220.8,300.1 1221.0,300.6 1221.2,299.6 1221.4,300.7 1221.6,303.7 1221.8,300.7 1222.0,300.2 1222.2,301.9 1222.4,302.9 1222.6,299.2 1222.8,301.0 1223.0,298.9 1223.2,299.3 1223.4,297.5 1223.6,299.0 1223.8,298.5 1224.0,297.8 1224.2,300.5 1224.4,298.2 1224.6,298.0 1224.8,302.8 1225.0,301.7 1225.3,299.8 1225.5,297.2 1225.7,300.5 1225.9,302.0 1226.1,302.5 1226.3,299.5 1226.5,299.7 1226.7,301.0 1226.9,299.5 1227.1,300.6 1227.3,298.2 1227.5,302.2 1227.7,300.8 1227.9,298.2 1228.1,301.0 1228.3,301.4 1228.5,300.5 1228.7,297.2 1228.9,299.7 1229.1,297.8 1229.3,301.5 1229.6,300.4 1229.8,298.9 1230.0,299.7 1230.2,300.9 1230.4,303.6 1230.6,299.2 1230.8,298.8 1231.0,299.3 1231.2,302.7 1231.4,302.3 1231.6,301.0 1231.8,301.7 1232.0,298.4 1232.2,301.8 1232.4,300.7 1232.6,301.9 1232.8,302.9 1233.0,298.6 1233.2,299.8 1233.4,301.2 1233.6,300.1 1233.8,303.5 1234.1,297.6 1234.3,301.8 1234.5,303.2 1234.7,301.7 1234.9,299.8 1235.1,300.1 1235.3,299.0 1235.5,299.0 1235.7,300.1 1235.9,298.5 1236.1,303.0 1236.3,299.4 1236.5,299.4 1236.7,299.6 1236.9,300.4 1237.1,300.9 1237.3,301.1 1237.5,302.8 1237.7,300.9 1237.9,298.4 1238.1,297.9 1238.3,300.9 1238.6,301.0 1238.8,300.9 1239.0,300.4 1239.2,300.1 1239.4,299.4 1239.6,297.9 1239.8,303.3 1240.0,301.7 1240.2,300.8 1240.4,300.2 1240.6,299.5 1240.8,297.4 1241.0,301.6 1241.2,299.1 1241.4,300.2 1241.6,300.0 1241.8,299.6 1242.0,298.7 1242.2,299.9 1242.4,301.7 1242.6,299.3 1242.8,299.4 1243.1,302.5 1243.3,299.4 1243.5,300.3 1243.7,300.3 1243.9,300.0 1244.1,297.4 1244.3,302.8 1244.5,299.8 1244.7,303.0 1244.9,300.1 1245.1,298.7 1245.3,302.9 1245.5,298.3 1245.7,299.3 1245.9,300.3 1246.1,300.4 1246.3,300.0 1246.5,300.0 1246.7,300.1 1246.9,298.4 1247.1,298.8 1247.4,301.5 1247.6,298.4 1247.8,297.3 1248.0,297.5 1248.2,299.5 1248.4,302.5 1248.6,300.8 1248.8,300.1 1249.0,300.1 1249.2,302.2 1249.4,299.0 1249.6,298.6 1249.8,302.0 1250.0,301.1 1250.2,301.5 1250.4,299.8 1250.6,298.2 1250.8,303.1 1251.0,297.5 1251.2,298.4 1251.4,301.9 1251.6,297.4 1251.9,298.0 1252.1,299.0 1252.3,299.5 1252.5,301.3 1252.7,299.1 1252.9,301.1 1253.1,299.7 1253.3,298.3 1253.5,300.5 1253.7,300.9 1253.9,299.0 1254.1,298.5 1254.3,298.4 1254.5,300.3 1254.7,297.8 1254.9,297.4 1255.1,300.3 1255.3,298.9 1255.5,302.6 1255.7,300.1 1255.9,301.4 1256.1,299.7 1256.4,300.8 1256.6,303.5 1256.8,298.9 1257.0,301.4 1257.2,298.1 1257.4,297.8 1257.6,299.1 1257.8,300.0 1258.0,299.6 1258.2,302.1 1258.4,299.7 1258.6,298.5 1258.8,298.8 1259.0,301.4 1259.2,297.6 1259.4,299.2 1259.6,301.3 1259.8,299.2 1260.0,301.4 1260.2,300.7 1260.4,299.9 1260.6,297.1 1260.9,296.1 1261.1,302.2 1261.3,300.0 1261.5,300.2 1261.7,299.0 1261.9,299.3 1262.1,300.9 1262.3,299.5 1262.5,300.8 1262.7,301.2 1262.9,299.1 1263.1,299.6 1263.3,300.8 1263.5,299.1 1263.7,300.6 1263.9,301.1 1264.1,300.1 1264.3,299.0 1264.5,300.9 1264.7,297.8 1264.9,300.3 1265.2,299.6 1265.4,298.8 1265.6,300.0 1265.8,300.9 1266.0,300.3 1266.2,298.5 1266.4,298.1 1266.6,298.9 1266.8,300.6 1267.0,301.4 1267.2,300.8 1267.4,300.7 1267.6,299.6 1267.8,300.0 1268.0,301.1 1268.2,299.0 1268.4,301.1 1268.6,299.8 1268.8,301.0 1269.0,298.5 1269.2,299.3 1269.4,299.6 1269.7,298.3 1269.9,298.5 1270.1,301.9 1270.3,299.7 1270.5,301.5 1270.7,300.9 1270.9,300.5 1271.1,302.0 1271.3,301.8 1271.5,299.8 1271.7,299.9 1271.9,299.1 1272.1,300.1 1272.3,300.6 1272.5,300.5 1272.7,300.4 1272.9,301.1 1273.1,299.8 1273.3,301.4 1273.5,301.5 1273.7,302.2 1273.9,299.9 1274.2,301.1 1274.4,300.4 1274.6,299.9 1274.8,301.4 1275.0,299.8 1275.2,300.0 1275.4,300.1 1275.6,302.8 1275.8,298.6 1276.0,299.2 1276.2,299.2 1276.4,297.6 1276.6,301.5 1276.8,297.3 1277.0,300.3 1277.2,298.8 1277.4,298.4 1277.6,301.5 1277.8,299.6 1278.0,300.8 1278.2,299.4 1278.4,302.1 1278.7,297.6 1278.9,299.4 1279.1,300.4 1279.3,301.3 1279.5,298.1 1279.7,300.8 1279.9,298.8 1280.1,301.7 1280.3,299.2 1280.5,302.7 1280.7,299.5 1280.9,301.5 1281.1,301.5 1281.3,298.7 1281.5,299.0 1281.7,300.9 1281.9,301.0 1282.1,298.5 1282.3,302.2 1282.5,300.4 1282.7,301.1 1283.0,300.1 1283.2,300.2 1283.4,300.2 1283.6,301.8 1283.8,299.8 1284.0,299.4 1284.2,300.7 1284.4,297.6 1284.6,300.7 1284.8,300.0 1285.0,297.4 1285.2,300.5 1285.4,300.2 1285.6,302.1 1285.8,300.0 1286.0,300.7 1286.2,299.6 1286.4,301.7 1286.6,298.3 1286.8,299.3 1287.0,298.8 1287.2,300.5 1287.5,302.4 1287.7,299.6 1287.9,300.0 1288.1,300.7 1288.3,297.8 1288.5,299.7 1288.7,299.7 1288.9,299.4 1289.1,299.6 1289.3,299.4 1289.5,298.8 1289.7,299.8 1289.9,300.6 1290.1,301.1 1290.3,299.7 1290.5,299.2 1290.7,298.9 1290.9,301.1 1291.1,301.9 1291.3,302.1 1291.5,297.9 1291.7,299.2 1292.0,300.0 1292.2,300.3 1292.4,296.9 1292.6,299.0 1292.8,299.0 1293.0,300.7 1293.2,298.3 1293.4,300.5 1293.6,301.0 1293.8,298.0 1294.0,299.5 1294.2,299.0 1294.4,302.0 1294.6,300.5 1294.8,301.1 1295.0,299.5 1295.2,300.1 1295.4,299.9 1295.6,301.0 1295.8,298.1 1296.0,301.9 1296.3,299.3 1296.5,299.9 1296.7,298.5 1296.9,301.4 1297.1,298.7 1297.3,301.2 1297.5,299.6 1297.7,300.3 1297.9,296.6 1298.1,301.8 1298.3,300.8 1298.5,302.5 1298.7,301.5 1298.9,300.4 1299.1,300.6 1299.3,301.2 1299.5,301.0 1299.7,300.4 1299.9,300.0 1300.1,297.9 1300.3,299.6 1300.5,300.0 1300.8,300.6 1301.0,299.2 1301.2,298.2 1301.4,300.6 1301.6,298.7 1301.8,299.3 1302.0,303.0 1302.2,297.3 1302.4,298.9 1302.6,302.1 1302.8,302.8 1303.0,299.8 1303.2,300.7 1303.4,299.1 1303.6,300.5 1303.8,298.4 1304.0,300.8 1304.2,299.3 1304.4,298.7 1304.6,300.4 1304.8,298.7 1305.0,299.8 1305.3,300.0 1305.5,300.3 1305.7,303.1 1305.9,301.3 1306.1,297.5 1306.3,300.4 1306.5,301.0 1306.7,300.3 1306.9,300.2 1307.1,297.0 1307.3,301.4 1307.5,300.9 1307.7,299.0 1307.9,302.3 1308.1,302.3 1308.3,301.6 1308.5,300.7 1308.7,298.4 1308.9,297.9 1309.1,299.1 1309.3,297.2 1309.5,302.5 1309.8,298.4 1310.0,300.7 1310.2,299.2 1310.4,300.1 1310.6,301.9 1310.8,298.4 1311.0,297.9 1311.2,299.5 1311.4,300.9 1311.6,297.0 1311.8,303.0 1312.0,299.6 1312.2,300.9 1312.4,300.8 1312.6,298.4 1312.8,300.3 1313.0,298.4 1313.2,299.4 1313.4,297.7 1313.6,298.4 1313.8,298.5 1314.1,299.8 1314.3,299.8 1314.5,301.0 1314.7,299.0 1314.9,298.7 1315.1,300.7 1315.3,299.1 1315.5,300.9 1315.7,299.7 1315.9,301.3 1316.1,299.5 1316.3,298.3 1316.5,299.2 1316.7,302.0 1316.9,298.8 1317.1,300.0 1317.3,297.8 1317.5,299.0 1317.7,298.9 1317.9,300.1 1318.1,299.6 1318.3,300.6 1318.6,299.5 1318.8,298.6 1319.0,301.6 1319.2,299.9 1319.4,298.6 1319.6,300.9 1319.8,299.8 1320.0,298.9 1320.2,299.2 1320.4,298.8 1320.6,298.4 1320.8,298.0 1321.0,300.0 1321.2,298.9 1321.4,299.2 1321.6,301.1 1321.8,300.2 1322.0,298.6 1322.2,299.2 1322.4,298.6 1322.6,299.5 1322.8,299.5 1323.1,298.2 1323.3,302.0 1323.5,301.7 1323.7,299.6 1323.9,299.1 1324.1,298.6 1324.3,298.5 1324.5,299.1 1324.7,300.8 1324.9,298.8 1325.1,299.2 1325.3,300.8 1325.5,301.6 1325.7,300.2 1325.9,298.6 1326.1,299.3 1326.3,297.7 1326.5,299.8 1326.7,300.1 1326.9,300.2 1327.1,299.2 1327.3,299.0 1327.6,298.1 1327.8,299.3 1328.0,300.8 1328.2,300.4 1328.4,298.9 1328.6,299.5 1328.8,299.1 1329.0,300.0 1329.2,300.0 1329.4,300.0 1329.6,300.4 1329.8,299.3 1330.0,296.9 1330.2,299.1 1330.4,298.8 1330.6,301.7 1330.8,298.5 1331.0,299.3 1331.2,297.3 1331.4,298.5 1331.6,297.5 1331.9,300.2 1332.1,298.1 1332.3,298.0 1332.5,299.7 1332.7,297.4 1332.9,301.2 1333.1,298.7 1333.3,299.7 1333.5,298.0 1333.7,301.4 1333.9,297.9 1334.1,296.7 1334.3,300.1 1334.5,297.4 1334.7,299.8 1334.9,297.6 1335.1,297.3 1335.3,300.3 1335.5,296.9 1335.7,298.8 1335.9,298.8 1336.1,297.6 1336.4,297.6 1336.6,298.3 1336.8,297.9 1337.0,298.1 1337.2,299.8 1337.4,297.9 1337.6,298.4 1337.8,298.6 1338.0,297.8 1338.2,299.1 1338.4,300.7 1338.6,297.2 1338.8,297.8 1339.0,298.6 1339.2,299.1 1339.4,295.6 1339.6,298.0 1339.8,299.3 1340.0,298.1 1340.2,297.5 1340.4,299.8 1340.6,297.5 1340.9,300.5 1341.1,298.4 1341.3,296.6 1341.5,296.8 1341.7,297.5 1341.9,296.7 1342.1,299.0 1342.3,297.5 1342.5,297.0 1342.7,300.2 1342.9,297.0 1343.1,296.5 1343.3,296.2 1343.5,296.8 1343.7,296.1 1343.9,296.2 1344.1,298.6 1344.3,298.3 1344.5,297.6 1344.7,298.6 1344.9,296.3 1345.1,294.9 1345.4,295.2 1345.6,296.4 1345.8,295.6 1346.0,297.0 1346.2,296.3 1346.4,295.4 1346.6,297.8 1346.8,297.2 1347.0,296.5 1347.2,293.0 1347.4,295.2 1347.6,295.6 1347.8,294.3 1348.0,296.7 1348.2,299.2 1348.4,297.0 1348.6,297.3 1348.8,293.0 1349.0,295.8 1349.2,295.3 1349.4,295.4 1349.7,295.4 1349.9,295.4 1350.1,294.5 1350.3,293.2 1350.5,294.8 1350.7,296.6 1350.9,294.2 1351.1,293.9 1351.3,294.3 1351.5,293.4 1351.7,294.5 1351.9,290.4 1352.1,293.0 1352.3,293.6 1352.5,293.6 1352.7,292.1 1352.9,291.3 1353.1,292.4 1353.3,291.9 1353.5,289.2 1353.7,291.4 1353.9,289.4 1354.2,288.5 1354.4,291.8 1354.6,289.4 1354.8,288.1 1355.0,288.3 1355.2,289.4 1355.4,286.9 1355.6,283.2 1355.8,285.1 1356.0,283.6 1356.2,284.2 1356.4,283.7 1356.6,281.5 1356.8,282.6 1357.0,280.8 1357.2,277.7 1357.4,276.6 1357.6,273.5 1357.8,272.6 1358.0,268.6 1358.2,268.2 1358.4,265.0 1358.7,263.4 1358.9,260.3 1359.1,256.6 1359.3,249.1 1359.5,248.0 1359.7,247.0 1359.9,239.7 1360.1,235.3 1360.3,231.1 1360.5,226.0 1360.7,222.2 1360.9,214.4 1361.1,210.6 1361.3,204.5 1361.5,201.3 1361.7,188.9 1361.9,185.7 1362.1,179.0 1362.3,173.2 1362.5,168.1 1362.7,162.4 1362.9,155.6 1363.2,151.1 1363.4,146.6 1363.6,144.0 1363.8,140.2 1364.0,134.2 1364.2,138.6 1364.4,133.6 1364.6,137.3 1364.8,136.9 1365.0,134.9 1365.2,136.4 1365.4,141.4 1365.6,140.2 1365.8,149.1 1366.0,149.1 1366.2,155.7 1366.4,157.1 1366.6,162.9 1366.8,163.6 1367.0,168.2 1367.2,171.0 1367.5,174.5 1367.7,173.6 1367.9,172.3 1368.1,170.0 1368.3,167.2 1368.5,159.8 1368.7,149.3 1368.9,132.7 1369.1,114.6 1369.3,93.3 1369.5,79.5 1369.7,72.2 1369.9,74.6 1370.1,80.9 1370.3,94.6 1370.5,105.7 1370.7,122.4 1370.9,135.2 1371.1,153.2 1371.3,176.1 1371.5,193.4 1371.7,207.7 1372.0,221.2 1372.2,232.6 1372.4,240.8 1372.6,247.0 1372.8,255.5 1373.0,261.8 1373.2,264.8 1373.4,269.8 1373.6,273.0 1373.8,272.8 1374.0,276.3 1374.2,275.5 1374.4,280.0 1374.6,279.5 1374.8,280.4 1375.0,284.3 1375.2,282.2 1375.4,284.1 1375.6,285.3 1375.8,287.4 1376.0,287.7 1376.2,284.3 1376.5,288.2 1376.7,292.7 1376.9,286.8 1377.1,289.6 1377.3,290.1 1377.5,290.1 1377.7,290.3 1377.9,291.7 1378.1,290.6 1378.3,291.6 1378.5,291.1 1378.7,292.0 1378.9,293.0 1379.1,293.2 1379.3,294.5 1379.5,294.6 1379.7,293.0 1379.9,293.7 1380.1,293.6 1380.3,294.0 1380.5,295.1 1380.7,292.8 1381.0,295.1 1381.2,295.8 1381.4,295.1 1381.6,293.8 1381.8,294.2 1382.0,296.4 1382.2,296.6 1382.4,296.6 1382.6,297.0 1382.8,296.0 1383.0,294.5 1383.2,296.6 1383.4,297.6 1383.6,298.7 1383.8,298.7 1384.0,297.1 1384.2,296.1 1384.4,298.9 1384.6,296.4 1384.8,296.1 1385.0,294.2 1385.3,298.7 1385.5,297.1 1385.7,296.0 1385.9,296.9 1386.1,296.2 1386.3,296.8 1386.5,296.3 1386.7,297.2 1386.9,297.6 1387.1,299.6 1387.3,295.4 1387.5,299.1 1387.7,297.4 1387.9,297.6 1388.1,298.5 1388.3,300.0 1388.5,297.5 1388.7,299.8 1388.9,296.7 1389.1,294.8 1389.3,296.5 1389.5,300.9 1389.8,297.4 1390.0,297.8 1390.2,298.6 1390.4,296.9 1390.6,299.0 1390.8,297.5 1391.0,298.8 1391.2,299.3 1391.4,297.6 1391.6,297.0 1391.8,299.2 1392.0,296.4 1392.2,298.5 1392.4,299.3 1392.6,299.3 1392.8,299.3 1393.0,297.8 1393.2,297.8 1393.4,298.3 1393.6,296.9 1393.8,299.6 1394.0,297.6 1394.3,298.1 1394.5,301.2 1394.7,298.2 1394.9,299.1 1395.1,297.0 1395.3,299.4 1395.5,297.1 1395.7,298.2 1395.9,300.8 1396.1,297.5 1396.3,298.1 1396.5,298.1 1396.7,298.9 1396.9,296.4 1397.1,299.3 1397.3,297.5 1397.5,298.2 1397.7,299.3 1397.9,299.8 1398.1,298.1 1398.3,298.9 1398.6,300.4 1398.8,298.3 1399.0,298.3 1399.2,298.7 1399.4,300.6 1399.6,298.1 1399.8,299.3 1400.0,297.7 1400.2,299.1 1400.4,299.8 1400.6,299.0 1400.8,298.8 1401.0,296.7 1401.2,300.3 1401.4,300.7 1401.6,299.0 1401.8,299.1 1402.0,301.2 1402.2,301.1 1402.4,300.0 1402.6,299.7 1402.8,299.8 1403.1,298.3 1403.3,299.6 1403.5,300.0 1403.7,299.6 1403.9,299.0 1404.1,298.7 1404.3,302.5 1404.5,298.9 1404.7,299.1 1404.9,297.6 1405.1,299.6 1405.3,299.2 1405.5,301.3 1405.7,298.3 1405.9,298.0 1406.1,300.2 1406.3,299.2 1406.5,299.8 1406.7,298.0 1406.9,299.5 1407.1,299.3 1407.3,299.1 1407.6,299.9 1407.8,299.1 1408.0,297.5 1408.2,299.5 1408.4,300.1 1408.6,298.1 1408.8,297.0 1409.0,298.3 1409.2,299.4 1409.4,299.2 1409.6,298.9 1409.8,298.3 1410.0,296.0 1410.2,296.5 1410.4,300.7 1410.6,298.5 1410.8,297.8 1411.0,298.5 1411.2,299.5 1411.4,300.1 1411.6,298.5 1411.8,298.6 1412.1,298.9 1412.3,300.7 1412.5,301.6 1412.7,297.4 1412.9,300.6 1413.1,299.7 1413.3,301.0 1413.5,298.2 1413.7,300.0 1413.9,299.5 1414.1,296.5 1414.3,298.2 1414.5,299.0 1414.7,301.6 1414.9,298.3 1415.1,298.3 1415.3,298.0 1415.5,299.2 1415.7,301.0 1415.9,300.1 1416.1,298.3 1416.4,298.5 1416.6,298.8 1416.8,296.9 1417.0,298.0 1417.2,299.1 1417.4,299.1 1417.6,301.6 1417.8,300.2 1418.0,298.4 1418.2,301.4 1418.4,299.0 1418.6,298.4 1418.8,299.7 1419.0,298.6 1419.2,300.6 1419.4,297.2 1419.6,300.0 1419.8,302.3 1420.0,299.1 1420.2,300.1 1420.4,297.6 1420.6,298.7 1420.9,299.9 1421.1,297.6 1421.3,299.9 1421.5,300.8 1421.7,298.1 1421.9,297.9 1422.1,299.5 1422.3,298.5 1422.5,297.1 1422.7,300.2 1422.9,302.9 1423.1,298.8 1423.3,299.8 1423.5,298.4 1423.7,299.1 1423.9,300.1 1424.1,300.8 1424.3,300.8 1424.5,300.0 1424.7,300.4 1424.9,298.0 1425.1,298.6 1425.4,300.0 1425.6,297.9 1425.8,300.0 1426.0,300.0 1426.2,298.1 1426.4,298.7 1426.6,299.9 1426.8,298.1 1427.0,297.2 1427.2,300.6 1427.4,299.3 1427.6,301.6 1427.8,299.0 1428.0,295.9 1428.2,298.5 1428.4,299.1 1428.6,298.3 1428.8,299.7 1429.0,298.3 1429.2,299.2 1429.4,299.3 1429.6,297.2 1429.9,298.4 1430.1,297.8 1430.3,298.5 1430.5,297.4 1430.7,296.9 1430.9,297.3 1431.1,295.3 1431.3,296.7 1431.5,296.1 1431.7,296.4 1431.9,294.8 1432.1,296.3 1432.3,296.5 1432.5,294.5 1432.7,294.3 1432.9,293.9 1433.1,291.7 1433.3,292.7 1433.5,291.0 1433.7,292.5 1433.9,291.4 1434.2,289.7 1434.4,286.7 1434.6,288.2 1434.8,287.4 1435.0,288.2 1435.2,285.6 1435.4,285.5 1435.6,283.1 1435.8,283.7 1436.0,284.3 1436.2,280.0 1436.4,280.6 1436.6,279.4 1436.8,281.6 1437.0,277.8 1437.2,281.4 1437.4,280.4 1437.6,279.6 1437.8,279.7 1438.0,280.3 1438.2,281.1 1438.4,279.2 1438.7,283.9 1438.9,283.4 1439.1,283.3 1439.3,282.1 1439.5,284.5 1439.7,287.1 1439.9,283.4 1440.1,286.1 1440.3,286.9 1440.5,285.6 1440.7,290.3 1440.9,289.4 1441.1,292.2 1441.3,292.5 1441.5,290.5 1441.7,293.8 1441.9,291.8 1442.1,294.2 1442.3,293.4 1442.5,293.9 1442.7,293.0 1442.9,294.8 1443.2,295.8 1443.4,295.9 1443.6,297.5 1443.8,298.5 1444.0,299.8 1444.2,296.5 1444.4,297.4 1444.6,298.6 1444.8,296.8 1445.0,298.1 1445.2,298.6 1445.4,297.3 1445.6,297.8 1445.8,297.5 1446.0,297.5 1446.2,298.2 1446.4,298.0 1446.6,298.8 1446.8,300.3 1447.0,299.2 1447.2,299.1 1447.4,300.4 1447.7,299.3 1447.9,298.9 1448.1,300.5 1448.3,299.4 1448.5,298.9 1448.7,299.4 1448.9,297.8 1449.1,300.5 1449.3,296.9 1449.5,299.9 1449.7,297.4 1449.9,299.4 1450.1,297.2 1450.3,299.5 1450.5,299.9 1450.7,300.9 1450.9,300.0 1451.1,298.5 1451.3,299.3 1451.5,299.2 1451.7,299.6 1452.0,299.6 1452.2,298.7 1452.4,299.3 1452.6,300.6 1452.8,298.4 1453.0,299.8 1453.2,299.7 1453.4,299.4 1453.6,300.1 1453.8,300.3 1454.0,300.9 1454.2,298.5 1454.4,301.4 1454.6,299.5 1454.8,301.7 1455.0,301.3 1455.2,298.6 1455.4,299.9 1455.6,298.9 1455.8,299.8 1456.0,299.8 1456.2,298.8 1456.5,299.5 1456.7,298.5 1456.9,298.7 1457.1,300.8 1457.3,301.1 1457.5,298.3 1457.7,298.5 1457.9,300.5 1458.1,298.6 1458.3,301.3 1458.5,301.5 1458.7,298.4 1458.9,300.3 1459.1,301.4 1459.3,301.1 1459.5,298.6 1459.7,297.8 1459.9,300.2 1460.1,297.7 1460.3,301.1 1460.5,303.1 1460.7,300.2 1461.0,298.3 1461.2,299.7 1461.4,300.5 1461.6,298.9 1461.8,300.3 1462.0,299.6 1462.2,301.2 1462.4,299.0 1462.6,301.0 1462.8,300.5 1463.0,297.8 1463.2,299.8 1463.4,298.0 1463.6,301.5 1463.8,300.1 1464.0,299.5 1464.2,298.8 1464.4,298.4 1464.6,299.1 1464.8,298.6 1465.0,299.8 1465.2,298.5 1465.5,298.7 1465.7,299.4 1465.9,298.6 1466.1,299.8 1466.3,300.0 1466.5,300.8 1466.7,300.4 1466.9,299.5 1467.1,302.1 1467.3,299.4 1467.5,300.5 1467.7,298.9 1467.9,301.1 1468.1,299.8 1468.3,301.4 1468.5,300.5 1468.7,299.5 1468.9,297.9 1469.1,299.2 1469.3,299.8 1469.5,301.4 1469.8,299.3 1470.0,301.0 1470.2,298.8 1470.4,299.1 1470.6,298.7 1470.8,302.9 1471.0,301.4 1471.2,301.0 1471.4,300.3 1471.6,300.4 1471.8,300.2 1472.0,299.4 1472.2,298.9 1472.4,300.4 1472.6,301.3 1472.8,300.1 1473.0,299.9 1473.2,300.0 1473.4,301.4 1473.6,299.4 1473.8,299.5 1474.0,299.5 1474.3,301.2 1474.5,299.1 1474.7,299.9 1474.9,299.6 1475.1,299.6 1475.3,301.3 1475.5,300.2 1475.7,299.1 1475.9,299.9 1476.1,299.6 1476.3,301.2 1476.5,301.7 1476.7,300.2 1476.9,303.0 1477.1,298.9 1477.3,301.0 1477.5,298.0 1477.7,301.0 1477.9,300.3 1478.1,301.6 1478.3,301.8 1478.5,299.9 1478.8,299.5 1479.0,301.8 1479.2,299.5 1479.4,301.0 1479.6,301.2 1479.8,299.9 1480.0,298.8 1480.2,300.5 1480.4,300.9 1480.6,300.0 1480.8,301.0 1481.0,299.5 1481.2,300.9 1481.4,300.4 1481.6,302.5 1481.8,301.0 1482.0,302.0 1482.2,298.6 1482.4,301.1 1482.6,300.1 1482.8,300.0 1483.0,300.6 1483.3,300.8 1483.5,299.2 1483.7,298.8 1483.9,299.2 1484.1,299.8 1484.3,300.8 1484.5,300.2 1484.7,299.6 1484.9,298.1 1485.1,299.8 1485.3,301.0 1485.5,301.1 1485.7,300.4 1485.9,300.3 1486.1,298.3 1486.3,299.7 1486.5,299.3 1486.7,300.9 1486.9,301.6 1487.1,297.2 1487.3,297.6 1487.6,299.3 1487.8,299.0 1488.0,300.7 1488.2,298.4 1488.4,296.4 1488.6,300.0 1488.8,299.6 1489.0,299.1 1489.2,300.5 1489.4,300.2 1489.6,299.8 1489.8,301.0 1490.0,299.4 1490.2,301.5 1490.4,300.1 1490.6,300.2 1490.8,299.6 1491.0,300.7 1491.2,301.8 1491.4,300.4 1491.6,300.3 1491.8,298.7 1492.1,300.2 1492.3,299.1 1492.5,300.2 1492.7,300.0 1492.9,300.5 1493.1,301.9 1493.3,301.8 1493.5,302.3 1493.7,300.5 1493.9,298.3 1494.1,301.7 1494.3,299.0 1494.5,297.9 1494.7,300.0 1494.9,299.2 1495.1,300.5 1495.3,301.0 1495.5,301.0 1495.7,300.8 1495.9,299.4 1496.1,299.8 1496.3,300.8 1496.6,298.9 1496.8,299.8 1497.0,301.2 1497.2,299.8 1497.4,298.3 1497.6,298.5 1497.8,301.2 1498.0,299.4 1498.2,299.9 1498.4,298.6 1498.6,297.8 1498.8,303.0 1499.0,299.1 1499.2,301.6 1499.4,299.9 1499.6,298.4 1499.8,298.5 1500.0,300.9 1500.2,298.1 1500.4,300.5 1500.6,300.1 1500.9,301.5 1501.1,300.7 1501.3,301.4 1501.5,299.4 1501.7,300.9 1501.9,298.9 1502.1,300.9 1502.3,298.9 1502.5,299.2 1502.7,300.2 1502.9,299.4 1503.1,298.3 1503.3,298.2 1503.5,300.3 1503.7,300.1 1503.9,298.8 1504.1,296.7 1504.3,299.1 1504.5,301.3 1504.7,300.9 1504.9,300.3 1505.1,299.8 1505.4,301.7 1505.6,302.4 1505.8,299.8 1506.0,300.6 1506.2,300.1 1506.4,301.9 1506.6,300.8 1506.8,298.9 1507.0,300.4 1507.2,301.4 1507.4,299.3 1507.6,300.5 1507.8,299.0 1508.0,299.6 1508.2,300.4 1508.4,300.5 1508.6,299.0 1508.8,300.6 1509.0,299.5 1509.2,298.6 1509.4,300.8 1509.6,300.7 1509.9,300.2 1510.1,301.7 1510.3,299.6 1510.5,301.1 1510.7,300.7 1510.9,301.8 1511.1,298.8 1511.3,298.5 1511.5,299.9 1511.7,299.3 1511.9,299.6 1512.1,298.8 1512.3,297.7 1512.5,297.3 1512.7,299.3 1512.9,298.9 1513.1,300.8 1513.3,299.1 1513.5,298.7 1513.7,301.2 1513.9,300.3 1514.1,301.5 1514.4,300.2 1514.6,300.5 1514.8,301.6 1515.0,302.1 1515.2,300.4 1515.4,301.9 1515.6,299.3 1515.8,300.8 1516.0,301.1 1516.2,299.9 1516.4,299.9 1516.6,301.2 1516.8,299.3 1517.0,299.7 1517.2,299.6 1517.4,298.0 1517.6,300.4 1517.8,300.0 1518.0,301.9 1518.2,299.7 1518.4,301.2 1518.7,301.0 1518.9,300.2 1519.1,299.9 1519.3,300.4 1519.5,300.2 1519.7,300.6 1519.9,302.1 1520.1,298.3 1520.3,300.5 1520.5,299.9 1520.7,301.8 1520.9,301.0 1521.1,299.7 1521.3,300.5 1521.5,301.1 1521.7,300.5 1521.9,299.9 1522.1,300.6 1522.3,301.5 1522.5,298.8 1522.7,300.2 1522.9,298.0 1523.2,299.7 1523.4,301.9 1523.6,301.3 1523.8,301.2 1524.0,299.4 1524.2,301.9 1524.4,298.4 1524.6,300.8 1524.8,299.4 1525.0,299.1 1525.2,301.2 1525.4,300.8 1525.6,299.9 1525.8,298.8 1526.0,299.2 1526.2,300.4 1526.4,299.0 1526.6,300.1 1526.8,299.3 1527.0,301.2 1527.2,298.1 1527.4,300.2 1527.7,300.6 1527.9,300.2 1528.1,299.7 1528.3,299.3 1528.5,300.7 1528.7,302.1 1528.9,297.7 1529.1,300.9 1529.3,298.8 1529.5,300.9 1529.7,301.3 1529.9,299.0 1530.1,301.6 1530.3,303.2 1530.5,299.1 1530.7,299.4 1530.9,298.9 1531.1,299.8 1531.3,301.0 1531.5,301.1 1531.7,300.2 1531.9,299.9 1532.2,300.5 1532.4,299.8 1532.6,298.8 1532.8,299.8 1533.0,299.0 1533.2,300.6 1533.4,300.9 1533.6,301.1 1533.8,299.6 1534.0,300.8 1534.2,299.7 1534.4,301.3 1534.6,299.7 1534.8,298.8 1535.0,299.9 1535.2,300.2 1535.4,300.9 1535.6,300.5 1535.8,300.9 1536.0,298.9 1536.2,299.0 1536.5,299.3 1536.7,300.1 1536.9,299.4 1537.1,299.9 1537.3,301.9 1537.5,301.1 1537.7,301.5 1537.9,300.3 1538.1,300.8 1538.3,299.7 1538.5,301.7 1538.7,299.8 1538.9,299.4 1539.1,300.4 1539.3,301.1 1539.5,301.1 1539.7,299.9 1539.9,300.0 1540.1,302.7 1540.3,298.9 1540.5,300.1 1540.7,299.7 1541.0,300.9 1541.2,299.1 1541.4,298.3 1541.6,301.0 1541.8,300.0 1542.0,300.2 1542.2,300.4 1542.4,300.8 1542.6,298.5 1542.8,302.0 1543.0,299.9 1543.2,300.3 1543.4,301.7 1543.6,299.8 1543.8,301.6 1544.0,299.1 1544.2,299.2 1544.4,299.3 1544.6,298.3 1544.8,301.1 1545.0,300.4 1545.2,299.7 1545.5,298.0 1545.7,299.4 1545.9,299.8 1546.1,299.4 1546.3,299.3 1546.5,301.0 1546.7,298.8 1546.9,299.0 1547.1,300.4 1547.3,301.0 1547.5,302.0 1547.7,299.4 1547.9,300.4 1548.1,300.9 1548.3,301.3 1548.5,301.2 1548.7,299.2 1548.9,301.6 1549.1,299.2 1549.3,299.8 1549.5,299.8 1549.7,300.3 1550.0,301.5 1550.2,297.3 1550.4,298.8 1550.6,300.2 1550.8,299.9 1551.0,299.9 1551.2,302.9 1551.4,299.3 1551.6,300.6 1551.8,300.3 1552.0,302.3 1552.2,301.0 1552.4,301.3 1552.6,297.9 1552.8,300.5 1553.0,300.3 1553.2,299.2 1553.4,300.1 1553.6,299.4 1553.8,299.2 1554.0,300.0 1554.3,300.2 1554.5,301.6 1554.7,301.0 1554.9,302.1 1555.1,298.8 1555.3,300.0 1555.5,298.5 1555.7,300.0 1555.9,298.9 1556.1,301.5 1556.3,301.8 1556.5,300.0 1556.7,300.2 1556.9,299.2 1557.1,301.5 1557.3,301.8 1557.5,300.7 1557.7,299.8 1557.9,300.5 1558.1,300.9 1558.3,301.4 1558.5,300.6 1558.8,299.4 1559.0,300.2 1559.2,301.8 1559.4,300.3 1559.6,298.4 1559.8,300.1 1560.0,298.5 1560.2,300.8 1560.4,300.4 1560.6,297.8 1560.8,301.0 1561.0,300.4 1561.2,300.3 1561.4,299.5 1561.6,300.2 1561.8,298.0 1562.0,298.6 1562.2,298.9 1562.4,299.4 1562.6,299.1 1562.8,301.7 1563.0,299.5 1563.3,301.3 1563.5,300.2 1563.7,298.4 1563.9,299.1 1564.1,301.0 1564.3,299.6 1564.5,299.8 1564.7,299.0 1564.9,300.1 1565.1,301.2 1565.3,299.0 1565.5,302.1 1565.7,299.9 1565.9,300.5 1566.1,300.5 1566.3,298.3 1566.5,301.0 1566.7,300.7 1566.9,299.5 1567.1,302.5 1567.3,301.6 1567.5,299.1 1567.8,300.1 1568.0,300.1 1568.2,298.1 1568.4,301.9 1568.6,299.9 1568.8,300.4 1569.0,299.9 1569.2,301.2 1569.4,302.3 1569.6,300.2 1569.8,301.7 1570.0,300.7 1570.2,301.8 1570.4,299.6 1570.6,300.6 1570.8,299.0 1571.0,298.6 1571.2,301.0 1571.4,301.3 1571.6,300.2 1571.8,299.3 1572.1,299.1 1572.3,300.4 1572.5,299.8 1572.7,299.1 1572.9,299.8 1573.1,301.2 1573.3,299.7 1573.5,299.1 1573.7,301.4 1573.9,300.0 1574.1,299.7 1574.3,300.6 1574.5,300.4 1574.7,300.1 1574.9,300.0 1575.1,300.1 1575.3,300.9 1575.5,300.6 1575.7,299.0 1575.9,301.5 1576.1,300.3 1576.3,302.4 1576.6,299.6 1576.8,301.9 1577.0,299.5 1577.2,298.9 1577.4,300.2 1577.6,300.9 1577.8,299.8 1578.0,298.7 1578.2,298.9 1578.4,300.9 1578.6,299.2 1578.8,300.5 1579.0,299.4 1579.2,299.9 1579.4,299.8 1579.6,300.1 1579.8,300.5 1580.0,299.0 1580.2,301.6 1580.4,301.1 1580.6,300.2 1580.8,300.3 1581.1,299.6 1581.3,299.2 1581.5,300.7 1581.7,301.4 1581.9,297.8 1582.1,302.8 1582.3,300.1 1582.5,300.2 1582.7,300.7 1582.9,298.2 1583.1,300.0 1583.3,303.3 1583.5,299.8 1583.7,299.4 1583.9,298.4 1584.1,299.9 1584.3,301.5 1584.5,300.6 1584.7,300.9 1584.9,301.9 1585.1,299.8 1585.3,299.3 1585.6,299.2 1585.8,299.2 1586.0,299.6 1586.2,300.7 1586.4,297.9 1586.6,300.2 1586.8,301.5 1587.0,300.0 1587.2,301.4 1587.4,300.2 1587.6,299.4 1587.8,300.9 1588.0,300.4 1588.2,299.8 1588.4,300.3 1588.6,300.3 1588.8,301.2 1589.0,301.1 1589.2,299.9 1589.4,300.5 1589.6,300.1 1589.9,300.5 1590.1,302.1 1590.3,300.1 1590.5,301.8 1590.7,299.7 1590.9,299.9 1591.1,300.1 1591.3,300.3 1591.5,299.1 1591.7,299.5 1591.9,302.3 1592.1,300.7 1592.3,299.2 1592.5,301.3 1592.7,301.6 1592.9,299.4 1593.1,301.2 1593.3,299.2 1593.5,299.3 1593.7,300.9 1593.9,301.3 1594.1,298.0 1594.4,299.7 1594.6,300.2 1594.8,300.0 1595.0,298.5 1595.2,299.7 1595.4,300.6 1595.6,300.5 1595.8,299.1 1596.0,299.6 1596.2,300.1 1596.4,299.7 1596.6,302.2 1596.8,298.4 1597.0,300.3 1597.2,300.8 1597.4,302.8 1597.6,299.8 1597.8,302.6 1598.0,298.1 1598.2,303.1 1598.4,299.8 1598.6,301.3 1598.9,299.2 1599.1,303.4 1599.3,301.2 1599.5,302.3 1599.7,300.8 1599.9,300.5 1600.1,300.3 1600.3,299.6 1600.5,300.6 1600.7,301.1 1600.9,300.1 1601.1,300.5 1601.3,300.5 1601.5,300.0 1601.7,298.5 1601.9,299.8 1602.1,299.1 1602.3,299.3 1602.5,301.2 1602.7,298.5 1602.9,299.6 1603.2,300.6 1603.4,299.6 1603.6,298.9 1603.8,299.6 1604.0,298.9 1604.2,300.8 1604.4,302.2 1604.6,300.9 1604.8,300.2 1605.0,300.6 1605.2,299.4 1605.4,302.2 1605.6,299.9 1605.8,298.7 1606.0,299.8 1606.2,300.3 1606.4,299.0 1606.6,301.9 1606.8,299.6 1607.0,298.3 1607.2,300.6 1607.4,299.7 1607.7,300.2 1607.9,300.2 1608.1,299.5 1608.3,299.1 1608.5,302.0 1608.7,303.0 1608.9,299.8 1609.1,301.0 1609.3,301.0 1609.5,300.4 1609.7,300.3 1609.9,300.4 1610.1,299.3 1610.3,300.7 1610.5,299.5 1610.7,300.8 1610.9,300.6 1611.1,300.7 1611.3,298.7 1611.5,299.3 1611.7,299.6 1611.9,300.6 1612.2,300.8 1612.4,299.6 1612.6,299.2 1612.8,299.3 1613.0,300.6 1613.2,300.3 1613.4,301.0 1613.6,299.4 1613.8,299.6 1614.0,298.9 1614.2,299.4 1614.4,299.4 1614.6,300.8 1614.8,301.5 1615.0,299.1 1615.2,300.2 1615.4,299.2 1615.6,302.1 1615.8,300.0 1616.0,300.7 1616.2,299.6 1616.4,303.1 1616.7,300.4 1616.9,300.7 1617.1,301.1 1617.3,301.5 1617.5,298.7 1617.7,300.0 1617.9,300.3 1618.1,300.2 1618.3,299.6 1618.5,299.6 1618.7,298.9 1618.9,302.5 1619.1,302.7 1619.3,300.7 1619.5,301.9 1619.7,299.4 1619.9,300.7 1620.1,297.7 1620.3,300.3 1620.5,301.4 1620.7,300.6 1621.0,298.9 1621.2,299.6 1621.4,300.1 1621.6,300.9 1621.8,301.7 1622.0,300.8 1622.2,298.0 1622.4,300.1 1622.6,301.5 1622.8,301.9 1623.0,299.9 1623.2,298.9 1623.4,299.2 1623.6,300.9 1623.8,301.9 1624.0,299.4 1624.2,301.1 1624.4,299.0 1624.6,301.9 1624.8,300.3 1625.0,301.2 1625.2,300.9 1625.5,298.7 1625.7,301.9 1625.9,302.0 1626.1,299.9 1626.3,299.5 1626.5,300.5 1626.7,298.9 1626.9,300.2 1627.1,302.5 1627.3,300.5 1627.5,299.0 1627.7,300.8 1627.9,300.8 1628.1,299.0 1628.3,297.6 1628.5,299.7 1628.7,300.4 1628.9,298.6 1629.1,299.6 1629.3,299.3 1629.5,300.3 1629.7,299.2 1630.0,300.3 1630.2,298.3 1630.4,299.6 1630.6,300.4 1630.8,298.6 1631.0,300.6 1631.2,303.1 1631.4,301.6 1631.6,300.9 1631.8,299.6 1632.0,299.0 1632.2,300.9 1632.4,299.3 1632.6,300.0 1632.8,300.7 1633.0,299.9 1633.2,302.1 1633.4,300.9 1633.6,298.9 1633.8,301.2 1634.0,299.4 1634.2,300.6 1634.5,300.0 1634.7,301.9 1634.9,299.4 1635.1,300.5 1635.3,301.2 1635.5,296.3 1635.7,302.5 1635.9,300.2 1636.1,299.9 1636.3,298.6 1636.5,301.6 1636.7,299.6 1636.9,299.6 1637.1,300.1 1637.3,299.7 1637.5,300.5 1637.7,300.7 1637.9,299.1 1638.1,301.3 1638.3,299.6 1638.5,301.0 1638.8,301.0 1639.0,298.6 1639.2,300.4 1639.4,301.4 1639.6,300.3 1639.8,299.7 1640.0,301.1 1640.2,300.1 1640.4,301.3 1640.6,302.0 1640.8,299.0 1641.0,299.5 1641.2,298.8 1641.4,297.7 1641.6,298.2 1641.8,299.7 1642.0,300.1 1642.2,300.7 1642.4,298.6 1642.6,299.7 1642.8,300.3 1643.0,301.2 1643.3,300.7 1643.5,300.4 1643.7,300.5 1643.9,300.3 1644.1,299.7 1644.3,298.3 1644.5,299.3 1644.7,299.8 1644.9,299.6 1645.1,299.0 1645.3,298.4 1645.5,301.3 1645.7,300.9 1645.9,299.6 1646.1,298.1 1646.3,299.4 1646.5,299.1 1646.7,300.7 1646.9,299.3 1647.1,298.9 1647.3,300.9 1647.5,300.0 1647.8,298.5 1648.0,299.7 1648.2,300.6 1648.4,299.5 1648.6,300.3 1648.8,299.7 1649.0,298.8 1649.2,300.4 1649.4,299.4 1649.6,300.3 1649.8,302.1 1650.0,301.6 1650.2,300.1 1650.4,299.2 1650.6,298.7 1650.8,302.2 1651.0,299.7 1651.2,301.5 1651.4,302.9 1651.6,300.6 1651.8,301.2 1652.0,299.3 1652.3,299.9 1652.5,301.4 1652.7,300.8 1652.9,298.9 1653.1,299.7 1653.3,299.4 1653.5,300.9 1653.7,301.1 1653.9,298.8 1654.1,298.8 1654.3,300.5 1654.5,301.1 1654.7,299.4 1654.9,299.6 1655.1,302.1 1655.3,299.5 1655.5,299.3 1655.7,300.8 1655.9,298.5 1656.1,299.8 1656.3,299.7 1656.6,301.4 1656.8,301.0 1657.0,300.2 1657.2,299.7 1657.4,299.7 1657.6,300.5 1657.8,299.4 1658.0,301.5 1658.2,300.2 1658.4,300.9 1658.6,300.8 1658.8,299.7 1659.0,299.9 1659.2,299.5 1659.4,299.0 1659.6,301.9 1659.8,299.1 1660.0,300.7 1660.2,300.0 1660.4,300.1 1660.6,299.6 1660.8,301.0 1661.1,301.1 1661.3,300.9 1661.5,300.6 1661.7,299.9 1661.9,299.9 1662.1,300.5 1662.3,299.1 1662.5,300.3 1662.7,301.0 1662.9,299.5 1663.1,301.5 1663.3,299.6 1663.5,299.0 1663.7,300.0 1663.9,298.1 1664.1,300.6 1664.3,301.8 1664.5,298.5 1664.7,299.9 1664.9,299.3 1665.1,299.8 1665.3,300.6 1665.6,299.2 1665.8,301.4 1666.0,299.1 1666.2,300.6 1666.4,299.6 1666.6,299.3 1666.8,299.5 1667.0,299.7 1667.2,298.5 1667.4,299.8 1667.6,300.0 1667.8,299.3 1668.0,300.6 1668.2,301.0 1668.4,301.8 1668.6,299.4 1668.8,300.3 1669.0,298.2 1669.2,300.2 1669.4,298.8 1669.6,299.9 1669.8,300.1 1670.1,299.3 1670.3,300.1 1670.5,299.5 1670.7,300.6 1670.9,300.8 1671.1,297.5 1671.3,299.3 1671.5,300.3 1671.7,299.3 1671.9,299.8 1672.1,299.2 1672.3,300.2 1672.5,299.2 1672.7,298.9 1672.9,298.6 1673.1,299.2 1673.3,298.9 1673.5,297.4 1673.7,296.7 1673.9,298.2 1674.1,297.3 1674.4,297.4 1674.6,298.0 1674.8,295.3 1675.0,298.1 1675.2,299.3 1675.4,297.1 1675.6,297.1 1675.8,297.1 1676.0,297.3 1676.2,295.3 1676.4,296.2 1676.6,296.1 1676.8,295.9 1677.0,293.6 1677.2,294.6 1677.4,294.2 1677.6,293.8 1677.8,293.2 1678.0,293.3 1678.2,293.0 1678.4,291.6 1678.6,292.3 1678.9,294.1 1679.1,291.4 1679.3,291.4 1679.5,293.4 1679.7,294.3 1679.9,293.1 1680.1,292.8 1680.3,292.6 1680.5,294.2 1680.7,292.3 1680.9,293.3 1681.1,296.4 1681.3,294.2 1681.5,294.9 1681.7,294.9 1681.9,296.2 1682.1,293.3 1682.3,295.0 1682.5,296.4 1682.7,296.6 1682.9,298.0 1683.1,293.2 1683.4,298.0 1683.6,295.4 1683.8,297.0 1684.0,297.8 1684.2,296.5 1684.4,297.7 1684.6,297.7 1684.8,296.5 1685.0,298.5 1685.2,296.1 1685.4,299.8 1685.6,296.6 1685.8,298.0 1686.0,298.4 1686.2,299.0 1686.4,297.9 1686.6,296.5 1686.8,297.3 1687.0,295.9 1687.2,294.1 1687.4,294.6 1687.6,292.7 1687.9,293.2 1688.1,289.7 1688.3,285.9 1688.5,287.8 1688.7,284.5 1688.9,278.8 1689.1,276.0 1689.3,275.7 1689.5,273.9 1689.7,274.9 1689.9,275.2 1690.1,274.6 1690.3,278.1 1690.5,277.6 1690.7,280.9 1690.9,279.4 1691.1,281.8 1691.3,284.5 1691.5,282.1 1691.7,282.8 1691.9,284.9 1692.2,285.7 1692.4,288.2 1692.6,291.1 1692.8,289.6 1693.0,290.7 1693.2,291.0 1693.4,291.9 1693.6,294.2 1693.8,298.3 1694.0,297.4 1694.2,296.5 1694.4,298.7 1694.6,296.9 1694.8,297.3 1695.0,298.3 1695.2,299.3 1695.4,297.8 1695.6,298.4 1695.8,300.3 1696.0,298.6 1696.2,300.6 1696.4,299.3 1696.7,297.0 1696.9,300.4 1697.1,298.1 1697.3,301.5 1697.5,300.9 1697.7,301.0 1697.9,300.4 1698.1,300.9 1698.3,299.1 1698.5,298.3 1698.7,300.3 1698.9,300.9 1699.1,300.2 1699.3,300.1 1699.5,301.4 1699.7,300.3 1699.9,300.2 1700.1,299.6 1700.3,298.1 1700.5,300.1 1700.7,299.8 1700.9,298.9 1701.2,297.8 1701.4,300.0 1701.6,300.8 1701.8,299.7 1702.0,299.0 1702.2,299.7 1702.4,298.8 1702.6,300.4 1702.8,300.1 1703.0,300.9 1703.2,300.0 1703.4,300.5 1703.6,300.3 1703.8,301.5 1704.0,300.2 1704.2,300.4 1704.4,300.5 1704.6,300.3 1704.8,300.6 1705.0,299.6 1705.2,299.8 1705.5,300.9 1705.7,299.4 1705.9,300.5 1706.1,300.0 1706.3,299.4 1706.5,301.3 1706.7,301.8 1706.9,299.4 1707.1,300.1 1707.3,298.1 1707.5,299.6 1707.7,300.4 1707.9,299.5 1708.1,299.9 1708.3,300.2 1708.5,298.1 1708.7,299.5 1708.9,300.4 1709.1,300.8 1709.3,299.5 1709.5,299.7 1709.7,300.0 1710.0,299.7 1710.2,299.4 1710.4,298.7 1710.6,297.8 1710.8,301.7 1711.0,300.9 1711.2,300.6 1711.4,299.6 1711.6,299.2 1711.8,297.9 1712.0,300.4 1712.2,300.3 1712.4,300.0 1712.6,300.0 1712.8,301.2 1713.0,299.7 1713.2,299.7 1713.4,300.8 1713.6,300.5 1713.8,298.4 1714.0,301.8 1714.2,299.7 1714.5,299.1 1714.7,299.3 1714.9,299.4 1715.1,299.6 1715.3,300.4 1715.5,299.7 1715.7,299.3 1715.9,298.7 1716.1,301.1 1716.3,302.5 1716.5,300.8 1716.7,301.1 1716.9,300.0 1717.1,300.3 1717.3,300.3 1717.5,298.8 1717.7,301.1 1717.9,299.9 1718.1,300.2 1718.3,300.8 1718.5,300.9 1718.7,300.9 1719.0,299.6 1719.2,300.1 1719.4,299.3 1719.6,297.8 1719.8,299.5 1720.0,300.4 1720.2,299.8 1720.4,300.9 1720.6,301.1 1720.8,300.5 1721.0,299.7 1721.2,301.2 1721.4,300.4 1721.6,302.3 1721.8,301.3 1722.0,298.7 1722.2,299.5 1722.4,297.7 1722.6,300.1 1722.8,299.4 1723.0,299.4 1723.3,300.9 1723.5,300.2 1723.7,299.2 1723.9,301.0 1724.1,299.9 1724.3,298.1 1724.5,300.4 1724.7,300.6 1724.9,299.9 1725.1,300.2 1725.3,298.0 1725.5,301.5 1725.7,301.1 1725.9,298.9 1726.1,300.5 1726.3,300.2 1726.5,298.0 1726.7,301.5 1726.9,299.7 1727.1,299.8 1727.3,300.8 1727.5,300.8 1727.8,300.3 1728.0,299.2 1728.2,300.8 1728.4,301.9 1728.6,300.4 1728.8,300.9 1729.0,299.0 1729.2,299.3 1729.4,298.9 1729.6,300.9 1729.8,301.2 1730.0,298.8 1730.2,300.1 1730.4,300.0 1730.6,299.3 1730.8,300.7 1731.0,299.1 1731.2,301.4 1731.4,302.2 1731.6,301.3 1731.8,299.3 1732.0,299.8 1732.3,303.0 1732.5,299.3 1732.7,301.1 1732.9,301.2 1733.1,299.0 1733.3,300.1 1733.5,299.2 1733.7,302.6 1733.9,300.4 1734.1,301.7 1734.3,299.7 1734.5,300.3 1734.7,299.7 1734.9,298.2 1735.1,299.5 1735.3,299.9 1735.5,299.1 1735.7,299.5 1735.9,299.3 1736.1,299.0 1736.3,298.4 1736.5,301.0 1736.8,299.4 1737.0,300.1 1737.2,300.4 1737.4,300.8 1737.6,300.7 1737.8,301.2 1738.0,299.3 1738.2,300.6 1738.4,300.1 1738.6,300.2 1738.8,300.2" fill="none" stroke="#000000" stroke-width="1.3" stroke-linejoin="round"/>
<path d="M994.2,452.9 994.4,450.3 994.6,450.6 994.8,454.0 995.0,453.6 995.2,454.1 995.4,451.9 995.6,453.1 995.8,451.5 996.0,456.7 996.2,449.9 996.5,453.2 996.7,451.7 996.9,453.3 997.1,453.8 997.3,452.1 997.5,451.4 997.7,453.4 997.9,453.3 998.1,451.7 998.3,454.7 998.5,456.0 998.7,452.2 998.9,454.3 999.1,456.8 999.3,454.6 999.5,453.9 999.7,455.4 999.9,456.0 1000.1,453.0 1000.3,451.2 1000.5,453.5 1000.7,454.5 1001.0,452.3 1001.2,451.6 1001.4,453.6 1001.6,451.9 1001.8,451.0 1002.0,453.4 1002.2,454.6 1002.4,452.3 1002.6,452.5 1002.8,450.8 1003.0,455.6 1003.2,454.3 1003.4,454.7 1003.6,456.4 1003.8,452.8 1004.0,452.0 1004.2,454.5 1004.4,450.3 1004.6,451.4 1004.8,451.8 1005.0,452.2 1005.2,451.1 1005.5,455.7 1005.7,451.8 1005.9,451.8 1006.1,456.5 1006.3,452.3 1006.5,453.5 1006.7,451.5 1006.9,453.9 1007.1,453.1 1007.3,452.4 1007.5,454.7 1007.7,451.8 1007.9,453.2 1008.1,452.1 1008.3,454.0 1008.5,450.9 1008.7,451.8 1008.9,453.4 1009.1,451.8 1009.3,450.5 1009.5,449.5 1009.7,456.1 1010.0,451.3 1010.2,452.1 1010.4,453.2 1010.6,455.0 1010.8,450.6 1011.0,455.5 1011.2,451.9 1011.4,450.5 1011.6,456.1 1011.8,453.6 1012.0,455.6 1012.2,452.5 1012.4,450.1 1012.6,449.1 1012.8,456.5 1013.0,454.1 1013.2,451.7 1013.4,450.0 1013.6,452.2 1013.8,454.5 1014.0,452.4 1014.3,453.1 1014.5,453.4 1014.7,454.5 1014.9,452.3 1015.1,452.4 1015.3,453.2 1015.5,453.4 1015.7,455.5 1015.9,454.0 1016.1,450.7 1016.3,453.4 1016.5,455.8 1016.7,450.5 1016.9,452.0 1017.1,448.9 1017.3,452.9 1017.5,453.9 1017.7,455.8 1017.9,450.5 1018.1,448.1 1018.3,454.6 1018.5,454.3 1018.8,451.9 1019.0,454.6 1019.2,453.6 1019.4,453.7 1019.6,452.6 1019.8,450.9 1020.0,453.0 1020.2,451.2 1020.4,453.8 1020.6,452.4 1020.8,457.1 1021.0,455.8 1021.2,451.5 1021.4,454.2 1021.6,451.9 1021.8,452.0 1022.0,450.5 1022.2,451.5 1022.4,451.1 1022.6,453.2 1022.8,454.4 1023.0,454.4 1023.3,454.0 1023.5,455.2 1023.7,454.1 1023.9,453.2 1024.1,452.5 1024.3,453.7 1024.5,456.7 1024.7,453.2 1024.9,452.6 1025.1,451.0 1025.3,451.9 1025.5,454.3 1025.7,454.4 1025.9,449.2 1026.1,451.6 1026.3,449.6 1026.5,449.0 1026.7,454.6 1026.9,452.3 1027.1,452.2 1027.3,452.0 1027.5,452.0 1027.8,452.7 1028.0,452.7 1028.2,455.9 1028.4,453.4 1028.6,454.5 1028.8,452.8 1029.0,453.9 1029.2,451.9 1029.4,451.5 1029.6,452.5 1029.8,452.4 1030.0,452.9 1030.2,453.9 1030.4,453.3 1030.6,454.0 1030.8,452.3 1031.0,453.0 1031.2,451.9 1031.4,455.6 1031.6,451.4 1031.8,454.5 1032.1,454.4 1032.3,453.4 1032.5,454.1 1032.7,452.5 1032.9,454.1 1033.1,455.1 1033.3,454.6 1033.5,450.6 1033.7,453.0 1033.9,455.2 1034.1,453.0 1034.3,455.9 1034.5,449.7 1034.7,455.9 1034.9,452.1 1035.1,452.0 1035.3,455.7 1035.5,452.5 1035.7,451.2 1035.9,452.2 1036.1,452.6 1036.3,451.3 1036.6,452.8 1036.8,452.4 1037.0,453.3 1037.2,451.9 1037.4,454.8 1037.6,451.6 1037.8,454.0 1038.0,455.1 1038.2,452.3 1038.4,449.9 1038.6,451.3 1038.8,454.0 1039.0,451.7 1039.2,453.9 1039.4,453.3 1039.6,452.9 1039.8,457.4 1040.0,452.7 1040.2,455.0 1040.4,454.4 1040.6,455.8 1040.8,455.9 1041.1,454.8 1041.3,451.5 1041.5,450.0 1041.7,453.1 1041.9,451.0 1042.1,453.5 1042.3,456.6 1042.5,452.8 1042.7,452.2 1042.9,453.8 1043.1,452.5 1043.3,452.0 1043.5,454.6 1043.7,455.8 1043.9,453.5 1044.1,453.4 1044.3,453.7 1044.5,451.2 1044.7,449.9 1044.9,453.8 1045.1,451.7 1045.3,451.3 1045.6,451.7 1045.8,451.1 1046.0,453.8 1046.2,451.7 1046.4,449.3 1046.6,451.5 1046.8,454.2 1047.0,451.9 1047.2,450.7 1047.4,452.3 1047.6,454.1 1047.8,450.2 1048.0,455.3 1048.2,452.1 1048.4,453.1 1048.6,455.2 1048.8,450.8 1049.0,452.4 1049.2,455.2 1049.4,451.9 1049.6,453.8 1049.9,456.5 1050.1,454.3 1050.3,452.6 1050.5,451.9 1050.7,452.8 1050.9,453.0 1051.1,452.2 1051.3,453.4 1051.5,450.9 1051.7,452.8 1051.9,452.5 1052.1,452.1 1052.3,455.0 1052.5,454.3 1052.7,450.2 1052.9,452.4 1053.1,453.6 1053.3,452.4 1053.5,453.9 1053.7,452.5 1053.9,454.2 1054.1,452.5 1054.4,455.9 1054.6,450.6 1054.8,454.0 1055.0,455.9 1055.2,453.5 1055.4,453.7 1055.6,452.8 1055.8,455.2 1056.0,452.3 1056.2,446.5 1056.4,455.4 1056.6,452.4 1056.8,453.6 1057.0,452.7 1057.2,456.3 1057.4,455.1 1057.6,452.2 1057.8,453.1 1058.0,450.1 1058.2,454.3 1058.4,452.7 1058.6,447.8 1058.9,454.5 1059.1,454.7 1059.3,453.1 1059.5,453.1 1059.7,451.5 1059.9,452.9 1060.1,454.4 1060.3,452.7 1060.5,448.3 1060.7,450.7 1060.9,458.1 1061.1,453.3 1061.3,454.6 1061.5,451.9 1061.7,453.4 1061.9,449.6 1062.1,451.4 1062.3,451.5 1062.5,452.7 1062.7,453.1 1062.9,452.5 1063.2,450.7 1063.4,452.1 1063.6,453.7 1063.8,450.8 1064.0,452.7 1064.2,453.2 1064.4,454.5 1064.6,454.1 1064.8,454.2 1065.0,458.0 1065.2,451.2 1065.4,452.0 1065.6,453.4 1065.8,451.2 1066.0,452.3 1066.2,452.4 1066.4,457.5 1066.6,453.5 1066.8,452.1 1067.0,450.2 1067.2,449.8 1067.4,450.5 1067.7,455.1 1067.9,457.0 1068.1,452.0 1068.3,453.0 1068.5,451.4 1068.7,453.3 1068.9,452.7 1069.1,455.7 1069.3,452.2 1069.5,453.8 1069.7,452.4 1069.9,452.3 1070.1,453.2 1070.3,452.5 1070.5,453.1 1070.7,451.7 1070.9,452.2 1071.1,454.0 1071.3,454.1 1071.5,450.0 1071.7,453.2 1071.9,451.3 1072.2,452.3 1072.4,454.1 1072.6,454.4 1072.8,452.8 1073.0,452.6 1073.2,452.0 1073.4,455.3 1073.6,454.1 1073.8,453.2 1074.0,450.2 1074.2,457.2 1074.4,452.3 1074.6,454.0 1074.8,452.3 1075.0,453.9 1075.2,452.4 1075.4,450.3 1075.6,452.4 1075.8,452.3 1076.0,452.4 1076.2,454.3 1076.4,452.1 1076.7,453.4 1076.9,454.5 1077.1,453.1 1077.3,453.4 1077.5,451.7 1077.7,453.1 1077.9,454.0 1078.1,450.5 1078.3,451.3 1078.5,450.8 1078.7,452.0 1078.9,453.2 1079.1,453.8 1079.3,453.6 1079.5,451.4 1079.7,452.8 1079.9,455.7 1080.1,453.1 1080.3,455.5 1080.5,452.8 1080.7,455.1 1081.0,455.3 1081.2,452.8 1081.4,453.2 1081.6,456.0 1081.8,451.8 1082.0,449.3 1082.2,455.6 1082.4,449.9 1082.6,454.3 1082.8,453.9 1083.0,453.3 1083.2,455.6 1083.4,450.8 1083.6,452.2 1083.8,454.4 1084.0,453.5 1084.2,455.7 1084.4,453.7 1084.6,451.4 1084.8,456.0 1085.0,453.8 1085.2,452.8 1085.5,451.3 1085.7,450.7 1085.9,453.8 1086.1,454.3 1086.3,452.3 1086.5,453.7 1086.7,453.6 1086.9,451.2 1087.1,450.1 1087.3,452.6 1087.5,453.4 1087.7,452.1 1087.9,456.3 1088.1,453.1 1088.3,454.8 1088.5,448.9 1088.7,451.8 1088.9,452.8 1089.1,453.4 1089.3,457.4 1089.5,451.8 1089.7,450.3 1090.0,454.3 1090.2,451.9 1090.4,451.8 1090.6,455.7 1090.8,451.4 1091.0,450.7 1091.2,452.7 1091.4,453.2 1091.6,451.7 1091.8,455.7 1092.0,452.9 1092.2,451.3 1092.4,455.2 1092.6,451.3 1092.8,453.8 1093.0,456.6 1093.2,453.2 1093.4,454.7 1093.6,452.5 1093.8,455.1 1094.0,451.3 1094.2,454.3 1094.5,452.5 1094.7,454.1 1094.9,453.6 1095.1,451.0 1095.3,452.7 1095.5,453.7 1095.7,455.2 1095.9,451.0 1096.1,451.8 1096.3,453.6 1096.5,452.7 1096.7,454.8 1096.9,454.8 1097.1,454.4 1097.3,452.5 1097.5,452.6 1097.7,454.3 1097.9,451.8 1098.1,451.7 1098.3,452.7 1098.5,451.3 1098.8,453.5 1099.0,453.2 1099.2,452.3 1099.4,453.1 1099.6,451.8 1099.8,455.1 1100.0,450.6 1100.2,454.4 1100.4,453.3 1100.6,455.3 1100.8,452.1 1101.0,450.9 1101.2,451.3 1101.4,451.7 1101.6,455.7 1101.8,454.4 1102.0,453.8 1102.2,454.6 1102.4,451.2 1102.6,452.8 1102.8,453.1 1103.0,452.2 1103.3,454.6 1103.5,454.6 1103.7,454.5 1103.9,452.3 1104.1,452.5 1104.3,452.1 1104.5,451.2 1104.7,455.3 1104.9,454.0 1105.1,452.8 1105.3,455.3 1105.5,454.0 1105.7,451.4 1105.9,451.2 1106.1,451.2 1106.3,453.0 1106.5,453.4 1106.7,451.3 1106.9,453.7 1107.1,452.5 1107.3,450.9 1107.5,453.7 1107.8,454.1 1108.0,453.1 1108.2,452.0 1108.4,452.3 1108.6,452.8 1108.8,452.2 1109.0,455.7 1109.2,454.5 1109.4,452.8 1109.6,454.6 1109.8,455.3 1110.0,455.1 1110.2,454.6 1110.4,453.4 1110.6,454.8 1110.8,452.7 1111.0,450.2 1111.2,453.3 1111.4,450.9 1111.6,452.6 1111.8,454.9 1112.0,453.5 1112.3,454.6 1112.5,451.8 1112.7,455.0 1112.9,450.9 1113.1,452.1 1113.3,456.4 1113.5,451.8 1113.7,450.5 1113.9,454.4 1114.1,451.4 1114.3,456.0 1114.5,452.6 1114.7,455.8 1114.9,452.3 1115.1,455.9 1115.3,457.4 1115.5,452.3 1115.7,449.2 1115.9,454.0 1116.1,451.7 1116.3,452.9 1116.6,453.6 1116.8,452.0 1117.0,450.3 1117.2,455.0 1117.4,452.1 1117.6,452.4 1117.8,455.3 1118.0,450.4 1118.2,449.9 1118.4,454.6 1118.6,450.2 1118.8,453.0 1119.0,453.2 1119.2,450.6 1119.4,452.6 1119.6,452.5 1119.8,450.6 1120.0,451.0 1120.2,451.6 1120.4,455.3 1120.6,455.6 1120.8,451.2 1121.1,454.5 1121.3,452.8 1121.5,454.8 1121.7,453.3 1121.9,455.1 1122.1,450.4 1122.3,454.7 1122.5,453.2 1122.7,453.4 1122.9,451.1 1123.1,455.3 1123.3,453.2 1123.5,453.4 1123.7,452.1 1123.9,452.3 1124.1,453.8 1124.3,452.7 1124.5,453.7 1124.7,452.3 1124.9,453.2 1125.1,454.1 1125.3,453.1 1125.6,452.4 1125.8,449.4 1126.0,453.9 1126.2,452.5 1126.4,450.7 1126.6,456.4 1126.8,455.8 1127.0,455.0 1127.2,453.2 1127.4,449.1 1127.6,452.3 1127.8,451.1 1128.0,453.3 1128.2,456.9 1128.4,456.7 1128.6,451.4 1128.8,452.8 1129.0,455.1 1129.2,451.2 1129.4,455.5 1129.6,451.1 1129.8,450.6 1130.1,454.2 1130.3,454.7 1130.5,451.6 1130.7,454.7 1130.9,451.7 1131.1,454.9 1131.3,451.7 1131.5,452.8 1131.7,453.7 1131.9,454.4 1132.1,452.6 1132.3,455.9 1132.5,453.4 1132.7,453.6 1132.9,451.9 1133.1,455.0 1133.3,450.3 1133.5,453.5 1133.7,454.8 1133.9,450.7 1134.1,450.4 1134.4,453.2 1134.6,454.4 1134.8,453.0 1135.0,454.0 1135.2,453.5 1135.4,450.4 1135.6,452.4 1135.8,452.8 1136.0,452.4 1136.2,453.1 1136.4,451.7 1136.6,451.6 1136.8,453.5 1137.0,452.8 1137.2,449.3 1137.4,452.4 1137.6,453.2 1137.8,449.7 1138.0,453.0 1138.2,454.6 1138.4,451.9 1138.6,454.3 1138.9,453.7 1139.1,452.3 1139.3,453.1 1139.5,454.0 1139.7,453.7 1139.9,453.9 1140.1,451.1 1140.3,454.0 1140.5,453.7 1140.7,449.8 1140.9,453.8 1141.1,450.5 1141.3,450.8 1141.5,453.2 1141.7,455.1 1141.9,452.1 1142.1,451.9 1142.3,451.4 1142.5,452.7 1142.7,451.0 1142.9,450.9 1143.1,454.4 1143.4,450.6 1143.6,452.5 1143.8,453.6 1144.0,453.4 1144.2,449.8 1144.4,451.3 1144.6,455.5 1144.8,452.7 1145.0,453.0 1145.2,453.1 1145.4,453.5 1145.6,455.0 1145.8,451.5 1146.0,454.3 1146.2,453.3 1146.4,453.7 1146.6,453.8 1146.8,451.5 1147.0,452.1 1147.2,453.7 1147.4,454.1 1147.6,453.4 1147.9,451.1 1148.1,452.4 1148.3,452.3 1148.5,453.2 1148.7,452.9 1148.9,452.2 1149.1,455.5 1149.3,450.1 1149.5,453.8 1149.7,453.6 1149.9,450.5 1150.1,452.1 1150.3,452.5 1150.5,453.4 1150.7,454.7 1150.9,452.3 1151.1,450.7 1151.3,453.8 1151.5,450.2 1151.7,454.0 1151.9,453.5 1152.2,451.5 1152.4,452.2 1152.6,451.2 1152.8,453.4 1153.0,453.8 1153.2,454.8 1153.4,453.9 1153.6,453.3 1153.8,454.0 1154.0,451.6 1154.2,452.9 1154.4,454.8 1154.6,447.9 1154.8,452.9 1155.0,453.4 1155.2,449.7 1155.4,449.6 1155.6,452.7 1155.8,453.6 1156.0,452.7 1156.2,449.2 1156.4,451.1 1156.7,451.8 1156.9,450.4 1157.1,448.6 1157.3,452.3 1157.5,450.3 1157.7,451.5 1157.9,445.6 1158.1,445.7 1158.3,447.5 1158.5,447.7 1158.7,446.3 1158.9,450.1 1159.1,444.7 1159.3,446.2 1159.5,445.0 1159.7,443.0 1159.9,440.7 1160.1,437.0 1160.3,435.4 1160.5,432.9 1160.7,432.0 1160.9,427.1 1161.2,425.1 1161.4,420.5 1161.6,421.6 1161.8,421.5 1162.0,414.6 1162.2,407.7 1162.4,409.1 1162.6,409.4 1162.8,406.6 1163.0,409.0 1163.2,409.0 1163.4,411.1 1163.6,411.8 1163.8,414.0 1164.0,417.7 1164.2,421.8 1164.4,422.3 1164.6,423.3 1164.8,428.0 1165.0,430.4 1165.2,432.4 1165.5,430.7 1165.7,436.7 1165.9,437.1 1166.1,437.6 1166.3,442.8 1166.5,443.6 1166.7,444.0 1166.9,443.2 1167.1,446.2 1167.3,446.9 1167.5,447.9 1167.7,450.4 1167.9,447.5 1168.1,449.9 1168.3,452.1 1168.5,450.5 1168.7,453.1 1168.9,452.0 1169.1,450.5 1169.3,452.2 1169.5,449.5 1169.7,453.1 1170.0,450.8 1170.2,450.9 1170.4,449.5 1170.6,450.5 1170.8,451.3 1171.0,451.6 1171.2,451.7 1171.4,449.8 1171.6,452.9 1171.8,451.1 1172.0,452.1 1172.2,452.0 1172.4,452.5 1172.6,449.1 1172.8,453.0 1173.0,451.9 1173.2,452.0 1173.4,451.3 1173.6,451.6 1173.8,451.8 1174.0,451.0 1174.2,454.6 1174.5,452.3 1174.7,454.0 1174.9,452.2 1175.1,454.0 1175.3,453.8 1175.5,452.5 1175.7,450.4 1175.9,451.8 1176.1,452.0 1176.3,450.7 1176.5,454.0 1176.7,455.7 1176.9,453.0 1177.1,452.8 1177.3,450.8 1177.5,449.5 1177.7,454.6 1177.9,448.9 1178.1,450.3 1178.3,451.4 1178.5,452.2 1178.7,449.2 1179.0,452.6 1179.2,453.3 1179.4,452.6 1179.6,454.7 1179.8,451.9 1180.0,452.8 1180.2,452.1 1180.4,452.2 1180.6,454.2 1180.8,450.8 1181.0,454.2 1181.2,451.5 1181.4,455.1 1181.6,452.4 1181.8,453.9 1182.0,452.8 1182.2,453.8 1182.4,455.9 1182.6,454.5 1182.8,452.8 1183.0,452.0 1183.3,454.9 1183.5,455.8 1183.7,454.0 1183.9,453.1 1184.1,453.8 1184.3,454.0 1184.5,451.7 1184.7,451.5 1184.9,451.8 1185.1,454.2 1185.3,452.6 1185.5,453.1 1185.7,454.9 1185.9,451.6 1186.1,452.8 1186.3,453.5 1186.5,451.0 1186.7,451.9 1186.9,451.7 1187.1,451.2 1187.3,451.9 1187.5,454.8 1187.8,453.6 1188.0,451.5 1188.2,453.9 1188.4,452.8 1188.6,452.4 1188.8,450.9 1189.0,451.1 1189.2,451.7 1189.4,453.1 1189.6,451.6 1189.8,452.2 1190.0,453.2 1190.2,451.0 1190.4,452.2 1190.6,454.0 1190.8,451.2 1191.0,453.3 1191.2,452.1 1191.4,455.1 1191.6,452.9 1191.8,454.3 1192.0,454.4 1192.3,455.5 1192.5,449.9 1192.7,453.1 1192.9,452.6 1193.1,451.4 1193.3,453.2 1193.5,452.2 1193.7,454.8 1193.9,452.7 1194.1,453.5 1194.3,452.3 1194.5,452.7 1194.7,455.0 1194.9,455.5 1195.1,454.4 1195.3,452.0 1195.5,452.4 1195.7,452.4 1195.9,455.8 1196.1,456.6 1196.3,453.9 1196.5,453.4 1196.8,453.8 1197.0,452.5 1197.2,453.1 1197.4,454.7 1197.6,454.1 1197.8,452.8 1198.0,452.8 1198.2,453.1 1198.4,449.9 1198.6,453.4 1198.8,452.8 1199.0,454.3 1199.2,453.5 1199.4,452.3 1199.6,452.2 1199.8,453.3 1200.0,452.5 1200.2,452.9 1200.4,455.5 1200.6,457.4 1200.8,449.8 1201.1,451.9 1201.3,453.0 1201.5,455.4 1201.7,454.7 1201.9,451.2 1202.1,456.8 1202.3,453.4 1202.5,451.7 1202.7,452.8 1202.9,451.9 1203.1,453.1 1203.3,449.7 1203.5,454.3 1203.7,454.8 1203.9,452.6 1204.1,451.0 1204.3,453.0 1204.5,451.6 1204.7,453.6 1204.9,454.6 1205.1,451.0 1205.3,450.9 1205.6,450.9 1205.8,453.5 1206.0,454.4 1206.2,454.5 1206.4,453.3 1206.6,452.1 1206.8,452.4 1207.0,454.8 1207.2,452.6 1207.4,453.0 1207.6,452.7 1207.8,452.9 1208.0,453.1 1208.2,452.3 1208.4,452.8 1208.6,452.6 1208.8,453.8 1209.0,452.4 1209.2,453.1 1209.4,455.9 1209.6,452.2 1209.8,453.3 1210.1,451.6 1210.3,453.1 1210.5,453.0 1210.7,452.5 1210.9,452.7 1211.1,453.5 1211.3,455.1 1211.5,450.4 1211.7,455.0 1211.9,453.4 1212.1,451.8 1212.3,452.4 1212.5,451.9 1212.7,451.7 1212.9,451.1 1213.1,452.4 1213.3,448.8 1213.5,454.0 1213.7,452.3 1213.9,453.1 1214.1,453.4 1214.3,452.2 1214.6,450.8 1214.8,453.4 1215.0,453.5 1215.2,451.7 1215.4,451.8 1215.6,449.9 1215.8,451.2 1216.0,451.8 1216.2,452.5 1216.4,452.0 1216.6,452.3 1216.8,453.5 1217.0,451.7 1217.2,452.1 1217.4,452.2 1217.6,452.2 1217.8,448.7 1218.0,450.0 1218.2,449.8 1218.4,451.1 1218.6,451.6 1218.9,450.4 1219.1,449.4 1219.3,449.8 1219.5,448.7 1219.7,447.6 1219.9,447.9 1220.1,448.6 1220.3,447.5 1220.5,448.1 1220.7,445.6 1220.9,447.3 1221.1,446.5 1221.3,443.8 1221.5,445.5 1221.7,445.7 1221.9,445.7 1222.1,444.7 1222.3,443.1 1222.5,442.6 1222.7,444.0 1222.9,445.4 1223.1,442.0 1223.4,443.6 1223.6,443.9 1223.8,443.6 1224.0,445.8 1224.2,445.2 1224.4,444.9 1224.6,444.2 1224.8,446.2 1225.0,450.2 1225.2,447.1 1225.4,446.0 1225.6,445.9 1225.8,446.9 1226.0,444.8 1226.2,446.3 1226.4,446.9 1226.6,447.8 1226.8,450.5 1227.0,448.5 1227.2,449.0 1227.4,450.1 1227.6,449.7 1227.9,449.8 1228.1,451.2 1228.3,451.2 1228.5,451.4 1228.7,450.6 1228.9,451.9 1229.1,450.6 1229.3,453.5 1229.5,451.7 1229.7,453.4 1229.9,452.1 1230.1,450.8 1230.3,451.5 1230.5,451.6 1230.7,451.1 1230.9,449.3 1231.1,452.3 1231.3,450.0 1231.5,453.0 1231.7,451.3 1231.9,450.8 1232.1,452.1 1232.4,450.5 1232.6,450.0 1232.8,451.9 1233.0,450.2 1233.2,450.6 1233.4,452.6 1233.6,450.1 1233.8,450.5 1234.0,447.4 1234.2,450.3 1234.4,446.7 1234.6,448.7 1234.8,445.4 1235.0,446.6 1235.2,446.1 1235.4,445.4 1235.6,444.2 1235.8,442.2 1236.0,441.1 1236.2,442.3 1236.4,441.4 1236.7,440.9 1236.9,434.1 1237.1,431.0 1237.3,426.4 1237.5,419.6 1237.7,414.5 1237.9,406.0 1238.1,397.5 1238.3,384.2 1238.5,378.4 1238.7,370.2 1238.9,373.0 1239.1,373.5 1239.3,378.6 1239.5,381.8 1239.7,388.2 1239.9,393.2 1240.1,401.1 1240.3,408.8 1240.5,413.8 1240.7,421.8 1240.9,427.0 1241.2,432.0 1241.4,434.8 1241.6,441.2 1241.8,440.4 1242.0,441.8 1242.2,445.3 1242.4,444.6 1242.6,447.4 1242.8,446.6 1243.0,445.9 1243.2,447.0 1243.4,447.3 1243.6,449.7 1243.8,447.9 1244.0,449.6 1244.2,449.2 1244.4,449.1 1244.6,450.5 1244.8,451.8 1245.0,449.5 1245.2,451.7 1245.4,452.1 1245.7,452.7 1245.9,450.1 1246.1,451.4 1246.3,453.9 1246.5,450.3 1246.7,449.1 1246.9,449.1 1247.1,452.3 1247.3,451.9 1247.5,451.0 1247.7,450.7 1247.9,451.8 1248.1,453.5 1248.3,451.2 1248.5,451.3 1248.7,453.7 1248.9,452.5 1249.1,451.7 1249.3,452.1 1249.5,451.5 1249.7,451.4 1249.9,451.5 1250.2,452.5 1250.4,453.9 1250.6,451.7 1250.8,450.9 1251.0,450.4 1251.2,452.5 1251.4,452.6 1251.6,450.8 1251.8,450.8 1252.0,452.3 1252.2,451.9 1252.4,453.5 1252.6,451.9 1252.8,453.7 1253.0,452.9 1253.2,453.0 1253.4,453.3 1253.6,455.3 1253.8,453.7 1254.0,452.3 1254.2,452.9 1254.5,453.2 1254.7,452.2 1254.9,451.9 1255.1,451.7 1255.3,453.7 1255.5,452.7 1255.7,453.2 1255.9,453.9 1256.1,454.6 1256.3,452.9 1256.5,453.8 1256.7,450.2 1256.9,452.8 1257.1,453.2 1257.3,453.4 1257.5,450.8 1257.7,454.1 1257.9,453.2 1258.1,453.8 1258.3,453.0 1258.5,453.0 1258.7,451.6 1259.0,454.6 1259.2,452.9 1259.4,451.0 1259.6,453.6 1259.8,453.2 1260.0,454.0 1260.2,456.1 1260.4,453.1 1260.6,451.6 1260.8,453.5 1261.0,455.2 1261.2,452.7 1261.4,452.9 1261.6,451.8 1261.8,451.8 1262.0,453.4 1262.2,452.5 1262.4,455.2 1262.6,451.8 1262.8,452.9 1263.0,451.7 1263.2,451.8 1263.5,453.4 1263.7,453.1 1263.9,454.1 1264.1,455.5 1264.3,453.2 1264.5,452.9 1264.7,454.3 1264.9,452.2 1265.1,452.9 1265.3,452.5 1265.5,454.0 1265.7,455.2 1265.9,452.1 1266.1,452.4 1266.3,453.2 1266.5,453.6 1266.7,453.4 1266.9,453.2 1267.1,453.7 1267.3,455.6 1267.5,452.2 1267.8,454.8 1268.0,453.5 1268.2,453.5 1268.4,452.8 1268.6,455.0 1268.8,451.6 1269.0,452.4 1269.2,452.2 1269.4,451.6 1269.6,454.2 1269.8,456.8 1270.0,452.7 1270.2,451.6 1270.4,451.7 1270.6,453.8 1270.8,453.2 1271.0,452.7 1271.2,455.2 1271.4,453.9 1271.6,453.8 1271.8,451.2 1272.0,453.9 1272.3,451.2 1272.5,453.1 1272.7,455.1 1272.9,450.4 1273.1,454.2 1273.3,452.4 1273.5,451.1 1273.7,453.8 1273.9,454.6 1274.1,451.9 1274.3,453.0 1274.5,454.6 1274.7,454.4 1274.9,453.6 1275.1,451.9 1275.3,453.4 1275.5,452.4 1275.7,451.2 1275.9,451.6 1276.1,451.4 1276.3,451.6 1276.5,455.0 1276.8,451.7 1277.0,452.8 1277.2,453.3 1277.4,454.4 1277.6,455.0 1277.8,454.5 1278.0,453.2 1278.2,454.5 1278.4,454.1 1278.6,453.9 1278.8,452.3 1279.0,453.4 1279.2,453.3 1279.4,451.6 1279.6,453.6 1279.8,452.4 1280.0,454.4 1280.2,452.8 1280.4,453.0 1280.6,452.9 1280.8,453.7 1281.0,454.3 1281.3,453.5 1281.5,453.7 1281.7,451.9 1281.9,452.1 1282.1,454.5 1282.3,452.3 1282.5,453.7 1282.7,452.5 1282.9,453.7 1283.1,454.9 1283.3,452.0 1283.5,452.6 1283.7,454.6 1283.9,455.4 1284.1,453.8 1284.3,454.6 1284.5,453.6 1284.7,452.5 1284.9,451.4 1285.1,453.6 1285.3,451.5 1285.6,451.8 1285.8,453.7 1286.0,455.2 1286.2,452.2 1286.4,452.4 1286.6,450.4 1286.8,451.4 1287.0,452.2 1287.2,451.2 1287.4,454.4 1287.6,452.9 1287.8,453.5 1288.0,451.1 1288.2,452.4 1288.4,456.8 1288.6,451.5 1288.8,454.2 1289.0,452.3 1289.2,453.7 1289.4,452.8 1289.6,452.4 1289.8,452.9 1290.1,454.3 1290.3,451.5 1290.5,452.7 1290.7,453.2 1290.9,452.3 1291.1,453.8 1291.3,450.9 1291.5,452.9 1291.7,452.7 1291.9,452.8 1292.1,454.2 1292.3,454.6 1292.5,452.9 1292.7,452.7 1292.9,451.6 1293.1,452.6 1293.3,454.4 1293.5,452.5 1293.7,452.2 1293.9,452.0 1294.1,452.8 1294.3,454.6 1294.6,451.8 1294.8,454.0 1295.0,452.5 1295.2,454.9 1295.4,452.3 1295.6,454.0 1295.8,451.9 1296.0,451.1 1296.2,451.8 1296.4,454.5 1296.6,454.3 1296.8,454.2 1297.0,452.4 1297.2,452.7 1297.4,453.0 1297.6,452.8 1297.8,452.5 1298.0,452.4 1298.2,451.2 1298.4,453.2 1298.6,452.9 1298.8,455.4 1299.1,454.7 1299.3,453.9 1299.5,454.6 1299.7,452.9 1299.9,452.0 1300.1,453.7 1300.3,453.7 1300.5,453.7 1300.7,453.0 1300.9,453.8 1301.1,452.6 1301.3,452.8 1301.5,452.8 1301.7,452.2 1301.9,453.1 1302.1,453.0 1302.3,451.1 1302.5,453.2 1302.7,452.2 1302.9,453.1 1303.1,453.7 1303.4,453.7 1303.6,454.2 1303.8,453.2 1304.0,453.9 1304.2,453.7 1304.4,451.8 1304.6,453.3 1304.8,451.9 1305.0,452.9 1305.2,452.2 1305.4,453.9 1305.6,453.0 1305.8,450.2 1306.0,452.2 1306.2,452.0 1306.4,452.9 1306.6,452.2 1306.8,454.6 1307.0,454.2 1307.2,452.7 1307.4,452.2 1307.6,453.7 1307.9,453.4 1308.1,453.6 1308.3,453.4 1308.5,454.6 1308.7,454.9 1308.9,453.3 1309.1,455.2 1309.3,454.3 1309.5,454.0 1309.7,454.4 1309.9,452.9 1310.1,453.7 1310.3,453.3 1310.5,454.4 1310.7,454.1 1310.9,452.6 1311.1,452.8 1311.3,453.7 1311.5,452.8 1311.7,453.0 1311.9,453.0 1312.1,451.4 1312.4,453.7 1312.6,452.7 1312.8,452.7 1313.0,453.5 1313.2,454.6 1313.4,452.5 1313.6,452.9 1313.8,453.1 1314.0,453.2 1314.2,453.2 1314.4,454.3 1314.6,452.9 1314.8,455.4 1315.0,453.3 1315.2,455.0 1315.4,453.7 1315.6,452.4 1315.8,453.5 1316.0,453.8 1316.2,452.7 1316.4,453.6 1316.6,453.7 1316.9,453.7 1317.1,451.5 1317.3,452.5 1317.5,452.7 1317.7,454.6 1317.9,452.6 1318.1,454.8 1318.3,452.7 1318.5,454.6 1318.7,451.0 1318.9,455.2 1319.1,451.8 1319.3,452.3 1319.5,455.4 1319.7,453.5 1319.9,451.6 1320.1,451.9 1320.3,455.2 1320.5,453.9 1320.7,454.6 1320.9,454.4 1321.2,454.0 1321.4,451.2 1321.6,453.1 1321.8,453.6 1322.0,453.6 1322.2,452.5 1322.4,452.5 1322.6,454.3 1322.8,451.6 1323.0,454.6 1323.2,453.6 1323.4,452.8 1323.6,451.3 1323.8,453.7 1324.0,453.0 1324.2,451.8 1324.4,452.6 1324.6,452.0 1324.8,452.1 1325.0,453.0 1325.2,452.6 1325.4,452.2 1325.7,453.3 1325.9,451.5 1326.1,455.6 1326.3,454.3 1326.5,451.6 1326.7,452.8 1326.9,454.0 1327.1,452.9 1327.3,452.0 1327.5,454.0 1327.7,452.4 1327.9,453.4 1328.1,453.4 1328.3,453.4 1328.5,452.0 1328.7,454.6 1328.9,453.7 1329.1,452.6 1329.3,454.7 1329.5,455.1 1329.7,452.6 1329.9,453.3 1330.2,453.5 1330.4,453.1 1330.6,454.4 1330.8,449.9 1331.0,454.4 1331.2,453.8 1331.4,454.9 1331.6,453.8 1331.8,451.5 1332.0,453.3 1332.2,452.6 1332.4,453.8 1332.6,451.2 1332.8,453.1 1333.0,454.7 1333.2,452.4 1333.4,453.7 1333.6,452.6 1333.8,453.1 1334.0,453.0 1334.2,453.1 1334.4,454.3 1334.7,455.0 1334.9,452.1 1335.1,453.5 1335.3,453.0 1335.5,453.8 1335.7,455.6 1335.9,454.8 1336.1,451.7 1336.3,454.2 1336.5,453.7 1336.7,455.0 1336.9,453.9 1337.1,453.7 1337.3,453.5 1337.5,453.4 1337.7,454.0 1337.9,454.0 1338.1,453.3 1338.3,453.0 1338.5,453.5 1338.7,451.3 1339.0,453.1 1339.2,453.1 1339.4,454.0 1339.6,452.1 1339.8,454.5 1340.0,455.2 1340.2,454.4 1340.4,452.6 1340.6,454.6 1340.8,451.8 1341.0,453.3 1341.2,455.1 1341.4,453.6 1341.6,451.2 1341.8,454.3 1342.0,454.8 1342.2,452.7 1342.4,451.8 1342.6,452.1 1342.8,453.7 1343.0,453.1 1343.2,452.9 1343.5,452.0 1343.7,450.9 1343.9,453.4 1344.1,451.8 1344.3,453.7 1344.5,452.6 1344.7,454.4 1344.9,454.2 1345.1,452.9 1345.3,454.4 1345.5,452.3 1345.7,453.9 1345.9,453.2 1346.1,453.4 1346.3,453.7 1346.5,453.2 1346.7,452.1 1346.9,449.8 1347.1,454.7 1347.3,452.9 1347.5,453.5 1347.7,454.3 1348.0,453.0 1348.2,454.3 1348.4,453.4 1348.6,451.9 1348.8,455.6 1349.0,453.0 1349.2,452.8 1349.4,454.4 1349.6,452.7 1349.8,452.9 1350.0,453.7 1350.2,451.9 1350.4,454.8 1350.6,452.6 1350.8,453.6 1351.0,454.6 1351.2,453.5 1351.4,453.7 1351.6,452.4 1351.8,455.0 1352.0,453.5 1352.2,453.9 1352.5,451.5 1352.7,454.6 1352.9,452.1 1353.1,455.3 1353.3,452.9 1353.5,453.5 1353.7,452.9 1353.9,454.1 1354.1,455.5 1354.3,455.1 1354.5,451.8 1354.7,453.1 1354.9,454.3 1355.1,452.3 1355.3,454.2 1355.5,454.2 1355.7,454.7 1355.9,452.0 1356.1,451.1 1356.3,454.4 1356.5,453.0 1356.8,452.2 1357.0,450.9 1357.2,456.1 1357.4,453.2 1357.6,452.6 1357.8,455.1 1358.0,452.9 1358.2,453.1 1358.4,452.5 1358.6,454.0 1358.8,452.9 1359.0,454.0 1359.2,452.7 1359.4,453.2 1359.6,453.8 1359.8,454.9 1360.0,451.5 1360.2,452.1 1360.4,452.3 1360.6,454.1 1360.8,453.7 1361.0,451.5 1361.3,452.5 1361.5,454.3 1361.7,453.3 1361.9,453.2 1362.1,453.6 1362.3,454.4 1362.5,451.9 1362.7,452.7 1362.9,453.5 1363.1,455.1 1363.3,454.0 1363.5,453.4 1363.7,452.4 1363.9,453.8 1364.1,452.1 1364.3,453.2 1364.5,454.2 1364.7,456.5 1364.9,454.7 1365.1,455.0 1365.3,453.5 1365.5,453.0 1365.8,451.7 1366.0,453.3 1366.2,454.7 1366.4,450.7 1366.6,453.0 1366.8,453.7 1367.0,453.6 1367.2,454.8 1367.4,452.6 1367.6,452.9 1367.8,451.5 1368.0,452.1 1368.2,452.3 1368.4,451.9 1368.6,453.7 1368.8,453.8 1369.0,453.4 1369.2,454.7 1369.4,453.5 1369.6,453.7 1369.8,452.6 1370.1,453.3 1370.3,455.5 1370.5,453.3 1370.7,451.7 1370.9,455.4 1371.1,454.2 1371.3,453.3 1371.5,454.8 1371.7,453.9 1371.9,453.2 1372.1,454.8 1372.3,453.0 1372.5,452.8 1372.7,454.7 1372.9,453.3 1373.1,452.1 1373.3,453.5 1373.5,452.8 1373.7,452.6 1373.9,453.6 1374.1,452.1 1374.3,452.9 1374.6,454.4 1374.8,452.7 1375.0,452.3 1375.2,452.4 1375.4,454.0 1375.6,452.8 1375.8,451.7 1376.0,453.0 1376.2,451.9 1376.4,451.8 1376.6,453.3 1376.8,452.5 1377.0,453.6 1377.2,452.1 1377.4,453.4 1377.6,453.9 1377.8,453.3 1378.0,453.4 1378.2,452.9 1378.4,452.8 1378.6,454.6 1378.8,454.0 1379.1,452.9 1379.3,452.7 1379.5,453.2 1379.7,450.3 1379.9,452.0 1380.1,453.4 1380.3,452.4 1380.5,451.8 1380.7,452.9 1380.9,455.2 1381.1,453.2 1381.3,453.2 1381.5,450.8 1381.7,455.3 1381.9,451.5 1382.1,453.4 1382.3,452.2 1382.5,453.6 1382.7,453.0 1382.9,452.0 1383.1,453.2 1383.3,452.1 1383.6,453.4 1383.8,453.7 1384.0,453.5 1384.2,453.8 1384.4,453.4 1384.6,451.7 1384.8,454.6 1385.0,455.1 1385.2,453.2 1385.4,451.3 1385.6,452.1 1385.8,451.7 1386.0,451.8 1386.2,454.0 1386.4,453.1 1386.6,456.2 1386.8,453.9 1387.0,452.6 1387.2,455.0 1387.4,455.5 1387.6,454.7 1387.9,452.9 1388.1,451.9 1388.3,450.3 1388.5,451.6 1388.7,454.9 1388.9,455.8 1389.1,453.0 1389.3,452.0 1389.5,455.0 1389.7,453.8 1389.9,453.8 1390.1,453.2 1390.3,453.4 1390.5,452.6 1390.7,452.0 1390.9,453.1 1391.1,452.3 1391.3,450.9 1391.5,454.3 1391.7,454.3 1391.9,452.6 1392.1,451.1 1392.4,453.0 1392.6,452.0 1392.8,453.5 1393.0,452.1 1393.2,453.8 1393.4,452.4 1393.6,452.7 1393.8,452.7 1394.0,451.6 1394.2,452.0 1394.4,453.8 1394.6,452.2 1394.8,455.1 1395.0,452.1 1395.2,450.1 1395.4,452.6 1395.6,452.5 1395.8,453.1 1396.0,452.2 1396.2,453.6 1396.4,452.4 1396.6,453.5 1396.9,453.6 1397.1,453.0 1397.3,453.2 1397.5,455.1 1397.7,450.8 1397.9,453.0 1398.1,455.0 1398.3,451.9 1398.5,453.2 1398.7,452.9 1398.9,452.3 1399.1,454.1 1399.3,456.4 1399.5,453.2 1399.7,452.9 1399.9,452.0 1400.1,453.9 1400.3,453.3 1400.5,452.7 1400.7,453.4 1400.9,453.4 1401.1,452.8 1401.4,454.2 1401.6,451.3 1401.8,454.1 1402.0,453.0 1402.2,453.5 1402.4,453.9 1402.6,452.5 1402.8,452.0 1403.0,451.5 1403.2,452.4 1403.4,453.6 1403.6,452.1 1403.8,454.7 1404.0,453.0 1404.2,452.5 1404.4,452.4 1404.6,454.4 1404.8,454.7 1405.0,451.2 1405.2,453.6 1405.4,454.9 1405.7,454.5 1405.9,453.1 1406.1,451.8 1406.3,453.1 1406.5,451.8 1406.7,452.8 1406.9,452.6 1407.1,452.0 1407.3,453.5 1407.5,452.7 1407.7,453.5 1407.9,453.8 1408.1,452.4 1408.3,454.0 1408.5,452.9 1408.7,453.9 1408.9,453.1 1409.1,453.7 1409.3,451.9 1409.5,452.9 1409.7,452.9 1409.9,451.2 1410.2,456.3 1410.4,454.4 1410.6,456.1 1410.8,453.1 1411.0,452.6 1411.2,452.3 1411.4,452.8 1411.6,454.0 1411.8,451.0 1412.0,452.6 1412.2,453.2 1412.4,454.1 1412.6,452.5 1412.8,453.5 1413.0,453.2 1413.2,452.6 1413.4,452.5 1413.6,453.7 1413.8,451.1 1414.0,453.6 1414.2,453.8 1414.4,452.2 1414.7,452.1 1414.9,452.0 1415.1,452.3 1415.3,451.5 1415.5,452.3 1415.7,453.4 1415.9,450.6 1416.1,452.4 1416.3,451.5 1416.5,450.2 1416.7,450.6 1416.9,447.7 1417.1,452.0 1417.3,450.5 1417.5,449.8 1417.7,447.8 1417.9,449.3 1418.1,450.7 1418.3,447.5 1418.5,449.8 1418.7,449.1 1418.9,447.6 1419.2,449.1 1419.4,448.8 1419.6,447.7 1419.8,448.6 1420.0,447.7 1420.2,449.4 1420.4,448.6 1420.6,449.4 1420.8,450.6 1421.0,446.8 1421.2,448.0 1421.4,448.0 1421.6,450.0 1421.8,449.6 1422.0,450.0 1422.2,451.5 1422.4,449.6 1422.6,451.2 1422.8,450.8 1423.0,452.2 1423.2,449.8 1423.5,450.3 1423.7,451.0 1423.9,451.9 1424.1,452.3 1424.3,450.2 1424.5,452.4 1424.7,451.9 1424.9,451.9 1425.1,453.7 1425.3,450.9 1425.5,454.7 1425.7,452.4 1425.9,452.8 1426.1,454.5 1426.3,452.3 1426.5,452.2 1426.7,452.8 1426.9,453.7 1427.1,452.3 1427.3,451.8 1427.5,452.9 1427.7,451.2 1428.0,452.0 1428.2,452.2 1428.4,451.6 1428.6,453.8 1428.8,453.6 1429.0,452.5 1429.2,452.6 1429.4,451.5 1429.6,451.9 1429.8,452.8 1430.0,452.9 1430.2,453.4 1430.4,453.6 1430.6,453.6 1430.8,452.2 1431.0,453.8 1431.2,453.6 1431.4,453.0 1431.6,453.6 1431.8,453.4 1432.0,455.6 1432.2,452.8 1432.5,453.5 1432.7,453.0 1432.9,452.8 1433.1,455.2 1433.3,450.6 1433.5,453.0 1433.7,453.0 1433.9,455.1 1434.1,452.5 1434.3,452.7 1434.5,453.5 1434.7,452.8 1434.9,451.7 1435.1,453.5 1435.3,454.1 1435.5,451.6 1435.7,452.8 1435.9,453.2 1436.1,450.6 1436.3,452.9 1436.5,453.3 1436.7,452.8 1437.0,453.5 1437.2,452.8 1437.4,453.0 1437.6,453.8 1437.8,453.3 1438.0,452.7 1438.2,452.7 1438.4,452.4 1438.6,452.2 1438.8,452.8 1439.0,452.6 1439.2,453.5 1439.4,453.4 1439.6,452.0 1439.8,455.3 1440.0,452.7 1440.2,449.7 1440.4,455.2 1440.6,451.5 1440.8,455.1 1441.0,452.8 1441.3,451.4 1441.5,451.5 1441.7,454.2 1441.9,454.6 1442.1,454.8 1442.3,452.4 1442.5,453.7 1442.7,453.2 1442.9,452.9 1443.1,452.8 1443.3,452.6 1443.5,453.1 1443.7,454.9 1443.9,451.6 1444.1,456.3 1444.3,451.9 1444.5,453.9 1444.7,453.5 1444.9,453.8 1445.1,453.6 1445.3,453.3 1445.5,453.5 1445.8,454.4 1446.0,452.3 1446.2,453.9 1446.4,451.8 1446.6,453.4 1446.8,454.0 1447.0,452.8 1447.2,452.3 1447.4,454.3 1447.6,453.6 1447.8,451.7 1448.0,454.3 1448.2,454.2 1448.4,453.1 1448.6,454.5 1448.8,455.9 1449.0,455.0 1449.2,452.9 1449.4,452.5 1449.6,452.6 1449.8,452.8 1450.0,454.6 1450.3,452.5 1450.5,452.0 1450.7,454.0 1450.9,452.2 1451.1,453.7 1451.3,453.1 1451.5,452.9 1451.7,454.9 1451.9,451.7 1452.1,454.2 1452.3,453.4 1452.5,453.8 1452.7,452.7 1452.9,452.8 1453.1,453.2 1453.3,451.7 1453.5,452.9 1453.7,453.7 1453.9,456.4 1454.1,453.6 1454.3,453.6 1454.5,454.2 1454.8,454.2 1455.0,452.6 1455.2,452.1 1455.4,451.2 1455.6,452.0 1455.8,454.0 1456.0,452.9 1456.2,454.7 1456.4,452.5 1456.6,452.9 1456.8,453.9 1457.0,453.4 1457.2,453.5 1457.4,454.0 1457.6,451.8 1457.8,449.9 1458.0,452.3 1458.2,452.1 1458.4,453.1 1458.6,453.6 1458.8,450.9 1459.1,453.6 1459.3,452.8 1459.5,453.4 1459.7,452.6 1459.9,453.3 1460.1,452.6 1460.3,454.6 1460.5,453.4 1460.7,451.8 1460.9,454.4 1461.1,454.0 1461.3,451.8 1461.5,452.8 1461.7,452.1 1461.9,455.7 1462.1,453.1 1462.3,454.6 1462.5,454.7 1462.7,452.8 1462.9,452.0 1463.1,454.9 1463.3,454.4 1463.6,453.9 1463.8,453.4 1464.0,454.7 1464.2,450.8 1464.4,452.6 1464.6,453.6 1464.8,453.8 1465.0,450.8 1465.2,450.8 1465.4,453.8 1465.6,452.9 1465.8,451.9 1466.0,454.6 1466.2,453.9 1466.4,451.8 1466.6,454.0 1466.8,453.7 1467.0,454.7 1467.2,454.1 1467.4,452.5 1467.6,454.2 1467.8,454.7 1468.1,454.0 1468.3,451.3 1468.5,453.1 1468.7,453.9 1468.9,453.1 1469.1,452.8 1469.3,453.2 1469.5,455.3 1469.7,453.0 1469.9,453.5 1470.1,452.4 1470.3,454.8 1470.5,452.2 1470.7,453.8 1470.9,455.1 1471.1,451.9 1471.3,453.9 1471.5,452.9 1471.7,453.5 1471.9,452.2 1472.1,452.1 1472.4,452.1 1472.6,452.5 1472.8,455.1 1473.0,455.1 1473.2,453.1 1473.4,454.3 1473.6,452.8 1473.8,453.1 1474.0,454.9 1474.2,454.4 1474.4,454.5 1474.6,454.3 1474.8,453.5 1475.0,452.6 1475.2,451.9 1475.4,454.4 1475.6,453.9 1475.8,451.6 1476.0,452.3 1476.2,453.1 1476.4,455.8 1476.6,454.4 1476.9,453.2 1477.1,454.0 1477.3,451.2 1477.5,453.2 1477.7,453.0 1477.9,454.5 1478.1,454.5 1478.3,454.1 1478.5,454.0 1478.7,453.6 1478.9,452.9 1479.1,453.1 1479.3,452.2 1479.5,454.8 1479.7,453.1 1479.9,453.1 1480.1,451.6 1480.3,453.6 1480.5,453.0 1480.7,454.2 1480.9,452.9 1481.1,452.9 1481.4,454.0 1481.6,453.8 1481.8,453.4 1482.0,452.7 1482.2,454.6 1482.4,452.4 1482.6,453.7 1482.8,451.2 1483.0,451.7 1483.2,453.8 1483.4,454.0 1483.6,450.7 1483.8,452.6 1484.0,452.7 1484.2,453.8 1484.4,453.5 1484.6,452.4 1484.8,452.7 1485.0,454.2 1485.2,452.0 1485.4,453.0 1485.6,454.4 1485.9,452.2 1486.1,453.5 1486.3,452.5 1486.5,453.9 1486.7,452.9 1486.9,455.1 1487.1,452.9 1487.3,455.0 1487.5,453.2 1487.7,456.1 1487.9,453.4 1488.1,452.6 1488.3,452.8 1488.5,452.0 1488.7,454.5 1488.9,451.6 1489.1,451.6 1489.3,454.6 1489.5,454.2 1489.7,453.9 1489.9,453.4 1490.2,453.1 1490.4,456.0 1490.6,452.7 1490.8,453.6 1491.0,454.4 1491.2,452.3 1491.4,453.7 1491.6,452.1 1491.8,452.8 1492.0,453.7 1492.2,452.1 1492.4,452.4 1492.6,453.9 1492.8,455.1 1493.0,453.9 1493.2,452.6 1493.4,453.6 1493.6,451.4 1493.8,453.1 1494.0,453.1 1494.2,452.9 1494.4,454.3 1494.7,453.5 1494.9,454.1 1495.1,455.8 1495.3,455.3 1495.5,452.5 1495.7,453.8 1495.9,453.5 1496.1,454.9 1496.3,454.0 1496.5,452.5 1496.7,453.2 1496.9,453.9 1497.1,451.7 1497.3,453.4 1497.5,453.7 1497.7,452.1 1497.9,455.2 1498.1,452.8 1498.3,454.5 1498.5,454.2 1498.7,454.1 1498.9,453.2 1499.2,453.2 1499.4,453.0 1499.6,453.1 1499.8,451.8 1500.0,451.6 1500.2,452.6 1500.4,452.6 1500.6,453.7 1500.8,454.5 1501.0,452.7 1501.2,453.3 1501.4,452.4 1501.6,455.3 1501.8,450.5 1502.0,454.7 1502.2,453.3 1502.4,452.3 1502.6,454.8 1502.8,453.9 1503.0,455.5 1503.2,454.8 1503.4,455.4 1503.7,453.2 1503.9,453.0 1504.1,453.7 1504.3,452.0 1504.5,451.9 1504.7,453.3 1504.9,453.6 1505.1,453.6 1505.3,453.8 1505.5,452.0 1505.7,453.1 1505.9,453.7 1506.1,453.5 1506.3,452.7 1506.5,453.8 1506.7,453.0 1506.9,453.4 1507.1,451.9 1507.3,452.1 1507.5,454.8 1507.7,453.5 1508.0,452.6 1508.2,453.8 1508.4,452.5 1508.6,453.0 1508.8,452.7 1509.0,453.4 1509.2,453.0 1509.4,452.8 1509.6,454.9 1509.8,454.3 1510.0,454.4 1510.2,451.6 1510.4,453.0 1510.6,452.9 1510.8,453.1 1511.0,453.9 1511.2,454.1 1511.4,452.4 1511.6,453.7 1511.8,451.7 1512.0,453.1 1512.2,453.2 1512.5,453.6 1512.7,453.4 1512.9,453.3 1513.1,451.7 1513.3,450.9 1513.5,454.5 1513.7,453.1 1513.9,452.6 1514.1,454.3 1514.3,454.0 1514.5,453.8 1514.7,455.9 1514.9,452.7 1515.1,453.4 1515.3,453.4 1515.5,453.2 1515.7,453.1 1515.9,450.9 1516.1,453.1 1516.3,452.5 1516.5,453.8 1516.7,453.0 1517.0,453.6 1517.2,453.5 1517.4,454.3 1517.6,454.2 1517.8,452.8 1518.0,452.5 1518.2,452.9 1518.4,454.0 1518.6,453.0 1518.8,456.0 1519.0,452.3 1519.2,453.4 1519.4,453.0 1519.6,452.2 1519.8,453.7 1520.0,452.3 1520.2,453.8 1520.4,452.7 1520.6,453.8 1520.8,453.0 1521.0,451.8 1521.2,454.0 1521.5,454.0 1521.7,453.7 1521.9,453.0 1522.1,450.4 1522.3,453.9 1522.5,455.4 1522.7,454.0 1522.9,454.9 1523.1,453.8 1523.3,453.3 1523.5,454.3 1523.7,453.9 1523.9,455.3 1524.1,453.1 1524.3,454.1 1524.5,452.1 1524.7,452.2 1524.9,454.2 1525.1,453.7 1525.3,453.2 1525.5,452.5 1525.8,455.1 1526.0,453.4 1526.2,451.4 1526.4,453.4 1526.6,453.1 1526.8,453.3 1527.0,454.5 1527.2,452.3 1527.4,452.9 1527.6,453.2 1527.8,452.5 1528.0,452.4 1528.2,455.2 1528.4,452.7 1528.6,453.9 1528.8,453.1 1529.0,454.0 1529.2,454.1 1529.4,452.2 1529.6,453.3 1529.8,453.5 1530.0,453.5 1530.3,453.2 1530.5,453.2 1530.7,455.7 1530.9,454.2 1531.1,453.5 1531.3,452.3 1531.5,451.8 1531.7,454.2 1531.9,451.2 1532.1,453.1 1532.3,452.7 1532.5,453.7 1532.7,453.8 1532.9,451.7 1533.1,453.4 1533.3,453.3 1533.5,451.9 1533.7,451.3 1533.9,454.7 1534.1,453.4 1534.3,453.1 1534.5,451.3 1534.8,450.5 1535.0,453.2 1535.2,452.7 1535.4,452.2 1535.6,451.9 1535.8,453.5 1536.0,452.1 1536.2,453.8 1536.4,455.8 1536.6,454.4 1536.8,452.7 1537.0,452.2 1537.2,455.4 1537.4,454.7 1537.6,452.9 1537.8,456.2 1538.0,452.0 1538.2,451.5 1538.4,455.7 1538.6,451.7 1538.8,452.7 1539.0,451.0 1539.3,452.4 1539.5,452.4 1539.7,451.9 1539.9,451.0 1540.1,451.7 1540.3,451.6 1540.5,453.0 1540.7,451.0 1540.9,451.4 1541.1,449.2 1541.3,451.0 1541.5,450.7 1541.7,451.7 1541.9,449.9 1542.1,451.0 1542.3,451.4 1542.5,448.2 1542.7,448.6 1542.9,450.8 1543.1,451.4 1543.3,448.8 1543.6,451.1 1543.8,447.6 1544.0,450.2 1544.2,449.0 1544.4,451.5 1544.6,450.2 1544.8,449.3 1545.0,450.1 1545.2,451.0 1545.4,448.2 1545.6,450.0 1545.8,451.2 1546.0,451.5 1546.2,451.1 1546.4,449.7 1546.6,451.8 1546.8,451.2 1547.0,452.3 1547.2,450.4 1547.4,451.8 1547.6,451.1 1547.8,451.2 1548.1,452.8 1548.3,451.6 1548.5,451.3 1548.7,453.6 1548.9,451.6 1549.1,448.8 1549.3,452.8 1549.5,451.7 1549.7,454.2 1549.9,452.1 1550.1,453.2 1550.3,451.7 1550.5,452.7 1550.7,453.9 1550.9,451.4 1551.1,452.8 1551.3,453.5 1551.5,452.4 1551.7,453.7 1551.9,452.1 1552.1,452.7 1552.3,453.1 1552.6,451.9 1552.8,453.8 1553.0,451.8 1553.2,454.5 1553.4,451.0 1553.6,452.1 1553.8,452.7 1554.0,453.1 1554.2,451.6 1554.4,452.5 1554.6,452.1 1554.8,451.1 1555.0,452.5 1555.2,452.2 1555.4,451.1 1555.6,450.3 1555.8,451.1 1556.0,450.3 1556.2,449.9 1556.4,448.5 1556.6,446.9 1556.8,448.8 1557.1,447.0 1557.3,445.8 1557.5,443.1 1557.7,441.3 1557.9,441.7 1558.1,440.3 1558.3,438.3 1558.5,440.4 1558.7,440.3 1558.9,441.0 1559.1,440.5 1559.3,442.3 1559.5,442.9 1559.7,440.5 1559.9,443.8 1560.1,443.2 1560.3,442.6 1560.5,443.1 1560.7,444.7 1560.9,445.1 1561.1,445.1 1561.4,446.7 1561.6,447.8 1561.8,449.8 1562.0,449.8 1562.2,451.9 1562.4,451.7 1562.6,452.2 1562.8,450.0 1563.0,451.9 1563.2,451.3 1563.4,453.1 1563.6,452.4 1563.8,452.5 1564.0,453.3 1564.2,451.6 1564.4,454.5 1564.6,451.8 1564.8,449.8 1565.0,453.6 1565.2,452.8 1565.4,454.5 1565.6,452.8 1565.9,454.7 1566.1,452.3 1566.3,453.4 1566.5,454.7 1566.7,454.2 1566.9,454.5 1567.1,453.3 1567.3,452.1 1567.5,453.4 1567.7,454.2 1567.9,453.9 1568.1,453.0 1568.3,455.6 1568.5,452.5 1568.7,452.6 1568.9,455.7 1569.1,451.9 1569.3,454.8 1569.5,453.3 1569.7,452.0 1569.9,454.9 1570.1,455.0 1570.4,454.4 1570.6,454.3 1570.8,453.4 1571.0,453.8 1571.2,453.7 1571.4,453.6 1571.6,453.4 1571.8,454.2 1572.0,453.0 1572.2,453.3 1572.4,454.3 1572.6,451.3 1572.8,454.5 1573.0,452.4 1573.2,454.0 1573.4,452.9 1573.6,452.7 1573.8,452.3 1574.0,451.8 1574.2,454.1 1574.4,450.3 1574.7,452.8 1574.9,454.1 1575.1,454.6 1575.3,450.9 1575.5,451.5 1575.7,453.3 1575.9,452.5 1576.1,451.9 1576.3,453.2 1576.5,453.7 1576.7,453.3 1576.9,452.3 1577.1,453.3 1577.3,454.5 1577.5,452.4 1577.7,455.1 1577.9,454.1 1578.1,452.0 1578.3,453.1 1578.5,453.0 1578.7,453.2 1578.9,452.2 1579.2,453.3 1579.4,455.3 1579.6,453.0 1579.8,456.4 1580.0,455.3 1580.2,451.7 1580.4,452.2 1580.6,453.8 1580.8,453.3 1581.0,453.2 1581.2,452.2 1581.4,454.0 1581.6,454.2 1581.8,453.9 1582.0,453.1 1582.2,453.0 1582.4,453.7 1582.6,452.5 1582.8,454.3 1583.0,453.4 1583.2,454.0 1583.4,454.3 1583.7,452.0 1583.9,453.6 1584.1,454.3 1584.3,453.2 1584.5,454.3 1584.7,452.7 1584.9,452.4 1585.1,452.3 1585.3,454.4 1585.5,453.4 1585.7,451.4 1585.9,453.5 1586.1,452.0 1586.3,451.7 1586.5,454.7 1586.7,452.1 1586.9,452.5 1587.1,452.4 1587.3,451.5 1587.5,452.8 1587.7,453.2 1587.9,452.6 1588.2,453.7 1588.4,452.8 1588.6,455.4 1588.8,451.5 1589.0,453.8 1589.2,452.7 1589.4,453.0 1589.6,453.2 1589.8,453.2 1590.0,453.2 1590.2,455.0 1590.4,453.9 1590.6,452.1 1590.8,454.3 1591.0,454.4 1591.2,451.1 1591.4,452.1 1591.6,451.7 1591.8,453.3 1592.0,453.0 1592.2,452.5 1592.5,452.7 1592.7,453.4 1592.9,454.8 1593.1,454.1 1593.3,454.9 1593.5,451.7 1593.7,453.7 1593.9,453.5 1594.1,453.1 1594.3,453.3 1594.5,452.8 1594.7,454.0 1594.9,454.9 1595.1,451.6 1595.3,454.0 1595.5,453.8 1595.7,454.2 1595.9,453.9 1596.1,453.3 1596.3,452.6 1596.5,454.4 1596.7,453.1 1597.0,454.0 1597.2,452.1 1597.4,454.6 1597.6,453.2 1597.8,452.6 1598.0,454.8 1598.2,453.2 1598.4,453.2 1598.6,454.2 1598.8,453.6 1599.0,452.3 1599.2,453.1 1599.4,453.8 1599.6,453.6 1599.8,452.9 1600.0,452.0 1600.2,452.6 1600.4,452.6 1600.6,451.8 1600.8,454.9 1601.0,454.8 1601.2,455.7 1601.5,452.5 1601.7,455.7 1601.9,453.4 1602.1,452.7 1602.3,454.8 1602.5,454.0 1602.7,453.7 1602.9,452.7 1603.1,454.9 1603.3,453.0 1603.5,452.7 1603.7,453.2 1603.9,453.2 1604.1,452.1 1604.3,453.2 1604.5,453.4 1604.7,453.7 1604.9,452.7 1605.1,453.7 1605.3,452.7 1605.5,453.3 1605.7,452.3 1606.0,454.2 1606.2,453.3 1606.4,453.0 1606.6,453.0 1606.8,452.3 1607.0,453.0 1607.2,452.5 1607.4,451.4 1607.6,452.6 1607.8,454.4 1608.0,454.9" fill="none" stroke="#ec1c24" stroke-width="1.3" stroke-linejoin="round"/>
<path d="M1059.6,372.9 1059.8,382.7 1060.0,374.6 1060.2,376.4 1060.4,373.9 1060.6,375.8 1060.8,372.9 1061.0,376.5 1061.2,377.6 1061.4,375.4 1061.6,375.7 1061.9,377.3 1062.1,377.0 1062.3,375.1 1062.5,375.2 1062.7,377.5 1062.9,377.3 1063.1,380.1 1063.3,373.2 1063.5,377.0 1063.7,373.9 1063.9,375.7 1064.1,372.7 1064.3,373.5 1064.5,375.9 1064.7,373.6 1064.9,378.4 1065.1,374.1 1065.3,379.5 1065.5,375.9 1065.7,374.4 1065.9,376.1 1066.1,377.3 1066.4,378.1 1066.6,377.2 1066.8,374.5 1067.0,374.8 1067.2,377.1 1067.4,379.0 1067.6,375.2 1067.8,379.4 1068.0,377.6 1068.2,378.0 1068.4,375.1 1068.6,376.1 1068.8,375.7 1069.0,376.0 1069.2,377.9 1069.4,375.5 1069.6,373.8 1069.8,376.6 1070.0,375.3 1070.2,376.8 1070.4,374.5 1070.6,375.2 1070.9,374.8 1071.1,375.9 1071.3,373.3 1071.5,377.2 1071.7,377.2 1071.9,377.7 1072.1,375.4 1072.3,377.8 1072.5,377.8 1072.7,375.1 1072.9,374.3 1073.1,375.4 1073.3,381.8 1073.5,378.4 1073.7,378.6 1073.9,378.9 1074.1,377.4 1074.3,373.0 1074.5,377.1 1074.7,378.0 1074.9,375.2 1075.1,376.4 1075.4,376.3 1075.6,377.9 1075.8,376.6 1076.0,375.7 1076.2,380.3 1076.4,379.7 1076.6,374.4 1076.8,374.9 1077.0,377.5 1077.2,378.5 1077.4,376.9 1077.6,378.9 1077.8,377.2 1078.0,373.4 1078.2,376.3 1078.4,374.3 1078.6,377.0 1078.8,375.8 1079.0,373.9 1079.2,379.2 1079.4,377.2 1079.7,376.9 1079.9,376.0 1080.1,373.5 1080.3,375.2 1080.5,379.5 1080.7,377.1 1080.9,378.3 1081.1,378.3 1081.3,372.6 1081.5,378.6 1081.7,376.1 1081.9,378.0 1082.1,374.9 1082.3,375.9 1082.5,376.3 1082.7,376.7 1082.9,374.4 1083.1,378.4 1083.3,378.0 1083.5,378.7 1083.7,374.0 1083.9,377.1 1084.2,378.5 1084.4,377.4 1084.6,371.7 1084.8,376.7 1085.0,374.9 1085.2,375.7 1085.4,376.6 1085.6,377.9 1085.8,377.2 1086.0,377.2 1086.2,380.8 1086.4,371.6 1086.6,374.8 1086.8,376.3 1087.0,376.9 1087.2,378.1 1087.4,374.7 1087.6,376.9 1087.8,375.7 1088.0,379.2 1088.2,375.8 1088.4,372.7 1088.7,377.1 1088.9,375.0 1089.1,376.5 1089.3,374.5 1089.5,374.5 1089.7,376.4 1089.9,377.6 1090.1,376.0 1090.3,376.5 1090.5,377.7 1090.7,375.7 1090.9,375.7 1091.1,378.3 1091.3,376.8 1091.5,371.0 1091.7,375.0 1091.9,376.4 1092.1,371.8 1092.3,377.4 1092.5,381.3 1092.7,380.2 1092.9,379.4 1093.2,376.0 1093.4,374.7 1093.6,380.7 1093.8,374.4 1094.0,378.9 1094.2,376.1 1094.4,375.7 1094.6,375.7 1094.8,376.6 1095.0,376.3 1095.2,378.7 1095.4,376.0 1095.6,374.7 1095.8,374.8 1096.0,371.6 1096.2,374.5 1096.4,375.2 1096.6,373.4 1096.8,376.1 1097.0,379.0 1097.2,380.8 1097.5,374.1 1097.7,375.5 1097.9,375.0 1098.1,377.2 1098.3,375.9 1098.5,373.0 1098.7,375.9 1098.9,378.6 1099.1,377.4 1099.3,374.0 1099.5,378.6 1099.7,381.4 1099.9,380.9 1100.1,379.1 1100.3,375.1 1100.5,376.4 1100.7,378.0 1100.9,379.0 1101.1,376.8 1101.3,376.9 1101.5,377.6 1101.7,377.0 1102.0,378.0 1102.2,373.2 1102.4,381.0 1102.6,376.3 1102.8,378.4 1103.0,375.3 1103.2,377.0 1103.4,375.9 1103.6,375.6 1103.8,376.2 1104.0,374.7 1104.2,379.2 1104.4,374.8 1104.6,377.0 1104.8,375.9 1105.0,373.7 1105.2,374.5 1105.4,372.8 1105.6,380.8 1105.8,378.4 1106.0,374.8 1106.2,378.7 1106.5,376.9 1106.7,373.4 1106.9,374.9 1107.1,378.4 1107.3,375.7 1107.5,375.4 1107.7,376.4 1107.9,376.8 1108.1,376.3 1108.3,379.4 1108.5,376.3 1108.7,378.3 1108.9,375.8 1109.1,375.8 1109.3,378.2 1109.5,375.4 1109.7,375.9 1109.9,376.6 1110.1,375.2 1110.3,377.1 1110.5,377.1 1110.7,376.4 1111.0,376.7 1111.2,374.4 1111.4,380.9 1111.6,377.1 1111.8,380.3 1112.0,377.6 1112.2,376.2 1112.4,376.6 1112.6,374.8 1112.8,376.0 1113.0,381.7 1113.2,378.7 1113.4,373.8 1113.6,373.8 1113.8,376.5 1114.0,379.5 1114.2,372.7 1114.4,380.5 1114.6,376.1 1114.8,376.8 1115.0,376.3 1115.3,378.8 1115.5,377.4 1115.7,374.7 1115.9,377.6 1116.1,379.2 1116.3,376.7 1116.5,376.6 1116.7,377.0 1116.9,378.2 1117.1,375.7 1117.3,377.0 1117.5,378.9 1117.7,376.3 1117.9,376.8 1118.1,376.5 1118.3,379.9 1118.5,378.1 1118.7,375.9 1118.9,375.0 1119.1,376.1 1119.3,376.4 1119.5,375.4 1119.8,374.9 1120.0,373.4 1120.2,375.8 1120.4,377.7 1120.6,375.8 1120.8,380.2 1121.0,376.5 1121.2,377.4 1121.4,376.7 1121.6,375.7 1121.8,376.5 1122.0,379.3 1122.2,377.2 1122.4,378.0 1122.6,376.6 1122.8,375.9 1123.0,378.4 1123.2,375.3 1123.4,374.2 1123.6,377.1 1123.8,375.3 1124.0,379.3 1124.3,377.6 1124.5,374.8 1124.7,379.8 1124.9,377.5 1125.1,378.2 1125.3,374.5 1125.5,374.5 1125.7,377.7 1125.9,376.4 1126.1,381.3 1126.3,375.1 1126.5,375.9 1126.7,374.2 1126.9,380.9 1127.1,376.0 1127.3,377.2 1127.5,381.3 1127.7,377.8 1127.9,376.7 1128.1,375.1 1128.3,376.2 1128.6,377.5 1128.8,375.8 1129.0,376.8 1129.2,377.7 1129.4,378.4 1129.6,376.3 1129.8,376.3 1130.0,373.3 1130.2,377.4 1130.4,373.7 1130.6,375.9 1130.8,374.5 1131.0,378.2 1131.2,378.1 1131.4,377.1 1131.6,375.0 1131.8,376.3 1132.0,375.2 1132.2,376.0 1132.4,374.7 1132.6,376.2 1132.8,377.5 1133.1,375.7 1133.3,376.4 1133.5,373.4 1133.7,376.9 1133.9,376.4 1134.1,377.1 1134.3,374.5 1134.5,375.0 1134.7,375.4 1134.9,378.8 1135.1,379.3 1135.3,376.1 1135.5,375.3 1135.7,374.0 1135.9,379.8 1136.1,376.9 1136.3,379.6 1136.5,378.3 1136.7,377.0 1136.9,374.9 1137.1,377.5 1137.3,377.8 1137.6,377.1 1137.8,374.4 1138.0,372.3 1138.2,379.3 1138.4,377.1 1138.6,377.3 1138.8,374.5 1139.0,375.8 1139.2,373.8 1139.4,378.3 1139.6,376.6 1139.8,377.4 1140.0,378.5 1140.2,376.9 1140.4,378.7 1140.6,372.8 1140.8,375.8 1141.0,378.4 1141.2,377.6 1141.4,373.5 1141.6,377.4 1141.8,375.4 1142.1,375.5 1142.3,374.7 1142.5,375.5 1142.7,377.0 1142.9,377.6 1143.1,379.7 1143.3,376.7 1143.5,376.4 1143.7,377.2 1143.9,376.8 1144.1,378.7 1144.3,372.7 1144.5,377.5 1144.7,378.4 1144.9,377.6 1145.1,376.9 1145.3,375.3 1145.5,380.8 1145.7,375.7 1145.9,377.6 1146.1,376.9 1146.4,374.8 1146.6,375.2 1146.8,377.8 1147.0,376.8 1147.2,373.3 1147.4,374.2 1147.6,375.0 1147.8,376.5 1148.0,374.9 1148.2,375.9 1148.4,377.5 1148.6,378.3 1148.8,375.7 1149.0,375.9 1149.2,374.4 1149.4,377.4 1149.6,374.2 1149.8,377.2 1150.0,374.4 1150.2,375.7 1150.4,377.6 1150.6,378.3 1150.9,376.8 1151.1,377.0 1151.3,374.9 1151.5,377.8 1151.7,379.1 1151.9,376.6 1152.1,373.3 1152.3,373.7 1152.5,377.6 1152.7,377.0 1152.9,376.0 1153.1,377.7 1153.3,377.0 1153.5,377.0 1153.7,378.4 1153.9,377.6 1154.1,377.4 1154.3,376.2 1154.5,378.6 1154.7,376.4 1154.9,378.3 1155.1,378.0 1155.4,378.5 1155.6,369.7 1155.8,374.4 1156.0,374.3 1156.2,375.2 1156.4,377.0 1156.6,376.5 1156.8,376.1 1157.0,375.8 1157.2,375.5 1157.4,374.0 1157.6,381.7 1157.8,377.5 1158.0,375.4 1158.2,377.2 1158.4,376.8 1158.6,374.0 1158.8,376.2 1159.0,373.5 1159.2,376.6 1159.4,376.2 1159.6,378.4 1159.9,380.0 1160.1,377.3 1160.3,376.5 1160.5,377.1 1160.7,378.8 1160.9,375.4 1161.1,376.5 1161.3,376.6 1161.5,377.9 1161.7,373.8 1161.9,374.1 1162.1,376.0 1162.3,376.8 1162.5,376.1 1162.7,373.7 1162.9,371.8 1163.1,376.6 1163.3,377.3 1163.5,379.6 1163.7,371.9 1163.9,378.5 1164.2,375.1 1164.4,375.7 1164.6,374.4 1164.8,378.0 1165.0,379.3 1165.2,376.4 1165.4,375.9 1165.6,374.6 1165.8,379.4 1166.0,377.3 1166.2,377.0 1166.4,378.9 1166.6,376.8 1166.8,375.2 1167.0,376.6 1167.2,379.0 1167.4,376.0 1167.6,375.1 1167.8,375.7 1168.0,375.3 1168.2,379.4 1168.4,375.8 1168.7,375.6 1168.9,377.2 1169.1,376.7 1169.3,377.8 1169.5,374.5 1169.7,377.0 1169.9,378.1 1170.1,376.3 1170.3,376.4 1170.5,375.4 1170.7,377.9 1170.9,377.7 1171.1,375.9 1171.3,372.9 1171.5,375.8 1171.7,378.9 1171.9,376.3 1172.1,377.9 1172.3,379.6 1172.5,377.7 1172.7,377.5 1172.9,375.9 1173.2,374.4 1173.4,374.7 1173.6,375.2 1173.8,377.3 1174.0,376.3 1174.2,376.6 1174.4,374.2 1174.6,377.7 1174.8,377.5 1175.0,374.0 1175.2,375.6 1175.4,377.3 1175.6,376.3 1175.8,376.3 1176.0,376.3 1176.2,375.3 1176.4,375.9 1176.6,376.9 1176.8,377.4 1177.0,379.4 1177.2,377.3 1177.4,374.6 1177.7,376.2 1177.9,377.6 1178.1,377.0 1178.3,378.0 1178.5,376.0 1178.7,373.3 1178.9,373.6 1179.1,374.6 1179.3,375.3 1179.5,376.9 1179.7,378.6 1179.9,376.6 1180.1,377.3 1180.3,375.2 1180.5,376.3 1180.7,377.5 1180.9,375.8 1181.1,371.8 1181.3,378.1 1181.5,374.6 1181.7,375.5 1182.0,376.7 1182.2,377.9 1182.4,376.4 1182.6,376.2 1182.8,375.3 1183.0,375.4 1183.2,376.0 1183.4,377.6 1183.6,376.1 1183.8,377.3 1184.0,378.2 1184.2,375.0 1184.4,377.6 1184.6,378.5 1184.8,376.4 1185.0,379.7 1185.2,376.7 1185.4,375.9 1185.6,377.2 1185.8,376.2 1186.0,373.0 1186.2,374.2 1186.5,375.0 1186.7,375.5 1186.9,377.4 1187.1,376.8 1187.3,377.0 1187.5,376.6 1187.7,376.4 1187.9,377.9 1188.1,374.0 1188.3,378.2 1188.5,375.9 1188.7,374.8 1188.9,376.6 1189.1,377.7 1189.3,376.5 1189.5,373.5 1189.7,375.6 1189.9,377.0 1190.1,375.6 1190.3,376.9 1190.5,379.5 1190.7,376.1 1191.0,374.8 1191.2,374.7 1191.4,376.7 1191.6,378.8 1191.8,374.6 1192.0,376.8 1192.2,375.4 1192.4,374.8 1192.6,376.0 1192.8,376.7 1193.0,377.6 1193.2,377.2 1193.4,376.5 1193.6,377.2 1193.8,375.9 1194.0,379.7 1194.2,378.2 1194.4,376.5 1194.6,377.6 1194.8,377.3 1195.0,378.2 1195.2,375.5 1195.5,373.9 1195.7,378.1 1195.9,374.7 1196.1,378.9 1196.3,376.3 1196.5,379.7 1196.7,375.8 1196.9,376.5 1197.1,376.2 1197.3,374.7 1197.5,375.6 1197.7,376.6 1197.9,377.8 1198.1,376.4 1198.3,377.5 1198.5,377.1 1198.7,374.2 1198.9,375.1 1199.1,376.0 1199.3,375.5 1199.5,378.8 1199.8,376.2 1200.0,379.1 1200.2,377.7 1200.4,376.0 1200.6,376.0 1200.8,375.3 1201.0,376.2 1201.2,376.4 1201.4,376.5 1201.6,374.3 1201.8,374.5 1202.0,378.8 1202.2,376.3 1202.4,374.5 1202.6,377.0 1202.8,376.2 1203.0,377.4 1203.2,378.4 1203.4,376.3 1203.6,377.2 1203.8,376.7 1204.0,378.7 1204.3,378.3 1204.5,376.8 1204.7,377.1 1204.9,375.6 1205.1,378.2 1205.3,375.5 1205.5,375.5 1205.7,376.4 1205.9,375.5 1206.1,376.7 1206.3,376.7 1206.5,376.5 1206.7,378.3 1206.9,376.6 1207.1,375.2 1207.3,378.9 1207.5,375.3 1207.7,377.4 1207.9,376.9 1208.1,376.2 1208.3,375.9 1208.5,374.2 1208.8,376.3 1209.0,373.5 1209.2,376.1 1209.4,375.6 1209.6,375.1 1209.8,377.0 1210.0,377.5 1210.2,375.9 1210.4,374.5 1210.6,374.1 1210.8,376.4 1211.0,372.8 1211.2,375.9 1211.4,376.5 1211.6,373.6 1211.8,373.3 1212.0,376.7 1212.2,373.9 1212.4,377.0 1212.6,374.8 1212.8,371.5 1213.0,372.7 1213.3,373.8 1213.5,373.6 1213.7,375.6 1213.9,374.0 1214.1,373.6 1214.3,376.3 1214.5,373.9 1214.7,372.8 1214.9,373.8 1215.1,373.4 1215.3,373.9 1215.5,375.4 1215.7,373.6 1215.9,376.5 1216.1,374.2 1216.3,371.7 1216.5,370.8 1216.7,372.1 1216.9,376.2 1217.1,370.6 1217.3,371.9 1217.6,373.2 1217.8,370.8 1218.0,372.1 1218.2,373.7 1218.4,373.8 1218.6,370.3 1218.8,375.3 1219.0,370.6 1219.2,371.2 1219.4,369.9 1219.6,368.7 1219.8,369.4 1220.0,368.9 1220.2,370.0 1220.4,369.9 1220.6,369.7 1220.8,371.0 1221.0,371.8 1221.2,371.2 1221.4,373.0 1221.6,371.5 1221.8,367.9 1222.1,369.6 1222.3,370.4 1222.5,371.2 1222.7,372.5 1222.9,370.7 1223.1,371.1 1223.3,370.5 1223.5,369.5 1223.7,369.7 1223.9,372.2 1224.1,367.0 1224.3,369.0 1224.5,369.3 1224.7,369.9 1224.9,368.1 1225.1,367.1 1225.3,367.1 1225.5,369.6 1225.7,370.4 1225.9,371.2 1226.1,367.7 1226.3,367.2 1226.6,365.2 1226.8,367.4 1227.0,365.9 1227.2,367.8 1227.4,365.6 1227.6,365.5 1227.8,367.1 1228.0,368.8 1228.2,364.9 1228.4,370.5 1228.6,365.6 1228.8,367.7 1229.0,364.9 1229.2,367.7 1229.4,366.5 1229.6,367.5 1229.8,369.1 1230.0,368.4 1230.2,370.6 1230.4,368.5 1230.6,368.0 1230.9,368.8 1231.1,369.6 1231.3,368.1 1231.5,371.7 1231.7,370.1 1231.9,371.4 1232.1,373.0 1232.3,370.8 1232.5,374.2 1232.7,372.8 1232.9,372.5 1233.1,374.7 1233.3,373.7 1233.5,372.8 1233.7,372.5 1233.9,375.1 1234.1,373.0 1234.3,374.8 1234.5,374.0 1234.7,375.6 1234.9,373.2 1235.1,375.9 1235.4,374.3 1235.6,374.2 1235.8,374.0 1236.0,376.7 1236.2,373.9 1236.4,375.2 1236.6,372.9 1236.8,375.9 1237.0,376.4 1237.2,375.5 1237.4,376.1 1237.6,375.7 1237.8,377.8 1238.0,378.6 1238.2,377.7 1238.4,376.5 1238.6,375.3 1238.8,376.6 1239.0,377.5 1239.2,376.2 1239.4,375.8 1239.6,372.0 1239.9,374.3 1240.1,375.8 1240.3,378.1 1240.5,376.4 1240.7,376.6 1240.9,375.4 1241.1,373.1 1241.3,376.2 1241.5,379.0 1241.7,376.5 1241.9,378.6 1242.1,375.1 1242.3,374.8 1242.5,375.8 1242.7,378.4 1242.9,376.6 1243.1,374.5 1243.3,377.8 1243.5,377.2 1243.7,376.0 1243.9,375.6 1244.1,376.2 1244.4,375.9 1244.6,376.0 1244.8,377.2 1245.0,376.5 1245.2,375.9 1245.4,378.0 1245.6,376.0 1245.8,376.4 1246.0,375.8 1246.2,376.0 1246.4,377.9 1246.6,378.2 1246.8,376.1 1247.0,376.5 1247.2,376.3 1247.4,377.2 1247.6,378.3 1247.8,376.1 1248.0,376.6 1248.2,375.5 1248.4,375.0 1248.7,375.0 1248.9,375.2 1249.1,377.8 1249.3,379.4 1249.5,377.3 1249.7,378.3 1249.9,378.4 1250.1,375.5 1250.3,378.7 1250.5,375.2 1250.7,375.0 1250.9,372.7 1251.1,375.1 1251.3,373.6 1251.5,377.3 1251.7,377.4 1251.9,375.1 1252.1,378.3 1252.3,374.9 1252.5,376.8 1252.7,379.2 1252.9,373.8 1253.2,378.1 1253.4,373.0 1253.6,378.4 1253.8,377.7 1254.0,376.1 1254.2,376.4 1254.4,378.6 1254.6,376.3 1254.8,376.3 1255.0,375.8 1255.2,378.8 1255.4,377.4 1255.6,376.6 1255.8,375.4 1256.0,376.3 1256.2,377.0 1256.4,377.1 1256.6,374.4 1256.8,377.6 1257.0,376.2 1257.2,379.5 1257.4,374.1 1257.7,375.8 1257.9,378.9 1258.1,375.6 1258.3,374.5 1258.5,375.3 1258.7,376.3 1258.9,375.2 1259.1,377.5 1259.3,376.9 1259.5,377.0 1259.7,376.4 1259.9,377.9 1260.1,374.6 1260.3,376.7 1260.5,377.9 1260.7,376.7 1260.9,376.0 1261.1,376.4 1261.3,375.1 1261.5,377.0 1261.7,377.5 1261.9,375.8 1262.2,374.7 1262.4,377.9 1262.6,378.7 1262.8,377.5 1263.0,376.6 1263.2,377.9 1263.4,376.3 1263.6,377.7 1263.8,375.3 1264.0,378.1 1264.2,377.6 1264.4,376.3 1264.6,375.6 1264.8,375.1 1265.0,377.4 1265.2,376.3 1265.4,375.7 1265.6,374.6 1265.8,377.7 1266.0,378.2 1266.2,375.7 1266.5,376.8 1266.7,374.7 1266.9,376.6 1267.1,376.1 1267.3,377.6 1267.5,376.1 1267.7,374.7 1267.9,376.8 1268.1,378.1 1268.3,375.3 1268.5,376.9 1268.7,376.5 1268.9,377.4 1269.1,375.2 1269.3,377.5 1269.5,377.1 1269.7,376.5 1269.9,376.7 1270.1,379.4 1270.3,375.9 1270.5,377.9 1270.7,376.0 1271.0,377.0 1271.2,376.6 1271.4,377.4 1271.6,377.9 1271.8,376.4 1272.0,376.2 1272.2,375.2 1272.4,375.7 1272.6,377.4 1272.8,374.8 1273.0,373.5 1273.2,375.3 1273.4,376.6 1273.6,377.6 1273.8,376.3 1274.0,378.3 1274.2,375.3 1274.4,376.9 1274.6,377.2 1274.8,376.2 1275.0,378.0 1275.2,378.7 1275.5,377.0 1275.7,374.7 1275.9,377.4 1276.1,375.2 1276.3,378.9 1276.5,376.4 1276.7,375.7 1276.9,373.9 1277.1,378.7 1277.3,376.4 1277.5,377.5 1277.7,375.9 1277.9,377.0 1278.1,376.2 1278.3,377.3 1278.5,377.1 1278.7,376.0 1278.9,374.5 1279.1,376.1 1279.3,376.2 1279.5,376.8 1279.7,374.1 1280.0,378.9 1280.2,378.9 1280.4,377.3 1280.6,375.7 1280.8,374.8 1281.0,375.5 1281.2,375.2 1281.4,376.0 1281.6,376.9 1281.8,377.6 1282.0,375.7 1282.2,377.4 1282.4,375.5 1282.6,375.3 1282.8,376.8 1283.0,376.8 1283.2,376.9 1283.4,375.2 1283.6,375.7 1283.8,377.0 1284.0,375.6 1284.3,374.2 1284.5,375.6 1284.7,375.6 1284.9,376.7 1285.1,377.2 1285.3,376.0 1285.5,375.9 1285.7,376.5 1285.9,374.3 1286.1,376.3 1286.3,376.1 1286.5,375.5 1286.7,375.1 1286.9,378.1 1287.1,375.1 1287.3,374.0 1287.5,377.1 1287.7,375.1 1287.9,376.2 1288.1,376.8 1288.3,375.1 1288.5,375.7 1288.8,377.9 1289.0,376.1 1289.2,374.1 1289.4,376.1 1289.6,375.9 1289.8,375.5 1290.0,375.6 1290.2,373.8 1290.4,376.0 1290.6,376.2 1290.8,374.3 1291.0,372.9 1291.2,373.7 1291.4,373.5 1291.6,375.2 1291.8,375.9 1292.0,375.2 1292.2,373.8 1292.4,376.1 1292.6,374.3 1292.8,373.0 1293.0,373.9 1293.3,370.9 1293.5,372.1 1293.7,374.3 1293.9,373.7 1294.1,372.6 1294.3,370.6 1294.5,370.3 1294.7,371.5 1294.9,368.5 1295.1,366.9 1295.3,365.8 1295.5,367.2 1295.7,365.8 1295.9,362.4 1296.1,360.8 1296.3,356.7 1296.5,354.2 1296.7,352.3 1296.9,349.1 1297.1,344.8 1297.3,340.8 1297.5,336.5 1297.8,332.2 1298.0,332.2 1298.2,326.8 1298.4,325.2 1298.6,327.5 1298.8,327.2 1299.0,326.4 1299.2,327.4 1299.4,330.2 1299.6,334.5 1299.8,335.3 1300.0,338.7 1300.2,344.4 1300.4,342.5 1300.6,345.8 1300.8,345.5 1301.0,347.4 1301.2,348.0 1301.4,353.4 1301.6,352.7 1301.8,352.1 1302.1,348.0 1302.3,349.8 1302.5,347.6 1302.7,344.9 1302.9,336.2 1303.1,329.1 1303.3,319.4 1303.5,308.0 1303.7,297.5 1303.9,280.7 1304.1,269.0 1304.3,262.0 1304.5,261.1 1304.7,266.3 1304.9,270.2 1305.1,279.1 1305.3,283.9 1305.5,291.7 1305.7,301.6 1305.9,312.9 1306.1,322.3 1306.3,333.6 1306.6,339.3 1306.8,344.7 1307.0,349.1 1307.2,354.6 1307.4,357.2 1307.6,360.1 1307.8,364.5 1308.0,363.5 1308.2,367.6 1308.4,366.7 1308.6,366.0 1308.8,368.1 1309.0,370.7 1309.2,368.7 1309.4,369.8 1309.6,371.6 1309.8,371.5 1310.0,372.4 1310.2,372.1 1310.4,372.0 1310.6,374.5 1310.8,371.4 1311.1,370.6 1311.3,373.5 1311.5,374.7 1311.7,373.8 1311.9,372.3 1312.1,374.5 1312.3,373.4 1312.5,371.8 1312.7,375.3 1312.9,374.2 1313.1,375.2 1313.3,375.0 1313.5,374.7 1313.7,375.8 1313.9,374.2 1314.1,374.4 1314.3,373.7 1314.5,374.2 1314.7,374.8 1314.9,373.6 1315.1,375.5 1315.3,374.6 1315.6,376.5 1315.8,373.7 1316.0,376.4 1316.2,374.5 1316.4,376.5 1316.6,375.0 1316.8,377.1 1317.0,376.7 1317.2,376.6 1317.4,375.1 1317.6,375.0 1317.8,374.8 1318.0,375.2 1318.2,376.0 1318.4,374.8 1318.6,374.2 1318.8,376.2 1319.0,376.9 1319.2,375.4 1319.4,373.4 1319.6,375.8 1319.9,376.2 1320.1,377.1 1320.3,376.6 1320.5,377.0 1320.7,377.2 1320.9,374.6 1321.1,374.6 1321.3,375.6 1321.5,375.8 1321.7,375.0 1321.9,376.0 1322.1,375.8 1322.3,375.1 1322.5,376.1 1322.7,374.5 1322.9,372.2 1323.1,376.2 1323.3,375.6 1323.5,377.0 1323.7,376.7 1323.9,375.9 1324.1,375.7 1324.4,376.3 1324.6,377.5 1324.8,375.7 1325.0,376.8 1325.2,375.6 1325.4,376.6 1325.6,376.3 1325.8,376.2 1326.0,378.7 1326.2,374.7 1326.4,377.4 1326.6,375.8 1326.8,375.5 1327.0,376.8 1327.2,377.8 1327.4,375.4 1327.6,377.3 1327.8,376.3 1328.0,375.6 1328.2,376.8 1328.4,378.2 1328.6,377.2 1328.9,375.8 1329.1,377.1 1329.3,375.3 1329.5,378.1 1329.7,377.5 1329.9,378.3 1330.1,377.5 1330.3,374.6 1330.5,375.5 1330.7,376.7 1330.9,377.1 1331.1,374.9 1331.3,376.5 1331.5,377.6 1331.7,374.6 1331.9,378.0 1332.1,376.1 1332.3,375.6 1332.5,375.2 1332.7,374.0 1332.9,375.3 1333.2,377.1 1333.4,375.0 1333.6,376.0 1333.8,377.8 1334.0,377.7 1334.2,377.4 1334.4,379.0 1334.6,376.0 1334.8,375.8 1335.0,375.9 1335.2,377.4 1335.4,376.4 1335.6,375.0 1335.8,376.0 1336.0,376.6 1336.2,377.4 1336.4,376.5 1336.6,374.9 1336.8,376.6 1337.0,373.8 1337.2,373.5 1337.4,375.6 1337.7,378.5 1337.9,376.9 1338.1,375.0 1338.3,377.2 1338.5,377.3 1338.7,376.5 1338.9,373.3 1339.1,377.1 1339.3,378.8 1339.5,376.2 1339.7,375.9 1339.9,375.7 1340.1,376.4 1340.3,376.1 1340.5,377.1 1340.7,375.3 1340.9,376.5 1341.1,375.9 1341.3,377.3 1341.5,374.9 1341.7,376.2 1341.9,377.1 1342.2,376.5 1342.4,377.8 1342.6,377.3 1342.8,375.6 1343.0,375.9 1343.2,375.6 1343.4,375.8 1343.6,376.9 1343.8,376.5 1344.0,374.4 1344.2,376.6 1344.4,378.4 1344.6,376.5 1344.8,377.1 1345.0,376.7 1345.2,376.6 1345.4,377.7 1345.6,376.1 1345.8,376.9 1346.0,375.9 1346.2,377.5 1346.4,377.6 1346.7,377.2 1346.9,374.6 1347.1,378.9 1347.3,375.3 1347.5,376.7 1347.7,375.3 1347.9,377.1 1348.1,376.1 1348.3,376.2 1348.5,374.1 1348.7,376.7 1348.9,376.3 1349.1,377.5 1349.3,376.2 1349.5,377.4 1349.7,376.8 1349.9,376.2 1350.1,375.9 1350.3,377.6 1350.5,377.7 1350.7,375.2 1351.0,377.2 1351.2,376.5 1351.4,376.9 1351.6,378.6 1351.8,376.8 1352.0,376.6 1352.2,374.5 1352.4,378.8 1352.6,377.2 1352.8,375.9 1353.0,377.3 1353.2,379.3 1353.4,376.0 1353.6,376.3 1353.8,377.6 1354.0,377.8 1354.2,377.3 1354.4,376.5 1354.6,376.8 1354.8,377.4 1355.0,376.2 1355.2,375.5 1355.5,377.2 1355.7,374.7 1355.9,376.5 1356.1,376.0 1356.3,376.1 1356.5,376.1 1356.7,376.1 1356.9,379.3 1357.1,377.7 1357.3,375.5 1357.5,377.8 1357.7,376.4 1357.9,378.4 1358.1,377.3 1358.3,374.8 1358.5,376.2 1358.7,377.5 1358.9,377.4 1359.1,378.5 1359.3,376.1 1359.5,376.8 1359.7,375.7 1360.0,375.6 1360.2,376.9 1360.4,377.7 1360.6,378.0 1360.8,377.0 1361.0,376.6 1361.2,374.9 1361.4,377.6 1361.6,375.9 1361.8,377.6 1362.0,377.1 1362.2,375.6 1362.4,376.0 1362.6,377.2 1362.8,377.2 1363.0,375.2 1363.2,376.6 1363.4,377.0 1363.6,377.6 1363.8,373.4 1364.0,374.2 1364.2,375.7 1364.5,373.7 1364.7,375.6 1364.9,376.6 1365.1,375.5 1365.3,374.3 1365.5,377.1 1365.7,374.4 1365.9,374.5 1366.1,373.6 1366.3,375.0 1366.5,374.0 1366.7,377.1 1366.9,375.1 1367.1,373.9 1367.3,374.1 1367.5,374.4 1367.7,375.3 1367.9,374.3 1368.1,375.2 1368.3,373.3 1368.5,372.3 1368.8,373.1 1369.0,371.9 1369.2,371.8 1369.4,370.3 1369.6,370.6 1369.8,372.2 1370.0,371.8 1370.2,370.5 1370.4,368.5 1370.6,368.3 1370.8,368.9 1371.0,367.8 1371.2,368.7 1371.4,365.6 1371.6,367.8 1371.8,365.8 1372.0,366.0 1372.2,366.8 1372.4,366.9 1372.6,365.6 1372.8,367.5 1373.0,364.9 1373.3,364.5 1373.5,366.5 1373.7,366.8 1373.9,366.8 1374.1,369.1 1374.3,366.9 1374.5,368.9 1374.7,368.1 1374.9,369.2 1375.1,370.2 1375.3,369.1 1375.5,371.0 1375.7,371.7 1375.9,372.3 1376.1,374.4 1376.3,374.4 1376.5,371.5 1376.7,372.3 1376.9,374.4 1377.1,373.2 1377.3,372.5 1377.5,373.3 1377.8,373.2 1378.0,377.2 1378.2,374.4 1378.4,376.3 1378.6,374.3 1378.8,376.0 1379.0,375.4 1379.2,374.3 1379.4,377.3 1379.6,376.5 1379.8,376.5 1380.0,375.8 1380.2,377.7 1380.4,374.9 1380.6,373.7 1380.8,376.3 1381.0,375.4 1381.2,379.1 1381.4,377.5 1381.6,375.3 1381.8,375.6 1382.0,375.4 1382.3,374.8 1382.5,376.0 1382.7,376.5 1382.9,376.7 1383.1,376.2 1383.3,378.7 1383.5,374.5 1383.7,378.8 1383.9,378.3 1384.1,376.2 1384.3,375.4 1384.5,375.7 1384.7,374.7 1384.9,377.0 1385.1,377.2 1385.3,375.9 1385.5,377.8 1385.7,376.0 1385.9,376.0 1386.1,376.1 1386.3,378.9 1386.6,376.8 1386.8,379.0 1387.0,375.6 1387.2,377.1 1387.4,375.4 1387.6,375.0 1387.8,378.0 1388.0,375.5 1388.2,376.2 1388.4,374.8 1388.6,378.0 1388.8,378.1 1389.0,377.4 1389.2,378.7 1389.4,376.4 1389.6,377.4 1389.8,376.4 1390.0,376.2 1390.2,375.7 1390.4,378.1 1390.6,375.8 1390.8,375.8 1391.1,377.7 1391.3,377.3 1391.5,378.3 1391.7,375.2 1391.9,375.1 1392.1,377.7 1392.3,376.7 1392.5,376.3 1392.7,375.9 1392.9,376.8 1393.1,374.8 1393.3,377.8 1393.5,375.7 1393.7,376.6 1393.9,376.4 1394.1,377.6 1394.3,378.7 1394.5,377.3 1394.7,376.1 1394.9,377.7 1395.1,378.7 1395.3,376.9 1395.6,376.8 1395.8,377.9 1396.0,376.8 1396.2,376.2 1396.4,376.5 1396.6,375.6 1396.8,375.4 1397.0,376.7 1397.2,377.7 1397.4,378.7 1397.6,375.6 1397.8,376.3 1398.0,375.6 1398.2,377.6 1398.4,376.5 1398.6,377.6 1398.8,377.8 1399.0,378.4 1399.2,377.1 1399.4,376.2 1399.6,375.8 1399.8,376.4 1400.1,377.1 1400.3,374.4 1400.5,374.9 1400.7,375.5 1400.9,376.5 1401.1,375.3 1401.3,377.6 1401.5,378.2 1401.7,376.0 1401.9,376.5 1402.1,375.5 1402.3,377.6 1402.5,376.4 1402.7,377.9 1402.9,377.2 1403.1,376.2 1403.3,376.9 1403.5,377.8 1403.7,378.5 1403.9,377.2 1404.1,377.8 1404.4,378.4 1404.6,376.7 1404.8,377.7 1405.0,375.3 1405.2,374.3 1405.4,375.5 1405.6,373.5 1405.8,378.1 1406.0,378.7 1406.2,376.9 1406.4,378.8 1406.6,376.6 1406.8,375.7 1407.0,375.8 1407.2,375.7 1407.4,377.0 1407.6,376.9 1407.8,376.5 1408.0,376.8 1408.2,375.7 1408.4,377.2 1408.6,376.8 1408.9,377.5 1409.1,375.7 1409.3,376.6 1409.5,376.6 1409.7,377.3 1409.9,378.8 1410.1,377.3 1410.3,379.2 1410.5,376.9 1410.7,378.2 1410.9,375.3 1411.1,377.5 1411.3,376.9 1411.5,377.3 1411.7,378.1 1411.9,378.5 1412.1,379.6 1412.3,377.5 1412.5,379.1 1412.7,375.5 1412.9,378.3 1413.1,377.5 1413.4,376.9 1413.6,377.0 1413.8,375.5 1414.0,376.9 1414.2,377.4 1414.4,376.9 1414.6,375.1 1414.8,375.9 1415.0,379.0 1415.2,377.0 1415.4,377.8 1415.6,376.7 1415.8,376.0 1416.0,376.7 1416.2,376.1 1416.4,374.8 1416.6,378.8 1416.8,376.8 1417.0,376.7 1417.2,376.3 1417.4,376.7 1417.6,375.7 1417.9,376.8 1418.1,376.3 1418.3,378.5 1418.5,376.5 1418.7,378.2 1418.9,376.2 1419.1,374.8 1419.3,376.8 1419.5,376.3 1419.7,375.9 1419.9,375.2 1420.1,375.9 1420.3,375.4 1420.5,377.3 1420.7,376.9 1420.9,378.4 1421.1,374.3 1421.3,378.1 1421.5,375.7 1421.7,376.6 1421.9,376.6 1422.2,378.1 1422.4,376.8 1422.6,376.6 1422.8,376.2 1423.0,377.1 1423.2,376.5 1423.4,377.8 1423.6,375.3 1423.8,377.5 1424.0,372.7 1424.2,377.1 1424.4,377.5 1424.6,376.5 1424.8,376.9 1425.0,375.5 1425.2,375.4 1425.4,377.4 1425.6,377.5 1425.8,377.5 1426.0,376.2 1426.2,375.6 1426.4,375.9 1426.7,376.9 1426.9,376.7 1427.1,376.0 1427.3,375.3 1427.5,376.8 1427.7,375.3 1427.9,377.1 1428.1,376.4 1428.3,375.4 1428.5,377.7 1428.7,378.7 1428.9,378.0 1429.1,376.8 1429.3,377.8 1429.5,376.8 1429.7,375.1 1429.9,377.1 1430.1,375.2 1430.3,375.7 1430.5,377.9 1430.7,375.7 1430.9,375.7 1431.2,375.6 1431.4,376.5 1431.6,376.4 1431.8,377.3 1432.0,377.7 1432.2,376.7 1432.4,375.9 1432.6,377.4 1432.8,374.8 1433.0,377.2 1433.2,376.3 1433.4,378.2 1433.6,375.0 1433.8,375.8 1434.0,375.2 1434.2,378.0 1434.4,375.0 1434.6,376.1 1434.8,377.4 1435.0,377.1 1435.2,378.3 1435.5,376.8 1435.7,375.6 1435.9,377.6 1436.1,376.2 1436.3,378.0 1436.5,379.6 1436.7,376.9 1436.9,375.0 1437.1,375.3 1437.3,377.4 1437.5,375.2 1437.7,375.5 1437.9,376.3 1438.1,377.1 1438.3,375.6 1438.5,376.8 1438.7,377.1 1438.9,375.5 1439.1,377.5 1439.3,375.9 1439.5,375.0 1439.7,377.4 1440.0,376.5 1440.2,376.1 1440.4,378.7 1440.6,377.3 1440.8,377.3 1441.0,377.3 1441.2,377.7 1441.4,375.3 1441.6,377.8 1441.8,376.9 1442.0,376.1 1442.2,375.0 1442.4,378.6 1442.6,378.2 1442.8,378.0 1443.0,377.1 1443.2,375.7 1443.4,376.9 1443.6,376.6 1443.8,375.1 1444.0,377.2 1444.2,376.6 1444.5,374.5 1444.7,375.9 1444.9,377.4 1445.1,377.5 1445.3,375.5 1445.5,378.0 1445.7,377.8 1445.9,375.9 1446.1,375.3 1446.3,374.9 1446.5,377.9 1446.7,376.2 1446.9,380.5 1447.1,377.7 1447.3,373.5 1447.5,375.0 1447.7,375.9 1447.9,377.7 1448.1,378.1 1448.3,375.5 1448.5,376.9 1448.7,377.6 1449.0,375.9 1449.2,375.9 1449.4,377.5 1449.6,377.2 1449.8,374.2 1450.0,377.8 1450.2,375.6 1450.4,377.5 1450.6,377.7 1450.8,377.9 1451.0,376.8 1451.2,376.7 1451.4,375.9 1451.6,377.6 1451.8,376.2 1452.0,377.3 1452.2,377.5 1452.4,376.0 1452.6,376.2 1452.8,378.4 1453.0,376.5 1453.3,378.8 1453.5,377.9 1453.7,374.9 1453.9,375.3 1454.1,377.0 1454.3,376.1 1454.5,375.3 1454.7,374.8 1454.9,374.9 1455.1,377.6 1455.3,376.8 1455.5,376.6 1455.7,379.5 1455.9,377.6 1456.1,376.3 1456.3,377.0 1456.5,377.5 1456.7,378.1 1456.9,377.4 1457.1,376.8 1457.3,377.2 1457.5,375.5 1457.8,375.9 1458.0,378.2 1458.2,375.7 1458.4,376.8 1458.6,376.0 1458.8,377.5 1459.0,375.8 1459.2,377.6 1459.4,375.6 1459.6,376.8 1459.8,377.1 1460.0,378.3 1460.2,378.6 1460.4,375.8 1460.6,378.1 1460.8,378.1 1461.0,376.4 1461.2,376.8 1461.4,376.1 1461.6,378.2 1461.8,379.2 1462.0,377.8 1462.3,375.7 1462.5,376.8 1462.7,376.3 1462.9,376.2 1463.1,376.6 1463.3,376.6 1463.5,377.0 1463.7,376.6 1463.9,376.4 1464.1,377.5 1464.3,376.1 1464.5,376.8 1464.7,376.9 1464.9,377.0 1465.1,375.8 1465.3,377.0 1465.5,375.5 1465.7,377.9 1465.9,376.1 1466.1,378.5 1466.3,376.7 1466.5,377.4 1466.8,377.3 1467.0,378.0 1467.2,376.8 1467.4,376.2 1467.6,378.8 1467.8,377.0 1468.0,376.6 1468.2,376.1 1468.4,376.4 1468.6,378.0 1468.8,375.7 1469.0,377.8 1469.2,376.2 1469.4,376.6 1469.6,377.5 1469.8,377.8 1470.0,377.0 1470.2,375.2 1470.4,376.1 1470.6,377.5 1470.8,376.0 1471.1,375.0 1471.3,374.4 1471.5,378.7 1471.7,376.0 1471.9,375.9 1472.1,377.7 1472.3,378.9 1472.5,375.4 1472.7,377.3 1472.9,378.6 1473.1,378.0 1473.3,376.0 1473.5,374.4 1473.7,375.8 1473.9,377.7 1474.1,375.4 1474.3,378.9 1474.5,375.7 1474.7,375.8 1474.9,374.8 1475.1,375.7 1475.3,375.5 1475.6,376.7 1475.8,377.2 1476.0,376.8 1476.2,374.7 1476.4,377.4 1476.6,376.9 1476.8,377.3 1477.0,376.0 1477.2,376.2 1477.4,374.5 1477.6,374.4 1477.8,375.5 1478.0,375.8 1478.2,376.9 1478.4,378.4 1478.6,376.6 1478.8,376.7 1479.0,378.0 1479.2,376.5 1479.4,375.7 1479.6,377.8 1479.8,375.8 1480.1,376.3 1480.3,377.4 1480.5,376.7 1480.7,375.9 1480.9,377.0 1481.1,376.9 1481.3,375.3 1481.5,376.2 1481.7,376.2 1481.9,377.3 1482.1,376.0 1482.3,375.1 1482.5,377.8 1482.7,378.6 1482.9,377.7 1483.1,376.9 1483.3,377.9 1483.5,378.6 1483.7,375.0 1483.9,377.2 1484.1,377.7 1484.3,380.0 1484.6,375.8 1484.8,378.5 1485.0,375.3 1485.2,376.2 1485.4,376.6 1485.6,377.0 1485.8,375.7 1486.0,377.4 1486.2,376.4 1486.4,377.3 1486.6,377.1 1486.8,375.1 1487.0,375.5 1487.2,377.8 1487.4,377.7 1487.6,376.7 1487.8,376.9 1488.0,376.3 1488.2,377.2 1488.4,378.0 1488.6,375.9 1488.9,377.1 1489.1,376.1 1489.3,377.8 1489.5,375.1 1489.7,376.5 1489.9,376.5 1490.1,376.4 1490.3,378.5 1490.5,376.0 1490.7,377.4 1490.9,378.0 1491.1,376.4 1491.3,374.9 1491.5,377.6 1491.7,375.1 1491.9,379.2 1492.1,376.5 1492.3,377.5 1492.5,376.6 1492.7,374.4 1492.9,376.1 1493.1,378.4 1493.4,375.2 1493.6,378.0 1493.8,377.4 1494.0,377.8 1494.2,376.7 1494.4,376.9 1494.6,375.0 1494.8,376.4 1495.0,376.0 1495.2,377.0 1495.4,375.5 1495.6,378.0 1495.8,378.4 1496.0,375.8 1496.2,375.9 1496.4,376.7 1496.6,374.3 1496.8,377.8 1497.0,375.2 1497.2,375.1 1497.4,378.2 1497.6,376.2 1497.9,375.9 1498.1,376.9 1498.3,376.9 1498.5,376.8 1498.7,377.7 1498.9,378.3 1499.1,375.9 1499.3,376.5 1499.5,376.7 1499.7,376.2 1499.9,377.7 1500.1,377.5 1500.3,375.9 1500.5,376.8 1500.7,376.2 1500.9,375.6 1501.1,374.8 1501.3,377.8 1501.5,377.4 1501.7,378.4 1501.9,377.6 1502.1,376.2 1502.4,377.4 1502.6,374.4 1502.8,377.3 1503.0,378.7 1503.2,377.8 1503.4,374.5 1503.6,377.8 1503.8,376.9 1504.0,377.7 1504.2,378.0 1504.4,375.5 1504.6,378.1 1504.8,378.8 1505.0,377.6 1505.2,377.6 1505.4,376.3 1505.6,376.7 1505.8,375.4 1506.0,377.0 1506.2,376.3 1506.4,376.3 1506.7,375.7 1506.9,378.1 1507.1,377.2 1507.3,379.8 1507.5,377.7 1507.7,378.1 1507.9,377.8 1508.1,375.1 1508.3,375.6 1508.5,378.5 1508.7,374.8 1508.9,375.4 1509.1,376.6 1509.3,376.9 1509.5,376.9 1509.7,376.9 1509.9,376.1 1510.1,377.1 1510.3,375.7 1510.5,377.2 1510.7,377.6 1510.9,377.0 1511.2,376.4 1511.4,376.4 1511.6,376.8 1511.8,378.5 1512.0,378.3 1512.2,378.7 1512.4,377.1 1512.6,376.1 1512.8,376.8 1513.0,376.9 1513.2,377.4 1513.4,377.2 1513.6,377.6 1513.8,375.6 1514.0,378.2 1514.2,377.8 1514.4,376.3 1514.6,377.2 1514.8,376.1 1515.0,377.3 1515.2,376.3 1515.4,376.6 1515.7,378.2 1515.9,376.2 1516.1,375.4 1516.3,377.5 1516.5,377.0 1516.7,376.1 1516.9,375.1 1517.1,376.4 1517.3,374.3 1517.5,377.3 1517.7,374.7 1517.9,377.7 1518.1,376.8 1518.3,377.8 1518.5,375.7 1518.7,376.1 1518.9,378.7 1519.1,379.7 1519.3,374.5 1519.5,377.1 1519.7,378.6 1519.9,377.8 1520.2,377.3 1520.4,375.1 1520.6,376.4 1520.8,376.8 1521.0,377.8 1521.2,376.1 1521.4,378.7 1521.6,375.6 1521.8,375.8 1522.0,377.3 1522.2,378.5 1522.4,377.5 1522.6,377.0 1522.8,374.6 1523.0,374.9 1523.2,377.5 1523.4,377.7 1523.6,378.3 1523.8,376.4 1524.0,377.4 1524.2,376.0 1524.5,376.8 1524.7,377.4 1524.9,377.9 1525.1,378.6 1525.3,376.2 1525.5,378.3 1525.7,376.1 1525.9,378.6 1526.1,379.6 1526.3,376.8 1526.5,377.5 1526.7,375.8 1526.9,376.8 1527.1,376.9 1527.3,375.9 1527.5,377.5 1527.7,376.1 1527.9,374.2 1528.1,376.6 1528.3,377.8 1528.5,376.9 1528.7,377.7 1529.0,377.2 1529.2,375.0 1529.4,377.9 1529.6,378.2 1529.8,376.2 1530.0,377.3 1530.2,377.0 1530.4,377.5 1530.6,376.6 1530.8,375.2 1531.0,376.1 1531.2,377.3 1531.4,377.2 1531.6,377.8 1531.8,377.8 1532.0,375.8 1532.2,376.2 1532.4,376.3 1532.6,376.2 1532.8,377.5 1533.0,376.8 1533.2,376.2 1533.5,375.1 1533.7,376.5 1533.9,376.7 1534.1,377.6 1534.3,375.7 1534.5,377.1 1534.7,376.5 1534.9,376.4 1535.1,377.6 1535.3,376.5 1535.5,375.6 1535.7,377.7 1535.9,377.4 1536.1,377.7 1536.3,376.7 1536.5,374.6 1536.7,376.4 1536.9,375.5 1537.1,376.5 1537.3,377.2 1537.5,376.8 1537.8,376.5 1538.0,377.0 1538.2,376.9 1538.4,376.7 1538.6,377.5 1538.8,375.1 1539.0,376.3 1539.2,376.9 1539.4,377.4 1539.6,376.4 1539.8,377.6 1540.0,378.1 1540.2,377.2 1540.4,375.5 1540.6,377.0 1540.8,376.6 1541.0,377.8 1541.2,376.2 1541.4,377.4 1541.6,377.4 1541.8,377.6 1542.0,376.9 1542.3,377.9 1542.5,377.2 1542.7,377.0 1542.9,377.8 1543.1,378.9 1543.3,376.3 1543.5,378.1 1543.7,378.9 1543.9,376.8 1544.1,376.9 1544.3,375.6 1544.5,375.5 1544.7,379.1 1544.9,377.4 1545.1,376.5 1545.3,378.2 1545.5,375.6 1545.7,376.4 1545.9,377.5 1546.1,377.3 1546.3,376.4 1546.5,374.6 1546.8,374.8 1547.0,378.3 1547.2,376.2 1547.4,378.4 1547.6,377.0 1547.8,377.9 1548.0,377.1 1548.2,377.3 1548.4,376.4 1548.6,377.6 1548.8,376.1 1549.0,376.9 1549.2,377.8 1549.4,375.3 1549.6,376.5 1549.8,377.0 1550.0,376.7 1550.2,376.1 1550.4,377.0 1550.6,377.5 1550.8,377.0 1551.0,377.4 1551.3,377.4 1551.5,375.1 1551.7,376.0 1551.9,375.4 1552.1,377.4 1552.3,378.7 1552.5,377.2 1552.7,376.3 1552.9,377.4 1553.1,376.6 1553.3,377.8 1553.5,376.3 1553.7,377.3 1553.9,376.8 1554.1,376.1 1554.3,377.6 1554.5,378.0 1554.7,377.7 1554.9,376.2 1555.1,377.2 1555.3,375.7 1555.6,376.3 1555.8,375.7 1556.0,376.7 1556.2,375.5 1556.4,376.1 1556.6,378.9 1556.8,375.3 1557.0,375.9 1557.2,377.3 1557.4,378.1 1557.6,378.8 1557.8,376.7 1558.0,377.7 1558.2,378.0 1558.4,377.8 1558.6,378.5 1558.8,375.8 1559.0,377.7 1559.2,376.8 1559.4,376.7 1559.6,376.4 1559.8,377.0 1560.1,376.0 1560.3,377.5 1560.5,374.6 1560.7,378.5 1560.9,376.1 1561.1,374.5 1561.3,377.8 1561.5,375.3 1561.7,374.7 1561.9,377.3 1562.1,375.2 1562.3,377.4 1562.5,376.5 1562.7,377.0 1562.9,377.8 1563.1,378.0 1563.3,377.4 1563.5,378.4 1563.7,376.6 1563.9,376.7 1564.1,375.7 1564.3,376.4 1564.6,377.0 1564.8,377.1 1565.0,374.2 1565.2,378.5 1565.4,378.2 1565.6,374.5 1565.8,375.7 1566.0,376.6 1566.2,376.2 1566.4,375.7 1566.6,378.3 1566.8,377.1 1567.0,376.1 1567.2,376.1 1567.4,375.6 1567.6,376.6 1567.8,377.2 1568.0,377.5 1568.2,376.1 1568.4,376.8 1568.6,376.3 1568.8,375.3 1569.1,375.5 1569.3,378.1 1569.5,375.6 1569.7,377.8 1569.9,378.5 1570.1,374.5 1570.3,376.5 1570.5,377.4 1570.7,377.2 1570.9,375.8 1571.1,374.6 1571.3,375.4 1571.5,377.0 1571.7,378.0 1571.9,376.9 1572.1,375.7 1572.3,376.2 1572.5,378.1 1572.7,376.6 1572.9,376.1 1573.1,377.7 1573.4,375.8 1573.6,375.2 1573.8,375.8 1574.0,377.6 1574.2,377.0 1574.4,376.8 1574.6,377.1 1574.8,375.8 1575.0,376.6 1575.2,376.7 1575.4,376.4 1575.6,377.2 1575.8,378.1 1576.0,376.6 1576.2,377.1 1576.4,376.1 1576.6,376.5 1576.8,377.0 1577.0,375.6 1577.2,376.7 1577.4,378.1 1577.6,375.1 1577.9,375.6 1578.1,376.8 1578.3,378.4 1578.5,377.8 1578.7,375.7 1578.9,376.8 1579.1,377.1 1579.3,376.3 1579.5,377.4 1579.7,377.3 1579.9,375.5 1580.1,376.2 1580.3,375.9 1580.5,376.1 1580.7,375.7 1580.9,375.9 1581.1,377.6 1581.3,376.9 1581.5,375.0 1581.7,376.5 1581.9,374.9 1582.1,377.1 1582.4,378.2 1582.6,376.6 1582.8,377.2 1583.0,377.4 1583.2,377.5 1583.4,378.9 1583.6,376.2 1583.8,376.9 1584.0,377.7 1584.2,378.4 1584.4,376.1 1584.6,376.7 1584.8,376.1 1585.0,376.4 1585.2,376.0 1585.4,376.8 1585.6,378.3 1585.8,376.6 1586.0,375.8 1586.2,378.2 1586.4,377.2 1586.6,375.2 1586.9,378.0 1587.1,375.4 1587.3,377.7 1587.5,378.4 1587.7,377.3 1587.9,377.4 1588.1,375.8 1588.3,379.0 1588.5,377.8 1588.7,377.8 1588.9,378.0 1589.1,376.8 1589.3,377.5 1589.5,376.9 1589.7,377.1 1589.9,375.7 1590.1,377.5 1590.3,376.8 1590.5,376.0 1590.7,376.3 1590.9,376.9 1591.2,376.0 1591.4,376.4 1591.6,376.5 1591.8,376.7 1592.0,375.8 1592.2,375.7 1592.4,377.4 1592.6,376.2 1592.8,376.3 1593.0,376.1 1593.2,377.6 1593.4,378.0 1593.6,377.0 1593.8,375.6 1594.0,377.8 1594.2,375.7 1594.4,376.7 1594.6,376.6 1594.8,376.5 1595.0,377.1 1595.2,377.0 1595.4,376.2 1595.7,375.2 1595.9,376.5 1596.1,376.2 1596.3,377.7 1596.5,376.8 1596.7,375.6 1596.9,375.6 1597.1,377.0 1597.3,376.8 1597.5,377.2 1597.7,377.6 1597.9,376.3 1598.1,377.2 1598.3,375.2 1598.5,379.0 1598.7,378.6 1598.9,378.1 1599.1,376.8 1599.3,377.0 1599.5,377.6 1599.7,380.0 1599.9,376.6 1600.2,378.5 1600.4,375.4 1600.6,376.7 1600.8,377.5 1601.0,377.1 1601.2,375.2 1601.4,377.2 1601.6,378.0 1601.8,379.5 1602.0,376.9 1602.2,377.6 1602.4,375.6 1602.6,376.5 1602.8,375.7 1603.0,377.2 1603.2,377.7 1603.4,375.8 1603.6,376.9 1603.8,377.5 1604.0,376.8 1604.2,375.7 1604.4,377.5 1604.7,374.8 1604.9,376.3 1605.1,378.0 1605.3,377.8 1605.5,376.8 1605.7,377.2 1605.9,377.2 1606.1,376.9 1606.3,376.5 1606.5,376.9 1606.7,377.2 1606.9,378.5 1607.1,374.8 1607.3,376.5 1607.5,376.0 1607.7,376.4 1607.9,375.2 1608.1,376.4 1608.3,375.3 1608.5,376.9 1608.7,376.5 1609.0,375.7 1609.2,375.5 1609.4,374.9 1609.6,376.4 1609.8,375.6 1610.0,376.4 1610.2,376.9 1610.4,374.4 1610.6,375.2 1610.8,376.4 1611.0,375.7 1611.2,374.2 1611.4,374.4 1611.6,374.6 1611.8,373.1 1612.0,373.7 1612.2,375.4 1612.4,372.5 1612.6,373.8 1612.8,373.7 1613.0,375.1 1613.2,376.0 1613.5,372.8 1613.7,373.5 1613.9,372.8 1614.1,372.1 1614.3,371.7 1614.5,371.1 1614.7,371.3 1614.9,373.7 1615.1,373.8 1615.3,373.2 1615.5,372.0 1615.7,372.6 1615.9,374.5 1616.1,375.0 1616.3,373.9 1616.5,374.9 1616.7,373.6 1616.9,374.0 1617.1,374.5 1617.3,375.9 1617.5,376.4 1617.7,375.2 1618.0,374.7 1618.2,375.7 1618.4,374.2 1618.6,375.9 1618.8,374.2 1619.0,375.0 1619.2,375.9 1619.4,376.5 1619.6,376.0 1619.8,375.2 1620.0,374.2 1620.2,375.2 1620.4,375.0 1620.6,377.6 1620.8,374.0 1621.0,375.2 1621.2,375.7 1621.4,376.9 1621.6,375.2 1621.8,371.6 1622.0,372.0 1622.2,371.3 1622.5,371.9 1622.7,369.7 1622.9,368.0 1623.1,366.4 1623.3,365.8 1623.5,363.7 1623.7,361.5 1623.9,357.9 1624.1,360.7 1624.3,357.6 1624.5,358.0 1624.7,359.0 1624.9,359.7 1625.1,361.7 1625.3,362.2 1625.5,364.6 1625.7,366.3 1625.9,361.5 1626.1,363.1 1626.3,366.2 1626.5,365.0 1626.8,367.0 1627.0,368.0 1627.2,369.9 1627.4,370.9 1627.6,369.1 1627.8,372.9 1628.0,372.7 1628.2,373.1 1628.4,372.5 1628.6,374.8 1628.8,374.2 1629.0,374.5 1629.2,375.8 1629.4,376.4 1629.6,374.9 1629.8,375.8 1630.0,374.7 1630.2,377.8 1630.4,375.4 1630.6,376.2 1630.8,377.6 1631.0,376.5 1631.3,377.9 1631.5,376.6 1631.7,375.2 1631.9,377.0 1632.1,375.9 1632.3,376.0 1632.5,376.9 1632.7,376.7 1632.9,376.3 1633.1,376.2 1633.3,377.1 1633.5,376.7 1633.7,375.8 1633.9,377.6 1634.1,377.7 1634.3,376.2 1634.5,376.1 1634.7,378.9 1634.9,376.5 1635.1,375.2 1635.3,375.7 1635.5,377.1 1635.8,376.4 1636.0,378.3 1636.2,376.0 1636.4,376.5 1636.6,375.9 1636.8,376.9 1637.0,376.1 1637.2,377.1 1637.4,375.7 1637.6,376.3 1637.8,378.6 1638.0,378.4 1638.2,376.1 1638.4,375.7 1638.6,375.5 1638.8,377.2 1639.0,376.6 1639.2,377.1 1639.4,377.4 1639.6,377.0 1639.8,375.5 1640.1,377.1 1640.3,375.0 1640.5,378.1 1640.7,377.1 1640.9,376.3 1641.1,376.2 1641.3,376.6 1641.5,378.5 1641.7,377.1 1641.9,375.3 1642.1,376.2 1642.3,376.2 1642.5,376.4 1642.7,376.9 1642.9,376.8 1643.1,377.4 1643.3,375.4 1643.5,376.4 1643.7,376.4 1643.9,376.6 1644.1,377.1 1644.3,378.3 1644.6,376.8 1644.8,377.5 1645.0,377.4 1645.2,376.6 1645.4,375.5 1645.6,377.9 1645.8,376.8 1646.0,375.2 1646.2,378.1 1646.4,376.3 1646.6,377.3 1646.8,376.1 1647.0,375.2 1647.2,376.9 1647.4,375.8 1647.6,376.5 1647.8,374.9 1648.0,380.3 1648.2,377.8 1648.4,376.9 1648.6,376.7 1648.8,375.1 1649.1,375.7 1649.3,377.2 1649.5,378.2 1649.7,375.6 1649.9,376.6 1650.1,377.0 1650.3,376.0 1650.5,375.0 1650.7,376.5 1650.9,375.4 1651.1,378.6 1651.3,376.0 1651.5,374.4 1651.7,375.6 1651.9,377.4 1652.1,377.9 1652.3,376.4 1652.5,377.7 1652.7,377.4 1652.9,378.6 1653.1,377.8 1653.3,376.3 1653.6,377.6 1653.8,377.7 1654.0,378.2 1654.2,377.0 1654.4,376.5 1654.6,376.7 1654.8,379.7 1655.0,376.9 1655.2,377.8 1655.4,377.0 1655.6,378.0 1655.8,375.7 1656.0,375.0 1656.2,376.0 1656.4,375.2 1656.6,376.6 1656.8,377.1 1657.0,378.9 1657.2,377.5 1657.4,377.3 1657.6,375.3 1657.9,377.8 1658.1,376.8 1658.3,376.3 1658.5,376.9 1658.7,376.9 1658.9,375.8 1659.1,377.8 1659.3,376.8 1659.5,376.7 1659.7,375.3 1659.9,375.5 1660.1,376.3 1660.3,376.0 1660.5,379.0 1660.7,376.6 1660.9,377.4 1661.1,378.4 1661.3,376.2 1661.5,377.3 1661.7,377.6 1661.9,378.6 1662.1,376.8 1662.4,375.7 1662.6,376.8 1662.8,376.2 1663.0,376.0 1663.2,376.9 1663.4,377.3 1663.6,377.6 1663.8,377.3 1664.0,377.5 1664.2,376.9 1664.4,377.4 1664.6,375.8 1664.8,377.8 1665.0,375.4 1665.2,377.4 1665.4,377.4 1665.6,376.2 1665.8,377.7 1666.0,378.8 1666.2,376.1 1666.4,375.5 1666.6,378.9 1666.9,376.4 1667.1,377.5 1667.3,377.2 1667.5,375.4 1667.7,378.3 1667.9,377.4 1668.1,375.7 1668.3,376.7 1668.5,376.5 1668.7,377.6 1668.9,377.8 1669.1,377.7 1669.3,376.7 1669.5,377.4 1669.7,376.5 1669.9,374.3 1670.1,378.7 1670.3,376.7 1670.5,377.0 1670.7,378.0 1670.9,376.8 1671.1,377.8 1671.4,378.3 1671.6,377.0 1671.8,375.4 1672.0,377.2 1672.2,376.6 1672.4,377.6 1672.6,377.7 1672.8,378.4 1673.0,377.0 1673.2,376.5 1673.4,378.7" fill="none" stroke="#3852a6" stroke-width="1.3" stroke-linejoin="round"/>
<polyline points="213.2,2.4 15.6,234.3 15.6,492.5 633.12,492.5 830.72,260.6 830.72,2.4 213.2,2.4" fill="none" stroke="#000" stroke-width="1.3" stroke-linejoin="miter"/>
<line x1="15.6" y1="492.5" x2="15.6" y2="498.5" class="t"/>
<line x1="36.18" y1="492.5" x2="36.18" y2="495.5" class="t"/>
<line x1="56.77" y1="492.5" x2="56.77" y2="495.5" class="t"/>
<line x1="77.35" y1="492.5" x2="77.35" y2="495.5" class="t"/>
<line x1="97.94" y1="492.5" x2="97.94" y2="495.5" class="t"/>
<line x1="118.52" y1="492.5" x2="118.52" y2="498.5" class="t"/>
<line x1="139.1" y1="492.5" x2="139.1" y2="495.5" class="t"/>
<line x1="159.69" y1="492.5" x2="159.69" y2="495.5" class="t"/>
<line x1="180.27" y1="492.5" x2="180.27" y2="495.5" class="t"/>
<line x1="200.86" y1="492.5" x2="200.86" y2="495.5" class="t"/>
<line x1="221.44" y1="492.5" x2="221.44" y2="498.5" class="t"/>
<line x1="242.02" y1="492.5" x2="242.02" y2="495.5" class="t"/>
<line x1="262.61" y1="492.5" x2="262.61" y2="495.5" class="t"/>
<line x1="283.19" y1="492.5" x2="283.19" y2="495.5" class="t"/>
<line x1="303.78" y1="492.5" x2="303.78" y2="495.5" class="t"/>
<line x1="324.36" y1="492.5" x2="324.36" y2="498.5" class="t"/>
<line x1="344.94" y1="492.5" x2="344.94" y2="495.5" class="t"/>
<line x1="365.53" y1="492.5" x2="365.53" y2="495.5" class="t"/>
<line x1="386.11" y1="492.5" x2="386.11" y2="495.5" class="t"/>
<line x1="406.7" y1="492.5" x2="406.7" y2="495.5" class="t"/>
<line x1="427.28" y1="492.5" x2="427.28" y2="498.5" class="t"/>
<line x1="447.86" y1="492.5" x2="447.86" y2="495.5" class="t"/>
<line x1="468.45" y1="492.5" x2="468.45" y2="495.5" class="t"/>
<line x1="489.03" y1="492.5" x2="489.03" y2="495.5" class="t"/>
<line x1="509.62" y1="492.5" x2="509.62" y2="495.5" class="t"/>
<line x1="530.2" y1="492.5" x2="530.2" y2="498.5" class="t"/>
<line x1="550.78" y1="492.5" x2="550.78" y2="495.5" class="t"/>
<line x1="571.37" y1="492.5" x2="571.37" y2="495.5" class="t"/>
<line x1="591.95" y1="492.5" x2="591.95" y2="495.5" class="t"/>
<line x1="612.54" y1="492.5" x2="612.54" y2="495.5" class="t"/>
<line x1="633.12" y1="492.5" x2="633.12" y2="498.5" class="t"/>
<line x1="830.72" y1="260.6" x2="836.72" y2="260.6" class="t"/>
<line x1="830.72" y1="243.1" x2="833.72" y2="243.1" class="t"/>
<line x1="830.72" y1="225.6" x2="833.72" y2="225.6" class="t"/>
<line x1="830.72" y1="208.1" x2="833.72" y2="208.1" class="t"/>
<line x1="830.72" y1="190.6" x2="833.72" y2="190.6" class="t"/>
<line x1="830.72" y1="173.1" x2="836.72" y2="173.1" class="t"/>
<line x1="830.72" y1="155.6" x2="833.72" y2="155.6" class="t"/>
<line x1="830.72" y1="138.1" x2="833.72" y2="138.1" class="t"/>
<line x1="830.72" y1="120.6" x2="833.72" y2="120.6" class="t"/>
<line x1="830.72" y1="103.1" x2="833.72" y2="103.1" class="t"/>
<line x1="830.72" y1="85.6" x2="836.72" y2="85.6" class="t"/>
<line x1="830.72" y1="68.1" x2="833.72" y2="68.1" class="t"/>
<line x1="830.72" y1="50.6" x2="833.72" y2="50.6" class="t"/>
<line x1="830.72" y1="33.1" x2="833.72" y2="33.1" class="t"/>
<line x1="830.72" y1="15.6" x2="833.72" y2="15.6" class="t"/>
<polyline points="1157.7,6 961.5,236.3 961.5,493 1575.3,493 1771.5,262.7 1771.5,6 1157.7,6" fill="none" stroke="#000" stroke-width="1.3" stroke-linejoin="miter"/>
<line x1="961.5" y1="493" x2="961.5" y2="499" class="t"/>
<line x1="981.96" y1="493" x2="981.96" y2="496" class="t"/>
<line x1="1002.42" y1="493" x2="1002.42" y2="496" class="t"/>
<line x1="1022.88" y1="493" x2="1022.88" y2="496" class="t"/>
<line x1="1043.34" y1="493" x2="1043.34" y2="496" class="t"/>
<line x1="1063.8" y1="493" x2="1063.8" y2="499" class="t"/>
<line x1="1084.26" y1="493" x2="1084.26" y2="496" class="t"/>
<line x1="1104.72" y1="493" x2="1104.72" y2="496" class="t"/>
<line x1="1125.18" y1="493" x2="1125.18" y2="496" class="t"/>
<line x1="1145.64" y1="493" x2="1145.64" y2="496" class="t"/>
<line x1="1166.1" y1="493" x2="1166.1" y2="499" class="t"/>
<line x1="1186.56" y1="493" x2="1186.56" y2="496" class="t"/>
<line x1="1207.02" y1="493" x2="1207.02" y2="496" class="t"/>
<line x1="1227.48" y1="493" x2="1227.48" y2="496" class="t"/>
<line x1="1247.94" y1="493" x2="1247.94" y2="496" class="t"/>
<line x1="1268.4" y1="493" x2="1268.4" y2="499" class="t"/>
<line x1="1288.86" y1="493" x2="1288.86" y2="496" class="t"/>
<line x1="1309.32" y1="493" x2="1309.32" y2="496" class="t"/>
<line x1="1329.78" y1="493" x2="1329.78" y2="496" class="t"/>
<line x1="1350.24" y1="493" x2="1350.24" y2="496" class="t"/>
<line x1="1370.7" y1="493" x2="1370.7" y2="499" class="t"/>
<line x1="1391.16" y1="493" x2="1391.16" y2="496" class="t"/>
<line x1="1411.62" y1="493" x2="1411.62" y2="496" class="t"/>
<line x1="1432.08" y1="493" x2="1432.08" y2="496" class="t"/>
<line x1="1452.54" y1="493" x2="1452.54" y2="496" class="t"/>
<line x1="1473" y1="493" x2="1473" y2="499" class="t"/>
<line x1="1493.46" y1="493" x2="1493.46" y2="496" class="t"/>
<line x1="1513.92" y1="493" x2="1513.92" y2="496" class="t"/>
<line x1="1534.38" y1="493" x2="1534.38" y2="496" class="t"/>
<line x1="1554.84" y1="493" x2="1554.84" y2="496" class="t"/>
<line x1="1575.3" y1="493" x2="1575.3" y2="499" class="t"/>
<text x="15.6" y="523.1" font-size="26" text-anchor="middle">20</text>
<text x="118.52" y="523.1" font-size="26" text-anchor="middle">30</text>
<text x="221.44" y="523.1" font-size="26" text-anchor="middle">40</text>
<text x="324.36" y="523.1" font-size="26" text-anchor="middle">50</text>
<text x="427.28" y="523.1" font-size="26" text-anchor="middle">60</text>
<text x="530.2" y="523.1" font-size="26" text-anchor="middle">70</text>
<text x="633.12" y="523.1" font-size="26" text-anchor="middle">80</text>
<text x="961.5" y="523.8" font-size="26" text-anchor="middle">20</text>
<text x="1063.8" y="523.8" font-size="26" text-anchor="middle">30</text>
<text x="1166.1" y="523.8" font-size="26" text-anchor="middle">40</text>
<text x="1268.4" y="523.8" font-size="26" text-anchor="middle">50</text>
<text x="1370.7" y="523.8" font-size="26" text-anchor="middle">60</text>
<text x="1473" y="523.8" font-size="26" text-anchor="middle">70</text>
<text x="1575.3" y="523.8" font-size="26" text-anchor="middle">80</text>
<text x="841" y="268.2" font-size="26" text-anchor="start">0</text>
<text x="841" y="180.7" font-size="26" text-anchor="start">100</text>
<text x="841" y="93.2" font-size="26" text-anchor="start">200</text>
<text x="1778.5" y="269.5" font-size="26" text-anchor="start">0</text>
<text x="1777.7" y="183" font-size="26" text-anchor="start">200</text>
<text x="1777.7" y="96.3" font-size="26" text-anchor="start">400</text>
<text x="324.2" y="550.2" font-size="24.5" font-weight="bold" text-anchor="middle">2Theta</text>
<text x="1268" y="550.6" font-size="24.5" font-weight="bold" text-anchor="middle">2Theta</text>
<text x="916" y="131.8" font-size="25" font-weight="bold" text-anchor="middle" transform="rotate(-90 916 131.8)">Counts</text>
<text x="1852" y="134.3" font-size="25" font-weight="bold" text-anchor="middle" transform="rotate(-90 1852 134.3)">Counts</text>
<text x="29.3" y="61.8" font-size="43" font-weight="bold" text-anchor="start">Al</text>
<text x="985" y="70" font-size="42" font-weight="bold" text-anchor="start">Cu</text>
<text x="368" y="62.1" font-size="25" font-weight="bold" text-anchor="start">Diamond (111)</text>
<text x="367.5" y="255.6" font-size="25" font-weight="bold" text-anchor="start">Al</text>
<text x="450" y="257" font-size="25" font-weight="bold" text-anchor="start">Al</text>
<line x1="446.4" y1="266" x2="442.85" y2="272.14" stroke="#000" stroke-width="0.8"/>
<polygon points="438.6,279.5 440.6,270.84 445.1,273.44" fill="#000"/>
<text x="649.5" y="232.5" font-size="25" font-weight="bold" text-anchor="start">Diamond (220)</text>
<text x="818" y="303.4" font-size="25" font-weight="bold" text-anchor="start">ref.</text>
<text x="752" y="384.3" font-size="25" font-weight="bold" text-anchor="start">RF</text>
<text x="683" y="460.1" font-size="25" font-weight="bold" text-anchor="start">ICP</text>
<text x="1287.5" y="55" font-size="25" font-weight="bold" text-anchor="start">Diamond (111)</text>
<text x="1302.8" y="105" font-size="25" font-weight="bold" text-anchor="start">Cu</text>
<line x1="1333.5" y1="113" x2="1348.33" y2="128.05" stroke="#000" stroke-width="0.8"/>
<polygon points="1354.3,134.1 1346.48,129.87 1350.18,126.22" fill="#000"/>
<text x="1419" y="264.2" font-size="25" font-weight="bold" text-anchor="start">Cu</text>
<text x="1590.5" y="211.6" font-size="25" font-weight="bold" text-anchor="start">Diamond (220)</text>
<line x1="1688.4" y1="221.8" x2="1688.4" y2="251.2" stroke="#555" stroke-width="1"/>
<polygon points="1688.4,259.7 1685.8,251.2 1691,251.2" fill="#555"/>
<text x="1628.5" y="263.5" font-size="25" font-weight="bold" text-anchor="start">Cu</text>
<line x1="1655.4" y1="271.6" x2="1664.99" y2="280.89" stroke="#000" stroke-width="0.8"/>
<polygon points="1671.1,286.8 1663.18,282.76 1666.8,279.02" fill="#000"/>
<text x="1761.7" y="307.3" font-size="25" font-weight="bold" text-anchor="start">ref.</text>
<text x="1692.2" y="385.6" font-size="25" font-weight="bold" text-anchor="start">RF</text>
<text x="1626.8" y="464" font-size="25" font-weight="bold" text-anchor="start">ICP</text>
<text x="1004" y="432.3" font-size="25" font-weight="bold">Cu<tspan font-size="13.5" dy="7">2</tspan><tspan dy="-7">O (111)</tspan></text>
<line x1="1134" y1="423.4" x2="1147.52" y2="424.38" stroke="#000" stroke-width="0.8"/>
<polygon points="1156,425 1147.33,426.98 1147.71,421.79" fill="#000"/>
<text x="1104" y="403.9" font-size="25" font-weight="bold">Cu<tspan font-size="13.5" dy="7">2</tspan><tspan dy="-7">O (200)</tspan></text>
<line x1="1207.3" y1="411.2" x2="1212.94" y2="429.09" stroke="#000" stroke-width="0.8"/>
<polygon points="1215.5,437.2 1210.46,429.88 1215.42,428.31" fill="#000"/>
<text x="1353.5" y="424.9" font-size="25" font-weight="bold">Cu<tspan font-size="13.5" dy="7">2</tspan><tspan dy="-7">O (220)</tspan></text>
</svg></body></html>
